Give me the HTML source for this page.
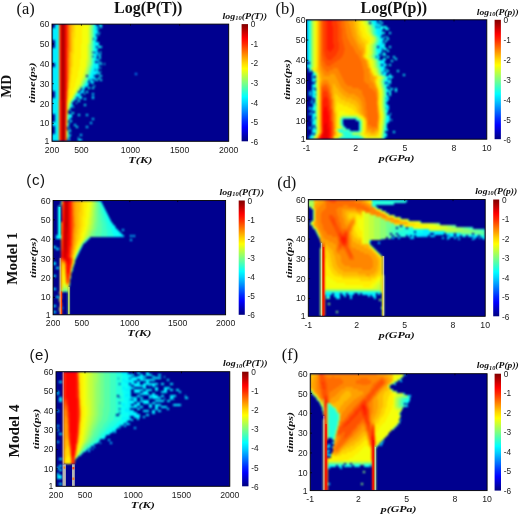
<!DOCTYPE html>
<html lang="en"><head><meta charset="utf-8"><title>Log probability maps</title>
<style>html,body{margin:0;padding:0;background:#fff}svg{display:block}.tk{font-family:'Liberation Sans', Arial, sans-serif;font-size:8.7px;fill:#1a1a1a}.ax{font-family:'Liberation Serif', 'Times New Roman', serif;font-weight:bold;font-style:italic;font-size:9.2px;fill:#111}.cbt{font-family:'Liberation Serif', 'Times New Roman', serif;font-weight:bold;font-style:italic;font-size:8px;fill:#111}.ttl{font-family:'Liberation Serif', 'Times New Roman', serif;font-weight:bold;font-size:16px;fill:#111}.row{font-family:'Liberation Serif', 'Times New Roman', serif;font-weight:bold;font-size:14.5px;fill:#111}.pl{font-size:16.4px;fill:#111}</style></head><body>
<svg width="520" height="515" viewBox="0 0 520 515">
<defs>
<linearGradient id="jet" x1="0" y1="1" x2="0" y2="0"><stop offset="0" stop-color="#000080"/><stop offset="0.04" stop-color="#0000aa"/><stop offset="0.08" stop-color="#0000d4"/><stop offset="0.12" stop-color="#0000ff"/><stop offset="0.17" stop-color="#002aff"/><stop offset="0.21" stop-color="#0055ff"/><stop offset="0.25" stop-color="#0080ff"/><stop offset="0.29" stop-color="#00aaff"/><stop offset="0.33" stop-color="#00d4ff"/><stop offset="0.38" stop-color="#00ffff"/><stop offset="0.42" stop-color="#2bffd4"/><stop offset="0.46" stop-color="#55ffaa"/><stop offset="0.5" stop-color="#80ff80"/><stop offset="0.54" stop-color="#aaff55"/><stop offset="0.58" stop-color="#d5ff2a"/><stop offset="0.62" stop-color="#ffff00"/><stop offset="0.67" stop-color="#ffd500"/><stop offset="0.71" stop-color="#ffaa00"/><stop offset="0.75" stop-color="#ff8000"/><stop offset="0.79" stop-color="#ff5500"/><stop offset="0.83" stop-color="#ff2a00"/><stop offset="0.88" stop-color="#ff0000"/><stop offset="0.92" stop-color="#d50000"/><stop offset="0.96" stop-color="#aa0000"/><stop offset="1" stop-color="#800000"/></linearGradient>
<filter id="bl" x="-5%" y="-5%" width="110%" height="110%" color-interpolation-filters="sRGB"><feGaussianBlur stdDeviation="0.8"/></filter>
<filter id="bl2" x="-20%" y="-5%" width="140%" height="110%" color-interpolation-filters="sRGB"><feGaussianBlur stdDeviation="0.4"/></filter>
<clipPath id="cpa"><rect x="52" y="24.1" width="176.7" height="117.2"/></clipPath>
<clipPath id="cpb"><rect x="306.5" y="19.8" width="180.3" height="119.4"/></clipPath>
<clipPath id="cpc"><rect x="53.1" y="200.5" width="172.5" height="114.3"/></clipPath>
<clipPath id="cpd"><rect x="308.3" y="199.5" width="176.9" height="116.8"/></clipPath>
<clipPath id="cpe"><rect x="56" y="371.7" width="173.8" height="114.6"/></clipPath>
<clipPath id="cpf"><rect x="310.2" y="373.7" width="176.9" height="116.9"/></clipPath>
</defs>
<rect width="520" height="515" fill="#fff"/>
<text class="ttl" x="148.2" y="13.0" text-anchor="middle">Log(P(T))</text>
<text class="ttl" x="393.8" y="12.6" text-anchor="middle">Log(P(p))</text>
<text class="row" style="font-size:13.8px" transform="translate(11.4 86.3) rotate(-90)" text-anchor="middle">MD</text>
<text class="row" style="font-size:15.1px" transform="translate(17.2 258.5) rotate(-90)" text-anchor="middle">Model 1</text>
<text class="row" style="font-size:15.3px" transform="translate(18.9 431) rotate(-90)" text-anchor="middle">Model 4</text>
<g id="panel-a">
<rect x="52" y="24.1" width="176.7" height="117.2" fill="#00008f"/>
<g clip-path="url(#cpa)"><g filter="url(#bl)" shape-rendering="crispEdges">
<path fill="#00a0ff" d="M134.9 72.9h2v2.1h-2z"/>
<path fill="#00efff" d="M55 24.1h40.9v2.1h-40.9zM55 26.1h42.9v2.1h-42.9zM52 28h44.9v2.1h-44.9zM97.9 28h1v2.1h-1zM52 30h45.9v2.1h-45.9zM52 31.9h45.9v2.1h-45.9zM52 33.9h43.9v2.1h-43.9zM97.9 33.9h1v2.1h-1zM52 35.8h44.9v2.1h-44.9zM52 37.8h6v2.1h-6zM94.9 37.8h2v2.1h-2zM55 39.7h40.9v2.1h-40.9zM55 41.7h42.9v2.1h-42.9zM55 43.6h42.9v2.1h-42.9zM55 45.6h40.9v2.1h-40.9zM52 47.5h45.9v2.1h-45.9zM52 49.5h44.9v2.1h-44.9zM52 51.4h6v2.1h-6zM95.9 51.4h2v2.1h-2zM52 53.4h44.9v2.1h-44.9zM97.9 53.4h1v2.1h-1zM52 55.4h6v2.1h-6zM94.9 55.4h2v2.1h-2zM52 57.3h43.9v2.1h-43.9zM52 59.3h46.9v2.1h-46.9zM52 61.2h6v2.1h-6zM97.9 61.2h1v2.1h-1zM55 63.2h43.9v2.1h-43.9zM55 65.1h43.9v2.1h-43.9zM52 67.1h45.9v2.1h-45.9zM52 69h42.9v2.1h-42.9zM95.9 69h2v2.1h-2zM52 71h45.9v2.1h-45.9zM52 72.9h44.9v2.1h-44.9zM52 74.9h6v2.1h-6zM90.9 74.9h3v2.1h-3zM52 76.8h43.9v2.1h-43.9zM52 78.8h6v2.1h-6zM89.9 78.8h2v2.1h-2zM93.9 78.8h1v2.1h-1zM52 80.7h6v2.1h-6zM89.9 80.7h4v2.1h-4zM52 82.7h36.9v2.1h-36.9zM91.9 82.7h1v2.1h-1zM52 84.7h35.9v2.1h-35.9zM52 86.6h6v2.1h-6zM83.9 86.6h1v2.1h-1zM52 88.6h6v2.1h-6zM81.9 88.6h2v2.1h-2zM55 90.5h3v2.1h-3zM80 90.5h4v2.1h-4zM55 92.5h26v2.1h-26zM91.9 92.5h2v2.1h-2zM55 94.4h25v2.1h-25zM55 96.4h3v2.1h-3zM91.9 96.4h2v2.1h-2zM52 98.3h24v2.1h-24zM83.9 98.3h2v2.1h-2zM52 100.3h22v2.1h-22zM52 102.2h6v2.1h-6zM52 104.2h21v2.1h-21zM52 106.1h20v2.1h-20zM52 108.1h6v2.1h-6zM52 110h6v2.1h-6zM70 110h1v2.1h-1zM52 112h6v2.1h-6zM55 114h15v2.1h-15zM85.9 114h2v2.1h-2zM55 115.9h15v2.1h-15zM55 117.9h15v2.1h-15zM91.9 117.9h2v2.1h-2zM55 119.8h3v2.1h-3zM52 121.8h6v2.1h-6zM89.9 121.8h2v2.1h-2zM52 123.7h17v2.1h-17zM74 123.7h2v2.1h-2zM55 125.7h3v2.1h-3zM68 125.7h1v2.1h-1zM85.9 125.7h2v2.1h-2zM55 127.6h3v2.1h-3zM55 129.6h3v2.1h-3zM55 131.5h14v2.1h-14zM52 133.5h17v2.1h-17zM80 133.5h2v2.1h-2zM52 135.4h6v2.1h-6zM52 137.4h6v2.1h-6zM68 137.4h1v2.1h-1zM52 139.3h6v2.1h-6zM78 139.3h4v2.1h-4z"/>
<path fill="#0afff5" d="M58 24.1h1v2.1h-1zM98.9 24.1h3v2.1h-3zM58 26.1h36.9v2.1h-36.9zM99.9 26.1h2v2.1h-2zM58 28h36.9v2.1h-36.9zM58 30h36.9v2.1h-36.9zM58 31.9h36.9v2.1h-36.9zM98.9 31.9h1v2.1h-1zM58 33.9h36.9v2.1h-36.9zM58 35.8h36.9v2.1h-36.9zM58 37.8h1v2.1h-1zM93.9 37.8h1v2.1h-1zM58 39.7h36.9v2.1h-36.9zM58 41.7h36.9v2.1h-36.9zM97.9 41.7h1v2.1h-1zM58 43.6h36.9v2.1h-36.9zM97.9 43.6h1v2.1h-1zM58 45.6h36.9v2.1h-36.9zM97.9 45.6h4v2.1h-4zM58 47.5h36.9v2.1h-36.9zM58 49.5h36.9v2.1h-36.9zM58 51.4h1v2.1h-1zM99.9 51.4h1v2.1h-1zM58 53.4h36.9v2.1h-36.9zM99.9 53.4h1v2.1h-1zM58 55.4h1v2.1h-1zM93.9 55.4h1v2.1h-1zM98.9 55.4h1v2.1h-1zM58 57.3h36.9v2.1h-36.9zM98.9 57.3h2v2.1h-2zM58 59.3h36.9v2.1h-36.9zM58 61.2h36.9v2.1h-36.9zM99.9 61.2h1v2.1h-1zM58 63.2h36.9v2.1h-36.9zM99.9 63.2h2v2.1h-2zM103.9 63.2h1v2.1h-1zM58 65.1h35.9v2.1h-35.9zM58 67.1h35.9v2.1h-35.9zM97.9 67.1h1v2.1h-1zM99.9 67.1h1v2.1h-1zM58 69h34.9v2.1h-34.9zM58 71h33.9v2.1h-33.9zM97.9 71h1v2.1h-1zM99.9 71h1v2.1h-1zM58 72.9h33.9v2.1h-33.9zM97.9 72.9h2v2.1h-2zM58 74.9h1v2.1h-1zM89.9 74.9h1v2.1h-1zM99.9 74.9h2v2.1h-2zM58 76.8h31.9v2.1h-31.9zM97.9 76.8h2v2.1h-2zM58 78.8h30.9v2.1h-30.9zM95.9 78.8h2v2.1h-2zM99.9 78.8h2v2.1h-2zM58 80.7h29.9v2.1h-29.9zM58 82.7h29v2.1h-29zM58 84.7h27v2.1h-27zM93.9 84.7h1v2.1h-1zM58 86.6h1v2.1h-1zM82.9 86.6h1v2.1h-1zM87.9 86.6h2v2.1h-2zM91.9 86.6h2v2.1h-2zM58 88.6h1v2.1h-1zM58 90.5h1v2.1h-1zM85.9 90.5h2v2.1h-2zM58 92.5h20v2.1h-20zM83.9 92.5h1v2.1h-1zM58 94.4h19v2.1h-19zM58 96.4h18v2.1h-18zM79 96.4h3v2.1h-3zM58 98.3h17v2.1h-17zM77 98.3h1v2.1h-1zM78 100.3h2v2.1h-2zM76 102.2h1v2.1h-1zM83.9 104.2h2v2.1h-2zM70 106.1h1v2.1h-1zM73 106.1h1v2.1h-1zM72 112h2v2.1h-2zM70 114h2v2.1h-2zM78 114h2v2.1h-2zM70 115.9h2v2.1h-2zM68 117.9h1v2.1h-1zM70 119.8h2v2.1h-2zM69 121.8h1v2.1h-1zM76 125.7h2v2.1h-2zM69 127.6h1v2.1h-1zM69 129.6h2v2.1h-2zM70 133.5h1v2.1h-1zM69 135.4h1v2.1h-1zM78 137.4h1v2.1h-1zM69 139.3h1v2.1h-1z"/>
<path fill="#24ffdb" d="M93.9 24.1h1v2.1h-1zM92.9 39.7h1v2.1h-1zM92.9 41.7h1v2.1h-1zM92.9 43.6h1v2.1h-1zM92.9 45.6h1v2.1h-1zM92.9 47.5h1v2.1h-1zM92.9 49.5h1v2.1h-1zM92.9 53.4h1v2.1h-1zM92.9 57.3h1v2.1h-1zM92.9 59.3h1v2.1h-1zM92.9 61.2h1v2.1h-1zM91.9 65.1h1v2.1h-1zM90.9 69h1v2.1h-1zM88.9 74.9h1v2.1h-1zM87.9 76.8h1v2.1h-1zM86.9 78.8h1v2.1h-1zM85.9 80.7h1v2.1h-1zM84.9 82.7h1v2.1h-1zM81.9 86.6h1v2.1h-1zM72 100.3h1v2.1h-1zM71 102.2h1v2.1h-1z"/>
<path fill="#3effc1" d="M92.9 28h1v2.1h-1zM92.9 30h1v2.1h-1zM92.9 31.9h1v2.1h-1zM92.9 33.9h1v2.1h-1zM92.9 35.8h1v2.1h-1zM91.9 57.3h1v2.1h-1zM91.9 59.3h1v2.1h-1zM91.9 61.2h1v2.1h-1zM91.9 63.2h1v2.1h-1zM90.9 67.1h1v2.1h-1zM89.9 69h1v2.1h-1zM89.9 71h1v2.1h-1zM88.9 72.9h1v2.1h-1zM87.9 74.9h1v2.1h-1zM82.9 84.7h1v2.1h-1zM75 94.4h1v2.1h-1zM74 96.4h1v2.1h-1zM73 98.3h1v2.1h-1zM58 100.3h1v2.1h-1zM70 104.2h1v2.1h-1zM69 108.1h1v2.1h-1zM68 114h1v2.1h-1z"/>
<path fill="#58ffa7" d="M92.9 24.1h1v2.1h-1zM92.9 26.1h1v2.1h-1zM91.9 37.8h1v2.1h-1zM91.9 39.7h1v2.1h-1zM91.9 41.7h1v2.1h-1zM91.9 43.6h1v2.1h-1zM91.9 45.6h1v2.1h-1zM91.9 47.5h1v2.1h-1zM91.9 49.5h1v2.1h-1zM91.9 53.4h1v2.1h-1zM90.9 65.1h1v2.1h-1zM89.9 67.1h1v2.1h-1zM88.9 71h1v2.1h-1zM86.9 76.8h1v2.1h-1zM85.9 78.8h1v2.1h-1zM84.9 80.7h1v2.1h-1zM83.9 82.7h1v2.1h-1zM79 88.6h1v2.1h-1zM76 92.5h1v2.1h-1zM58 102.2h1v2.1h-1zM58 104.2h1v2.1h-1zM58 106.1h1v2.1h-1zM58 108.1h1v2.1h-1zM58 110h1v2.1h-1zM58 112h1v2.1h-1zM58 114h1v2.1h-1zM58 115.9h1v2.1h-1zM58 117.9h1v2.1h-1zM58 119.8h1v2.1h-1zM58 121.8h1v2.1h-1zM58 123.7h1v2.1h-1zM58 125.7h1v2.1h-1zM58 127.6h1v2.1h-1zM58 129.6h1v2.1h-1zM58 131.5h1v2.1h-1zM58 133.5h1v2.1h-1zM58 135.4h1v2.1h-1zM58 137.4h1v2.1h-1zM58 139.3h1v2.1h-1z"/>
<path fill="#72ff8d" d="M91.9 24.1h1v2.1h-1zM91.9 26.1h1v2.1h-1zM91.9 28h1v2.1h-1zM91.9 30h1v2.1h-1zM91.9 31.9h1v2.1h-1zM91.9 33.9h1v2.1h-1zM91.9 35.8h1v2.1h-1zM90.9 41.7h1v2.1h-1zM90.9 43.6h1v2.1h-1zM90.9 45.6h1v2.1h-1zM90.9 47.5h1v2.1h-1zM90.9 49.5h1v2.1h-1zM90.9 51.4h1v2.1h-1zM90.9 53.4h1v2.1h-1zM90.9 55.4h1v2.1h-1zM90.9 57.3h1v2.1h-1zM90.9 59.3h1v2.1h-1zM90.9 61.2h1v2.1h-1zM90.9 63.2h1v2.1h-1zM89.9 65.1h1v2.1h-1zM88.9 69h1v2.1h-1zM87.9 71h1v2.1h-1zM87.9 72.9h1v2.1h-1zM85.9 76.8h1v2.1h-1zM84.9 78.8h1v2.1h-1zM83.9 80.7h1v2.1h-1zM82.9 82.7h1v2.1h-1zM81.9 84.7h1v2.1h-1zM80 86.6h1v2.1h-1zM77 90.5h1v2.1h-1zM72 98.3h1v2.1h-1zM71 100.3h1v2.1h-1zM70 102.2h1v2.1h-1zM69 106.1h1v2.1h-1zM67 135.4h1v2.1h-1z"/>
<path fill="#8dff72" d="M90.9 24.1h1v2.1h-1zM90.9 26.1h1v2.1h-1zM90.9 28h1v2.1h-1zM90.9 30h1v2.1h-1zM90.9 31.9h1v2.1h-1zM90.9 33.9h1v2.1h-1zM90.9 35.8h1v2.1h-1zM90.9 37.8h1v2.1h-1zM90.9 39.7h1v2.1h-1zM89.9 43.6h1v2.1h-1zM89.9 45.6h1v2.1h-1zM89.9 47.5h1v2.1h-1zM89.9 49.5h1v2.1h-1zM89.9 51.4h1v2.1h-1zM89.9 53.4h1v2.1h-1zM89.9 55.4h1v2.1h-1zM89.9 57.3h1v2.1h-1zM89.9 59.3h1v2.1h-1zM89.9 61.2h1v2.1h-1zM89.9 63.2h1v2.1h-1zM88.9 65.1h1v2.1h-1zM87.9 67.1h2v2.1h-2zM87.9 69h1v2.1h-1zM86.9 71h1v2.1h-1zM86.9 72.9h1v2.1h-1zM84.9 76.8h1v2.1h-1zM83.9 78.8h1v2.1h-1zM82.9 80.7h1v2.1h-1zM81.9 82.7h1v2.1h-1zM81 84.7h1v2.1h-1zM78 88.6h1v2.1h-1zM75 92.5h1v2.1h-1zM74 94.4h1v2.1h-1zM73 96.4h1v2.1h-1zM69 104.2h1v2.1h-1zM67 121.8h1v2.1h-1zM67 123.7h1v2.1h-1zM67 129.6h1v2.1h-1zM67 131.5h1v2.1h-1zM67 133.5h1v2.1h-1z"/>
<path fill="#a7ff58" d="M89.9 26.1h1v2.1h-1zM89.9 28h1v2.1h-1zM89.9 30h1v2.1h-1zM89.9 31.9h1v2.1h-1zM89.9 33.9h1v2.1h-1zM89.9 35.8h1v2.1h-1zM89.9 37.8h1v2.1h-1zM89.9 39.7h1v2.1h-1zM89.9 41.7h1v2.1h-1zM88.9 43.6h1v2.1h-1zM88.9 45.6h1v2.1h-1zM88.9 47.5h1v2.1h-1zM88.9 49.5h1v2.1h-1zM88.9 51.4h1v2.1h-1zM88.9 53.4h1v2.1h-1zM88.9 55.4h1v2.1h-1zM88.9 57.3h1v2.1h-1zM88.9 59.3h1v2.1h-1zM88.9 61.2h1v2.1h-1zM87.9 63.2h2v2.1h-2zM87.9 65.1h1v2.1h-1zM86.9 67.1h1v2.1h-1zM86.9 69h1v2.1h-1zM85.9 71h1v2.1h-1zM85.9 72.9h1v2.1h-1zM84.9 74.9h1v2.1h-1zM83.9 76.8h1v2.1h-1zM82.9 78.8h1v2.1h-1zM81.9 80.7h1v2.1h-1zM80 84.7h1v2.1h-1zM79 86.6h1v2.1h-1zM77 88.6h1v2.1h-1zM76 90.5h1v2.1h-1zM68 108.1h1v2.1h-1zM67 117.9h1v2.1h-1zM67 119.8h1v2.1h-1z"/>
<path fill="#c1ff3e" d="M89.9 24.1h1v2.1h-1zM88.9 26.1h1v2.1h-1zM88.9 28h1v2.1h-1zM88.9 30h1v2.1h-1zM88.9 31.9h1v2.1h-1zM88.9 33.9h1v2.1h-1zM88.9 35.8h1v2.1h-1zM88.9 37.8h1v2.1h-1zM88.9 39.7h1v2.1h-1zM88.9 41.7h1v2.1h-1zM87.9 43.6h1v2.1h-1zM87.9 45.6h1v2.1h-1zM87.9 47.5h1v2.1h-1zM87.9 49.5h1v2.1h-1zM87.9 51.4h1v2.1h-1zM87.9 53.4h1v2.1h-1zM87.9 55.4h1v2.1h-1zM87.9 57.3h1v2.1h-1zM87.9 59.3h1v2.1h-1zM86.9 61.2h2v2.1h-2zM86.9 63.2h1v2.1h-1zM86.9 65.1h1v2.1h-1zM85.9 67.1h1v2.1h-1zM85.9 69h1v2.1h-1zM84.9 71h1v2.1h-1zM83.9 72.9h2v2.1h-2zM83.9 74.9h1v2.1h-1zM82.9 76.8h1v2.1h-1zM81.9 78.8h1v2.1h-1zM81 80.7h1v2.1h-1zM81 82.7h1v2.1h-1zM79 84.7h1v2.1h-1zM78 86.6h1v2.1h-1zM74 92.5h1v2.1h-1zM73 94.4h1v2.1h-1zM72 96.4h1v2.1h-1zM71 98.3h1v2.1h-1zM70 100.3h1v2.1h-1zM69 102.2h1v2.1h-1zM68 106.1h1v2.1h-1zM67 114h1v2.1h-1zM67 115.9h1v2.1h-1z"/>
<path fill="#dbff24" d="M88.9 24.1h1v2.1h-1zM87.9 28h1v2.1h-1zM87.9 30h1v2.1h-1zM87.9 31.9h1v2.1h-1zM87.9 33.9h1v2.1h-1zM87.9 35.8h1v2.1h-1zM87.9 37.8h1v2.1h-1zM87.9 39.7h1v2.1h-1zM87.9 41.7h1v2.1h-1zM86.9 43.6h1v2.1h-1zM86.9 45.6h1v2.1h-1zM86.9 47.5h1v2.1h-1zM86.9 49.5h1v2.1h-1zM86.9 51.4h1v2.1h-1zM86.9 53.4h1v2.1h-1zM86.9 55.4h1v2.1h-1zM86.9 57.3h1v2.1h-1zM85.9 59.3h2v2.1h-2zM85.9 61.2h1v2.1h-1zM85.9 63.2h1v2.1h-1zM85.9 65.1h1v2.1h-1zM84.9 67.1h1v2.1h-1zM83.9 69h2v2.1h-2zM83.9 71h1v2.1h-1zM82.9 72.9h1v2.1h-1zM82.9 74.9h1v2.1h-1zM81.9 76.8h1v2.1h-1zM81 78.8h1v2.1h-1zM80 80.7h1v2.1h-1zM80 82.7h1v2.1h-1zM78 84.7h1v2.1h-1zM77 86.6h1v2.1h-1zM76 88.6h1v2.1h-1zM75 90.5h1v2.1h-1zM68 104.2h1v2.1h-1zM67 112h1v2.1h-1z"/>
<path fill="#f5ff0a" d="M82.9 24.1h6v2.1h-6zM82.9 26.1h6v2.1h-6zM81.9 28h6v2.1h-6zM81.9 30h6v2.1h-6zM81.9 31.9h6v2.1h-6zM81.9 33.9h6v2.1h-6zM81.9 35.8h6v2.1h-6zM81.9 37.8h6v2.1h-6zM81.9 39.7h6v2.1h-6zM81.9 41.7h6v2.1h-6zM81 43.6h6v2.1h-6zM81 45.6h6v2.1h-6zM81 47.5h6v2.1h-6zM81 49.5h6v2.1h-6zM81 51.4h6v2.1h-6zM81 53.4h6v2.1h-6zM81 55.4h6v2.1h-6zM81 57.3h6v2.1h-6zM80 59.3h6v2.1h-6zM80 61.2h6v2.1h-6zM80 63.2h6v2.1h-6zM80 65.1h6v2.1h-6zM79 67.1h6v2.1h-6zM79 69h5v2.1h-5zM78 71h6v2.1h-6zM78 72.9h5v2.1h-5zM78 74.9h5v2.1h-5zM77 76.8h5v2.1h-5zM76 78.8h5v2.1h-5zM76 80.7h4v2.1h-4zM75 82.7h5v2.1h-5zM75 84.7h3v2.1h-3zM74 86.6h3v2.1h-3zM73 88.6h3v2.1h-3zM72 90.5h3v2.1h-3zM72 92.5h2v2.1h-2zM71 94.4h2v2.1h-2zM70 96.4h2v2.1h-2zM70 98.3h1v2.1h-1zM69 100.3h1v2.1h-1zM68 102.2h1v2.1h-1zM67 108.1h1v2.1h-1zM67 110h1v2.1h-1z"/>
<path fill="#ffef00" d="M75 24.1h8v2.1h-8zM75 26.1h8v2.1h-8zM75 28h7v2.1h-7zM75 30h7v2.1h-7zM75 31.9h7v2.1h-7zM75 33.9h7v2.1h-7zM75 35.8h7v2.1h-7zM74 37.8h8v2.1h-8zM74 39.7h8v2.1h-8zM74 41.7h8v2.1h-8zM74 43.6h7v2.1h-7zM74 45.6h7v2.1h-7zM74 47.5h7v2.1h-7zM74 49.5h7v2.1h-7zM74 51.4h7v2.1h-7zM73 53.4h8v2.1h-8zM73 55.4h8v2.1h-8zM73 57.3h8v2.1h-8zM73 59.3h7v2.1h-7zM73 61.2h7v2.1h-7zM73 63.2h7v2.1h-7zM73 65.1h7v2.1h-7zM72 67.1h7v2.1h-7zM72 69h7v2.1h-7zM72 71h6v2.1h-6zM72 72.9h6v2.1h-6zM71 74.9h7v2.1h-7zM71 76.8h6v2.1h-6zM71 78.8h5v2.1h-5zM71 80.7h5v2.1h-5zM70 82.7h5v2.1h-5zM70 84.7h5v2.1h-5zM70 86.6h4v2.1h-4zM69 88.6h4v2.1h-4zM69 90.5h3v2.1h-3zM69 92.5h3v2.1h-3zM69 94.4h2v2.1h-2zM68 96.4h2v2.1h-2zM68 98.3h2v2.1h-2zM68 100.3h1v2.1h-1zM67 104.2h1v2.1h-1zM67 106.1h1v2.1h-1zM66 137.4h1v2.1h-1zM66 139.3h1v2.1h-1z"/>
<path fill="#ffd500" d="M73 24.1h2v2.1h-2zM73 26.1h2v2.1h-2zM73 28h2v2.1h-2zM73 30h2v2.1h-2zM72 31.9h3v2.1h-3zM72 33.9h3v2.1h-3zM72 35.8h3v2.1h-3zM72 37.8h2v2.1h-2zM72 39.7h2v2.1h-2zM72 41.7h2v2.1h-2zM72 43.6h2v2.1h-2zM72 45.6h2v2.1h-2zM72 47.5h2v2.1h-2zM72 49.5h2v2.1h-2zM71 51.4h3v2.1h-3zM71 53.4h2v2.1h-2zM71 55.4h2v2.1h-2zM71 57.3h2v2.1h-2zM71 59.3h2v2.1h-2zM71 61.2h2v2.1h-2zM71 63.2h2v2.1h-2zM71 65.1h2v2.1h-2zM70 67.1h2v2.1h-2zM70 69h2v2.1h-2zM70 71h2v2.1h-2zM70 72.9h2v2.1h-2zM70 74.9h1v2.1h-1zM70 76.8h1v2.1h-1zM69 78.8h2v2.1h-2zM69 80.7h2v2.1h-2zM69 82.7h1v2.1h-1zM69 84.7h1v2.1h-1zM69 86.6h1v2.1h-1zM68 88.6h1v2.1h-1zM68 90.5h1v2.1h-1zM68 92.5h1v2.1h-1zM68 94.4h1v2.1h-1zM67 102.2h1v2.1h-1zM66 129.6h1v2.1h-1zM66 131.5h1v2.1h-1zM66 133.5h1v2.1h-1zM66 135.4h1v2.1h-1z"/>
<path fill="#ffba00" d="M71 24.1h2v2.1h-2zM71 26.1h2v2.1h-2zM71 28h2v2.1h-2zM71 30h2v2.1h-2zM71 31.9h1v2.1h-1zM71 33.9h1v2.1h-1zM71 35.8h1v2.1h-1zM71 37.8h1v2.1h-1zM71 39.7h1v2.1h-1zM71 41.7h1v2.1h-1zM71 43.6h1v2.1h-1zM71 45.6h1v2.1h-1zM71 47.5h1v2.1h-1zM71 49.5h1v2.1h-1zM70 51.4h1v2.1h-1zM70 53.4h1v2.1h-1zM70 55.4h1v2.1h-1zM70 57.3h1v2.1h-1zM70 59.3h1v2.1h-1zM70 61.2h1v2.1h-1zM70 63.2h1v2.1h-1zM70 65.1h1v2.1h-1zM69 72.9h1v2.1h-1zM69 74.9h1v2.1h-1zM69 76.8h1v2.1h-1zM68 86.6h1v2.1h-1zM67 98.3h1v2.1h-1zM67 100.3h1v2.1h-1zM66 121.8h1v2.1h-1zM66 123.7h1v2.1h-1zM66 125.7h1v2.1h-1zM66 127.6h1v2.1h-1z"/>
<path fill="#ffa000" d="M70 24.1h1v2.1h-1zM70 26.1h1v2.1h-1zM70 28h1v2.1h-1zM70 30h1v2.1h-1zM70 31.9h1v2.1h-1zM70 33.9h1v2.1h-1zM70 35.8h1v2.1h-1zM70 37.8h1v2.1h-1zM70 39.7h1v2.1h-1zM70 41.7h1v2.1h-1zM70 43.6h1v2.1h-1zM70 45.6h1v2.1h-1zM70 47.5h1v2.1h-1zM70 49.5h1v2.1h-1zM69 51.4h1v2.1h-1zM69 53.4h1v2.1h-1zM69 55.4h1v2.1h-1zM69 57.3h1v2.1h-1zM69 59.3h1v2.1h-1zM69 61.2h1v2.1h-1zM69 63.2h1v2.1h-1zM69 65.1h1v2.1h-1zM69 67.1h1v2.1h-1zM69 69h1v2.1h-1zM69 71h1v2.1h-1zM68 80.7h1v2.1h-1zM68 82.7h1v2.1h-1zM68 84.7h1v2.1h-1zM67 94.4h1v2.1h-1zM67 96.4h1v2.1h-1zM66 117.9h1v2.1h-1zM66 119.8h1v2.1h-1z"/>
<path fill="#ff8600" d="M59 24.1h11v2.1h-11zM59 26.1h11v2.1h-11zM59 28h11v2.1h-11zM59 30h11v2.1h-11zM59 31.9h11v2.1h-11zM59 33.9h11v2.1h-11zM59 35.8h11v2.1h-11zM59 37.8h11v2.1h-11zM59 39.7h11v2.1h-11zM59 41.7h11v2.1h-11zM59 43.6h11v2.1h-11zM59 45.6h11v2.1h-11zM59 47.5h11v2.1h-11zM59 49.5h11v2.1h-11zM59 51.4h1v2.1h-1zM59 53.4h1v2.1h-1zM59 55.4h1v2.1h-1zM59 57.3h10v2.1h-10zM59 59.3h10v2.1h-10zM59 61.2h10v2.1h-10zM59 63.2h10v2.1h-10zM59 65.1h10v2.1h-10zM59 67.1h10v2.1h-10zM59 69h10v2.1h-10zM59 71h10v2.1h-10zM59 72.9h10v2.1h-10zM59 74.9h10v2.1h-10zM59 76.8h10v2.1h-10zM59 78.8h10v2.1h-10zM59 80.7h1v2.1h-1zM59 82.7h1v2.1h-1zM59 84.7h1v2.1h-1zM59 86.6h1v2.1h-1zM59 88.6h1v2.1h-1zM59 90.5h9v2.1h-9zM59 92.5h9v2.1h-9zM59 94.4h1v2.1h-1zM59 96.4h1v2.1h-1zM59 98.3h1v2.1h-1zM66 114h1v2.1h-1zM66 115.9h1v2.1h-1z"/>
<path fill="#ff6c00" d="M68 24.1h1v2.1h-1zM68 26.1h1v2.1h-1zM68 28h1v2.1h-1zM68 30h1v2.1h-1zM68 31.9h1v2.1h-1zM68 33.9h1v2.1h-1zM68 35.8h1v2.1h-1zM68 37.8h1v2.1h-1zM68 39.7h1v2.1h-1zM68 41.7h1v2.1h-1zM68 43.6h1v2.1h-1zM68 45.6h1v2.1h-1zM68 47.5h1v2.1h-1zM68 49.5h1v2.1h-1zM68 51.4h1v2.1h-1zM68 53.4h1v2.1h-1zM68 55.4h1v2.1h-1zM67 82.7h1v2.1h-1zM67 84.7h1v2.1h-1zM67 86.6h1v2.1h-1zM67 88.6h1v2.1h-1zM59 100.3h1v2.1h-1zM66 110h1v2.1h-1zM66 112h1v2.1h-1z"/>
<path fill="#ff5200" d="M67 47.5h1v2.1h-1zM67 49.5h1v2.1h-1zM67 51.4h1v2.1h-1zM67 53.4h1v2.1h-1zM67 55.4h1v2.1h-1zM67 57.3h1v2.1h-1zM67 59.3h1v2.1h-1zM67 61.2h1v2.1h-1zM67 63.2h1v2.1h-1zM67 65.1h1v2.1h-1zM67 67.1h1v2.1h-1zM67 69h1v2.1h-1zM67 71h1v2.1h-1zM67 72.9h1v2.1h-1zM67 74.9h1v2.1h-1zM67 76.8h1v2.1h-1zM67 78.8h1v2.1h-1zM67 80.7h1v2.1h-1zM66 100.3h1v2.1h-1zM59 102.2h8v2.1h-8zM59 104.2h8v2.1h-8zM59 106.1h8v2.1h-8zM59 108.1h8v2.1h-8zM59 110h1v2.1h-1zM59 112h1v2.1h-1zM59 114h1v2.1h-1zM59 115.9h1v2.1h-1zM59 117.9h1v2.1h-1zM59 119.8h1v2.1h-1zM59 121.8h1v2.1h-1zM59 123.7h1v2.1h-1zM59 125.7h1v2.1h-1zM59 127.6h1v2.1h-1zM59 129.6h1v2.1h-1zM59 131.5h1v2.1h-1zM59 133.5h1v2.1h-1zM59 135.4h1v2.1h-1zM59 137.4h1v2.1h-1zM59 139.3h1v2.1h-1z"/>
<path fill="#ff3800" d="M67 24.1h1v2.1h-1zM67 26.1h1v2.1h-1zM67 28h1v2.1h-1zM67 30h1v2.1h-1zM67 31.9h1v2.1h-1zM67 33.9h1v2.1h-1zM67 35.8h1v2.1h-1zM67 37.8h1v2.1h-1zM67 39.7h1v2.1h-1zM67 41.7h1v2.1h-1zM67 43.6h1v2.1h-1zM67 45.6h1v2.1h-1zM66 90.5h1v2.1h-1zM66 92.5h1v2.1h-1zM66 94.4h1v2.1h-1zM66 96.4h1v2.1h-1zM66 98.3h1v2.1h-1z"/>
<path fill="#ff1d00" d="M66 24.1h1v2.1h-1zM66 26.1h1v2.1h-1zM66 28h1v2.1h-1zM66 30h1v2.1h-1zM66 31.9h1v2.1h-1zM66 33.9h1v2.1h-1zM66 35.8h1v2.1h-1zM66 37.8h1v2.1h-1zM66 39.7h1v2.1h-1zM66 41.7h1v2.1h-1zM66 43.6h1v2.1h-1zM66 45.6h1v2.1h-1zM66 47.5h1v2.1h-1zM66 49.5h1v2.1h-1zM66 51.4h1v2.1h-1zM66 53.4h1v2.1h-1zM66 55.4h1v2.1h-1zM66 57.3h1v2.1h-1zM66 59.3h1v2.1h-1zM66 61.2h1v2.1h-1zM66 63.2h1v2.1h-1zM66 65.1h1v2.1h-1zM66 67.1h1v2.1h-1zM66 69h1v2.1h-1zM66 71h1v2.1h-1zM66 72.9h1v2.1h-1zM66 74.9h1v2.1h-1zM66 76.8h1v2.1h-1zM66 78.8h1v2.1h-1zM66 80.7h1v2.1h-1zM66 82.7h1v2.1h-1zM66 84.7h1v2.1h-1zM66 86.6h1v2.1h-1zM66 88.6h1v2.1h-1zM60 102.2h1v2.1h-1zM60 104.2h1v2.1h-1zM60 106.1h1v2.1h-1zM60 108.1h1v2.1h-1zM60 110h1v2.1h-1zM60 112h1v2.1h-1zM60 114h1v2.1h-1zM60 115.9h1v2.1h-1zM60 117.9h1v2.1h-1zM60 119.8h1v2.1h-1zM60 121.8h1v2.1h-1zM60 123.7h1v2.1h-1zM60 125.7h1v2.1h-1zM60 127.6h1v2.1h-1zM60 129.6h1v2.1h-1zM60 131.5h1v2.1h-1zM60 133.5h1v2.1h-1zM60 135.4h1v2.1h-1zM60 137.4h1v2.1h-1zM60 139.3h1v2.1h-1z"/>
<path fill="#ff0300" d="M60 24.1h1v2.1h-1zM60 26.1h1v2.1h-1zM60 28h1v2.1h-1zM60 30h1v2.1h-1zM60 31.9h1v2.1h-1zM60 33.9h1v2.1h-1zM60 35.8h1v2.1h-1zM60 37.8h1v2.1h-1zM60 39.7h1v2.1h-1zM60 41.7h1v2.1h-1zM60 43.6h1v2.1h-1zM60 45.6h1v2.1h-1zM60 47.5h1v2.1h-1zM60 49.5h1v2.1h-1zM60 51.4h1v2.1h-1zM60 53.4h1v2.1h-1zM60 55.4h1v2.1h-1zM60 57.3h1v2.1h-1zM60 59.3h1v2.1h-1zM60 61.2h1v2.1h-1zM60 63.2h1v2.1h-1zM60 65.1h1v2.1h-1zM60 67.1h1v2.1h-1zM60 69h1v2.1h-1zM60 71h1v2.1h-1zM60 72.9h1v2.1h-1zM60 74.9h1v2.1h-1zM60 76.8h1v2.1h-1zM60 78.8h1v2.1h-1zM60 80.7h1v2.1h-1zM60 82.7h1v2.1h-1zM60 84.7h1v2.1h-1zM60 86.6h1v2.1h-1zM60 88.6h1v2.1h-1zM60 90.5h1v2.1h-1zM60 92.5h1v2.1h-1zM60 94.4h1v2.1h-1zM60 96.4h1v2.1h-1zM60 98.3h1v2.1h-1zM60 100.3h1v2.1h-1z"/>
<path fill="#e80000" d="M65 24.1h1v2.1h-1zM65 26.1h1v2.1h-1zM65 28h1v2.1h-1zM65 30h1v2.1h-1zM65 31.9h1v2.1h-1zM65 33.9h1v2.1h-1zM65 35.8h1v2.1h-1zM65 37.8h1v2.1h-1zM65 39.7h1v2.1h-1zM65 41.7h1v2.1h-1zM65 43.6h1v2.1h-1zM65 45.6h1v2.1h-1zM65 47.5h1v2.1h-1zM65 49.5h1v2.1h-1zM65 51.4h1v2.1h-1zM65 53.4h1v2.1h-1zM65 55.4h1v2.1h-1zM65 57.3h1v2.1h-1zM65 59.3h1v2.1h-1zM65 61.2h1v2.1h-1zM65 63.2h1v2.1h-1zM65 65.1h1v2.1h-1zM65 67.1h1v2.1h-1zM65 69h1v2.1h-1zM65 71h1v2.1h-1zM65 72.9h1v2.1h-1zM65 74.9h1v2.1h-1zM65 76.8h1v2.1h-1zM65 78.8h1v2.1h-1zM65 80.7h1v2.1h-1zM65 82.7h1v2.1h-1zM65 84.7h1v2.1h-1zM65 86.6h1v2.1h-1zM65 88.6h1v2.1h-1zM65 90.5h1v2.1h-1zM65 92.5h1v2.1h-1zM65 94.4h1v2.1h-1zM65 96.4h1v2.1h-1zM65 98.3h1v2.1h-1zM61 100.3h5v2.1h-5zM61 102.2h5v2.1h-5zM61 104.2h5v2.1h-5zM61 106.1h5v2.1h-5zM61 108.1h5v2.1h-5zM61 110h5v2.1h-5zM61 112h5v2.1h-5zM61 114h5v2.1h-5zM61 115.9h5v2.1h-5zM61 117.9h5v2.1h-5zM61 119.8h5v2.1h-5zM61 121.8h5v2.1h-5zM61 123.7h5v2.1h-5zM61 125.7h5v2.1h-5zM61 127.6h5v2.1h-5zM61 129.6h5v2.1h-5zM61 131.5h5v2.1h-5zM61 133.5h5v2.1h-5zM61 135.4h5v2.1h-5zM61 137.4h5v2.1h-5zM61 139.3h5v2.1h-5z"/>
<path fill="#ce0000" d="M61 24.1h4v2.1h-4zM61 26.1h4v2.1h-4zM61 28h4v2.1h-4zM61 30h4v2.1h-4zM61 31.9h4v2.1h-4zM61 33.9h4v2.1h-4zM61 35.8h4v2.1h-4zM61 37.8h4v2.1h-4zM61 39.7h4v2.1h-4zM61 41.7h4v2.1h-4zM61 43.6h4v2.1h-4zM61 45.6h4v2.1h-4zM61 47.5h4v2.1h-4zM61 49.5h4v2.1h-4zM61 51.4h4v2.1h-4zM61 53.4h4v2.1h-4zM61 55.4h4v2.1h-4zM61 57.3h4v2.1h-4zM61 59.3h4v2.1h-4zM61 61.2h4v2.1h-4zM61 63.2h4v2.1h-4zM61 65.1h4v2.1h-4zM61 67.1h4v2.1h-4zM61 69h4v2.1h-4zM61 71h4v2.1h-4zM61 72.9h4v2.1h-4zM61 74.9h4v2.1h-4zM61 76.8h4v2.1h-4zM61 78.8h4v2.1h-4zM61 80.7h4v2.1h-4zM61 82.7h4v2.1h-4zM61 84.7h4v2.1h-4zM61 86.6h4v2.1h-4zM61 88.6h4v2.1h-4zM61 90.5h4v2.1h-4zM61 92.5h4v2.1h-4zM61 94.4h4v2.1h-4zM61 96.4h4v2.1h-4zM61 98.3h4v2.1h-4zM64 100.3h1v2.1h-1zM64 102.2h1v2.1h-1zM64 104.2h1v2.1h-1zM64 106.1h1v2.1h-1zM64 108.1h1v2.1h-1zM64 110h1v2.1h-1zM64 112h1v2.1h-1zM64 114h1v2.1h-1zM64 115.9h1v2.1h-1zM64 117.9h1v2.1h-1zM64 119.8h1v2.1h-1zM64 121.8h1v2.1h-1zM64 123.7h1v2.1h-1zM64 125.7h1v2.1h-1zM64 127.6h1v2.1h-1zM64 129.6h1v2.1h-1zM64 131.5h1v2.1h-1zM64 133.5h1v2.1h-1zM64 135.4h1v2.1h-1zM64 137.4h1v2.1h-1zM64 139.3h1v2.1h-1z"/>
<path fill="#b40000" d="M63 24.1h1v2.1h-1zM63 26.1h1v2.1h-1zM63 28h1v2.1h-1zM63 30h1v2.1h-1zM63 31.9h1v2.1h-1zM63 33.9h1v2.1h-1zM63 35.8h1v2.1h-1zM63 37.8h1v2.1h-1zM63 39.7h1v2.1h-1zM63 41.7h1v2.1h-1zM63 43.6h1v2.1h-1zM63 45.6h1v2.1h-1zM63 47.5h1v2.1h-1zM63 49.5h1v2.1h-1zM63 51.4h1v2.1h-1zM63 53.4h1v2.1h-1zM63 55.4h1v2.1h-1zM63 57.3h1v2.1h-1zM63 59.3h1v2.1h-1zM63 61.2h1v2.1h-1zM63 63.2h1v2.1h-1zM63 65.1h1v2.1h-1zM63 67.1h1v2.1h-1zM63 69h1v2.1h-1zM63 71h1v2.1h-1zM63 72.9h1v2.1h-1zM63 74.9h1v2.1h-1zM63 76.8h1v2.1h-1zM63 78.8h1v2.1h-1zM63 80.7h1v2.1h-1zM63 82.7h1v2.1h-1zM63 84.7h1v2.1h-1zM63 86.6h1v2.1h-1zM63 88.6h1v2.1h-1zM63 90.5h1v2.1h-1zM63 92.5h1v2.1h-1zM63 94.4h1v2.1h-1zM63 96.4h1v2.1h-1zM63 98.3h1v2.1h-1zM62 100.3h2v2.1h-2zM62 102.2h1v2.1h-1zM62 104.2h1v2.1h-1zM62 106.1h1v2.1h-1zM62 108.1h1v2.1h-1zM62 110h1v2.1h-1zM62 112h1v2.1h-1zM62 114h1v2.1h-1zM62 115.9h1v2.1h-1zM62 117.9h1v2.1h-1zM62 119.8h1v2.1h-1zM62 121.8h1v2.1h-1zM62 123.7h1v2.1h-1zM62 125.7h1v2.1h-1zM62 127.6h1v2.1h-1zM62 129.6h1v2.1h-1zM62 131.5h1v2.1h-1zM62 133.5h1v2.1h-1zM62 135.4h1v2.1h-1zM62 137.4h1v2.1h-1zM62 139.3h1v2.1h-1z"/>
<path fill="#9a0000" d="M62 24.1h1v2.1h-1zM62 26.1h1v2.1h-1zM62 28h1v2.1h-1zM62 30h1v2.1h-1zM62 31.9h1v2.1h-1zM62 33.9h1v2.1h-1zM62 35.8h1v2.1h-1zM62 37.8h1v2.1h-1zM62 39.7h1v2.1h-1zM62 41.7h1v2.1h-1zM62 43.6h1v2.1h-1zM62 45.6h1v2.1h-1zM62 47.5h1v2.1h-1zM62 49.5h1v2.1h-1zM62 51.4h1v2.1h-1zM62 53.4h1v2.1h-1zM62 55.4h1v2.1h-1zM62 57.3h1v2.1h-1zM62 59.3h1v2.1h-1zM62 61.2h1v2.1h-1zM62 63.2h1v2.1h-1zM62 65.1h1v2.1h-1zM62 67.1h1v2.1h-1zM62 69h1v2.1h-1zM62 71h1v2.1h-1zM62 72.9h1v2.1h-1zM62 74.9h1v2.1h-1zM62 76.8h1v2.1h-1zM62 78.8h1v2.1h-1zM62 80.7h1v2.1h-1zM62 82.7h1v2.1h-1zM62 84.7h1v2.1h-1zM62 86.6h1v2.1h-1zM62 88.6h1v2.1h-1zM62 90.5h1v2.1h-1zM62 92.5h1v2.1h-1zM62 94.4h1v2.1h-1zM62 96.4h1v2.1h-1zM62 98.3h1v2.1h-1zM63 102.2h1v2.1h-1zM63 104.2h1v2.1h-1zM63 106.1h1v2.1h-1zM63 108.1h1v2.1h-1zM63 110h1v2.1h-1zM63 112h1v2.1h-1zM63 114h1v2.1h-1zM63 115.9h1v2.1h-1zM63 117.9h1v2.1h-1zM63 119.8h1v2.1h-1zM63 121.8h1v2.1h-1zM63 123.7h1v2.1h-1zM63 125.7h1v2.1h-1zM63 127.6h1v2.1h-1zM63 129.6h1v2.1h-1zM63 131.5h1v2.1h-1zM63 133.5h1v2.1h-1zM63 135.4h1v2.1h-1zM63 137.4h1v2.1h-1zM63 139.3h1v2.1h-1z"/>
</g></g>
<rect x="52" y="24.1" width="176.7" height="117.2" fill="none" stroke="#000" stroke-width="0.9"/>
<text class="tk" x="49.4" y="27.1" text-anchor="end">60</text>
<text class="tk" x="49.4" y="46.96" text-anchor="end">50</text>
<path d="M52 43.96h1.8" stroke="#000" stroke-width="0.8"/>
<text class="tk" x="49.4" y="66.83" text-anchor="end">40</text>
<path d="M52 63.83h1.8" stroke="#000" stroke-width="0.8"/>
<text class="tk" x="49.4" y="86.69" text-anchor="end">30</text>
<path d="M52 83.69h1.8" stroke="#000" stroke-width="0.8"/>
<text class="tk" x="49.4" y="106.56" text-anchor="end">20</text>
<path d="M52 103.56h1.8" stroke="#000" stroke-width="0.8"/>
<text class="tk" x="49.4" y="126.42" text-anchor="end">10</text>
<path d="M52 123.42h1.8" stroke="#000" stroke-width="0.8"/>
<text class="tk" x="49.4" y="144.3" text-anchor="end">1</text>
<text class="tk" x="52" y="152.9" text-anchor="middle">200</text>
<text class="tk" x="81.45" y="152.9" text-anchor="middle">500</text>
<path d="M81.45 24.1v1.6" stroke="#000" stroke-width="0.8"/>
<text class="tk" x="130.53" y="152.9" text-anchor="middle">1000</text>
<path d="M130.53 24.1v1.6" stroke="#000" stroke-width="0.8"/>
<text class="tk" x="179.62" y="152.9" text-anchor="middle">1500</text>
<path d="M179.62 24.1v1.6" stroke="#000" stroke-width="0.8"/>
<text class="tk" x="228.7" y="152.9" text-anchor="middle">2000</text>
<text class="ax" x="140.35" y="162.9" text-anchor="middle" textLength="24.2" lengthAdjust="spacingAndGlyphs">T(K)</text>
<text class="ax" transform="translate(35.2 82.7) rotate(-90)" text-anchor="middle" textLength="40.5" lengthAdjust="spacingAndGlyphs">time(ps)</text>
<rect x="241.6" y="24.1" width="6.4" height="117.2" fill="url(#jet)"/>
<text class="tk" style="font-size:8.3px" x="250.7" y="27.4">0</text>
<text class="tk" style="font-size:8.3px" x="250.7" y="46.93">-1</text>
<text class="tk" style="font-size:8.3px" x="250.7" y="66.47">-2</text>
<text class="tk" style="font-size:8.3px" x="250.7" y="86">-3</text>
<text class="tk" style="font-size:8.3px" x="250.7" y="105.53">-4</text>
<text class="tk" style="font-size:8.3px" x="250.7" y="125.07">-5</text>
<text class="tk" style="font-size:8.3px" x="250.7" y="144.6">-6</text>
<text class="cbt" x="244.8" y="18.8" text-anchor="middle" textLength="44.4" lengthAdjust="spacingAndGlyphs">log<tspan font-size="5.2px" dy="1.2">10</tspan><tspan dy="-1.2">(P(T))</tspan></text>
<text class="pl" style="font-family:'Liberation Serif', 'Times New Roman', serif" x="16.6" y="14">(a)</text>
</g>
<g id="panel-b">
<rect x="306.5" y="19.8" width="180.3" height="119.4" fill="#00008f"/>
<g clip-path="url(#cpb)"><g filter="url(#bl)" shape-rendering="crispEdges">
<path fill="#00d4ff" d="M375.6 19.8h1v2.1h-1zM377.6 23.8h1v2.1h-1zM379.6 27.8h1v2.1h-1zM379.6 29.8h1v2.1h-1zM379.6 31.7h1v2.1h-1zM380.6 33.7h1v2.1h-1zM382.6 35.7h1v2.1h-1zM381.6 43.7h1v2.1h-1zM381.6 45.7h1v2.1h-1zM380.6 53.6h1v2.1h-1zM383.6 59.6h1v2.1h-1zM383.6 61.6h1v2.1h-1zM383.6 65.6h1v2.1h-1zM384.6 69.5h1v2.1h-1zM385.6 71.5h1v2.1h-1zM389.6 75.5h1v2.1h-1zM387.6 79.5h1v2.1h-1zM387.6 83.5h1v2.1h-1zM308.5 91.4h2v2.1h-2zM308.5 93.4h2v2.1h-2zM310.5 101.4h1v2.1h-1zM387.6 105.4h1v2.1h-1zM308.5 107.4h2v2.1h-2zM310.5 111.3h1v2.1h-1zM308.5 113.3h2v2.1h-2zM388.6 115.3h1v2.1h-1zM388.6 117.3h1v2.1h-1zM310.5 119.3h1v2.1h-1zM308.5 127.3h2v2.1h-2z"/>
<path fill="#00efff" d="M306.5 19.8h69.1v2.1h-69.1zM306.5 21.8h2v2.1h-2zM372.6 21.8h4v2.1h-4zM306.5 23.8h71.1v2.1h-71.1zM306.5 25.8h2v2.1h-2zM376.6 25.8h2v2.1h-2zM306.5 27.8h73.1v2.1h-73.1zM306.5 29.8h73.1v2.1h-73.1zM306.5 31.7h73.1v2.1h-73.1zM306.5 33.7h74.1v2.1h-74.1zM306.5 35.7h74.1v2.1h-74.1zM306.5 37.7h77.1v2.1h-77.1zM306.5 39.7h76.1v2.1h-76.1zM306.5 41.7h76.1v2.1h-76.1zM306.5 43.7h75.1v2.1h-75.1zM306.5 45.7h2v2.1h-2zM378.6 45.7h3v2.1h-3zM306.5 47.7h75.1v2.1h-75.1zM306.5 49.6h75.1v2.1h-75.1zM306.5 51.6h74.1v2.1h-74.1zM306.5 53.6h72.1v2.1h-72.1zM306.5 55.6h2v2.1h-2zM376.6 55.6h3v2.1h-3zM306.5 57.6h2v2.1h-2zM306.5 59.6h77.1v2.1h-77.1zM380.6 61.6h3v2.1h-3zM306.5 63.6h2v2.1h-2zM382.6 63.6h2v2.1h-2zM306.5 65.6h77.1v2.1h-77.1zM382.6 67.6h2v2.1h-2zM308.5 69.5h2v2.1h-2zM381.6 69.5h2v2.1h-2zM382.6 71.5h3v2.1h-3zM311.5 73.5h74.1v2.1h-74.1zM311.5 75.5h1v2.1h-1zM386.6 75.5h3v2.1h-3zM311.5 77.5h76.1v2.1h-76.1zM311.5 79.5h2v2.1h-2zM384.6 79.5h3v2.1h-3zM386.6 81.5h1v2.1h-1zM311.5 83.5h76.1v2.1h-76.1zM311.5 85.5h75.1v2.1h-75.1zM311.5 87.5h1v2.1h-1zM311.5 89.4h2v2.1h-2zM386.6 89.4h2v2.1h-2zM311.5 91.4h2v2.1h-2zM311.5 93.4h2v2.1h-2zM311.5 95.4h76.1v2.1h-76.1zM386.6 97.4h2v2.1h-2zM311.5 99.4h1v2.1h-1zM385.6 99.4h2v2.1h-2zM312.5 103.4h1v2.1h-1zM385.6 103.4h1v2.1h-1zM312.5 105.4h75.1v2.1h-75.1zM311.5 107.4h2v2.1h-2zM386.6 107.4h2v2.1h-2zM311.5 109.3h76.1v2.1h-76.1zM386.6 111.3h1v2.1h-1zM311.5 113.3h2v2.1h-2zM311.5 115.3h77.1v2.1h-77.1zM311.5 117.3h2v2.1h-2zM386.6 117.3h2v2.1h-2zM312.5 119.3h1v2.1h-1zM386.6 119.3h2v2.1h-2zM311.5 121.3h2v2.1h-2zM386.6 121.3h2v2.1h-2zM311.5 123.3h2v2.1h-2zM311.5 125.3h1v2.1h-1zM385.6 125.3h1v2.1h-1zM312.5 127.3h1v2.1h-1zM385.6 127.3h1v2.1h-1zM311.5 129.2h2v2.1h-2zM385.6 129.2h2v2.1h-2zM311.5 131.2h2v2.1h-2zM311.5 133.2h1v2.1h-1zM384.6 133.2h2v2.1h-2zM309.5 135.2h77.1v2.1h-77.1zM308.5 137.2h2v2.1h-2z"/>
<path fill="#0afff5" d="M308.5 19.8h64.1v2.1h-64.1zM378.6 19.8h2v2.1h-2zM308.5 21.8h1v2.1h-1zM377.6 21.8h1v2.1h-1zM380.6 21.8h2v2.1h-2zM308.5 23.8h66.1v2.1h-66.1zM378.6 23.8h2v2.1h-2zM308.5 25.8h67.1v2.1h-67.1zM379.6 25.8h7v2.1h-7zM308.5 27.8h1v2.1h-1zM380.6 27.8h2v2.1h-2zM384.6 27.8h4v2.1h-4zM308.5 29.8h68.1v2.1h-68.1zM380.6 29.8h1v2.1h-1zM308.5 31.7h68.1v2.1h-68.1zM380.6 31.7h4v2.1h-4zM388.6 31.7h2v2.1h-2zM308.5 33.7h69.1v2.1h-69.1zM308.5 35.7h71.1v2.1h-71.1zM384.6 35.7h1v2.1h-1zM386.6 35.7h1v2.1h-1zM308.5 37.7h72.1v2.1h-72.1zM386.6 37.7h2v2.1h-2zM308.5 39.7h72.1v2.1h-72.1zM384.6 39.7h2v2.1h-2zM308.5 41.7h71.1v2.1h-71.1zM383.6 41.7h1v2.1h-1zM308.5 43.7h70.1v2.1h-70.1zM382.6 43.7h2v2.1h-2zM308.5 45.7h1v2.1h-1zM382.6 45.7h2v2.1h-2zM388.6 45.7h2v2.1h-2zM308.5 47.7h69.1v2.1h-69.1zM382.6 47.7h4v2.1h-4zM308.5 49.6h69.1v2.1h-69.1zM386.6 49.6h2v2.1h-2zM308.5 51.6h70.1v2.1h-70.1zM382.6 51.6h2v2.1h-2zM308.5 53.6h69.1v2.1h-69.1zM382.6 53.6h3v2.1h-3zM308.5 55.6h1v2.1h-1zM386.6 55.6h2v2.1h-2zM392.6 55.6h2v2.1h-2zM308.5 57.6h70.1v2.1h-70.1zM382.6 57.6h3v2.1h-3zM394.6 57.6h2v2.1h-2zM308.5 59.6h72.1v2.1h-72.1zM390.6 59.6h2v2.1h-2zM379.6 61.6h1v2.1h-1zM308.5 63.6h72.1v2.1h-72.1zM384.6 63.6h2v2.1h-2zM388.6 63.6h2v2.1h-2zM308.5 65.6h72.1v2.1h-72.1zM308.5 67.6h74.1v2.1h-74.1zM385.6 67.6h1v2.1h-1zM386.6 69.5h2v2.1h-2zM396.6 69.5h2v2.1h-2zM312.5 71.5h1v2.1h-1zM313.5 73.5h70.1v2.1h-70.1zM388.6 73.5h2v2.1h-2zM402.7 73.5h2v2.1h-2zM390.6 75.5h2v2.1h-2zM313.5 77.5h73.1v2.1h-73.1zM389.6 77.5h1v2.1h-1zM313.5 79.5h1v2.1h-1zM388.6 79.5h2v2.1h-2zM388.6 81.5h2v2.1h-2zM313.5 83.5h72.1v2.1h-72.1zM313.5 85.5h1v2.1h-1zM388.6 85.5h1v2.1h-1zM385.6 87.5h1v2.1h-1zM390.6 87.5h2v2.1h-2zM394.6 87.5h2v2.1h-2zM313.5 89.4h1v2.1h-1zM385.6 89.4h1v2.1h-1zM389.6 89.4h1v2.1h-1zM394.6 89.4h2v2.1h-2zM313.5 91.4h73.1v2.1h-73.1zM388.6 91.4h2v2.1h-2zM313.5 93.4h1v2.1h-1zM385.6 93.4h1v2.1h-1zM388.6 93.4h2v2.1h-2zM313.5 95.4h73.1v2.1h-73.1zM313.5 103.4h1v2.1h-1zM313.5 105.4h1v2.1h-1zM313.5 107.4h1v2.1h-1zM313.5 109.3h73.1v2.1h-73.1zM385.6 111.3h1v2.1h-1zM313.5 113.3h1v2.1h-1zM389.6 113.3h1v2.1h-1zM313.5 115.3h1v2.1h-1zM313.5 117.3h1v2.1h-1zM313.5 119.3h29v2.1h-29zM355.6 119.3h31.1v2.1h-31.1zM388.6 119.3h1v2.1h-1zM390.6 119.3h1v2.1h-1zM313.5 121.3h29v2.1h-29zM358.6 121.3h28v2.1h-28zM313.5 123.3h29v2.1h-29zM358.6 123.3h28v2.1h-28zM342.6 125.3h1v2.1h-1zM358.6 125.3h1v2.1h-1zM313.5 127.3h1v2.1h-1zM344.6 127.3h1v2.1h-1zM358.6 127.3h1v2.1h-1zM313.5 129.2h36.1v2.1h-36.1zM358.6 129.2h27v2.1h-27zM313.5 131.2h1v2.1h-1zM392.6 131.2h2v2.1h-2zM311.5 135.2h1v2.1h-1zM310.5 137.2h74.1v2.1h-74.1z"/>
<path fill="#24ffdb" d="M370.6 19.8h1v2.1h-1zM371.6 21.8h1v2.1h-1zM372.6 23.8h1v2.1h-1zM373.6 25.8h1v2.1h-1zM374.6 27.8h1v2.1h-1zM374.6 29.8h1v2.1h-1zM374.6 31.7h1v2.1h-1zM375.6 33.7h1v2.1h-1zM377.6 35.7h1v2.1h-1zM378.6 37.7h1v2.1h-1zM378.6 39.7h1v2.1h-1zM377.6 41.7h1v2.1h-1zM376.6 43.7h1v2.1h-1zM375.6 47.7h1v2.1h-1zM375.6 49.6h1v2.1h-1zM376.6 51.6h1v2.1h-1zM375.6 53.6h1v2.1h-1zM374.6 55.6h1v2.1h-1zM376.6 57.6h1v2.1h-1zM378.6 59.6h1v2.1h-1zM378.6 61.6h1v2.1h-1zM378.6 65.6h1v2.1h-1zM380.6 67.6h1v2.1h-1zM380.6 69.5h1v2.1h-1zM381.6 73.5h1v2.1h-1zM385.6 75.5h1v2.1h-1zM384.6 77.5h1v2.1h-1zM383.6 79.5h1v2.1h-1zM383.6 81.5h1v2.1h-1zM384.6 85.5h1v2.1h-1zM384.6 87.5h1v2.1h-1zM384.6 97.4h1v2.1h-1zM384.6 99.4h1v2.1h-1zM384.6 101.4h1v2.1h-1zM384.6 103.4h1v2.1h-1zM384.6 105.4h1v2.1h-1zM385.6 113.3h1v2.1h-1zM385.6 115.3h1v2.1h-1zM385.6 117.3h1v2.1h-1zM384.6 125.3h1v2.1h-1zM384.6 127.3h1v2.1h-1zM338.6 129.2h4v2.1h-4zM314.5 131.2h33.1v2.1h-33.1zM342.6 133.2h42.1v2.1h-42.1zM312.5 135.2h72.1v2.1h-72.1zM340.6 137.2h21v2.1h-21z"/>
<path fill="#3effc1" d="M309.5 19.8h61.1v2.1h-61.1zM309.5 21.8h1v2.1h-1zM370.6 21.8h1v2.1h-1zM309.5 23.8h63.1v2.1h-63.1zM309.5 25.8h64.1v2.1h-64.1zM309.5 27.8h65.1v2.1h-65.1zM309.5 29.8h65.1v2.1h-65.1zM309.5 31.7h65.1v2.1h-65.1zM309.5 33.7h66.1v2.1h-66.1zM309.5 35.7h68.1v2.1h-68.1zM309.5 37.7h69.1v2.1h-69.1zM309.5 39.7h69.1v2.1h-69.1zM309.5 41.7h68.1v2.1h-68.1zM309.5 43.7h67.1v2.1h-67.1zM309.5 45.7h67.1v2.1h-67.1zM309.5 47.7h66.1v2.1h-66.1zM309.5 49.6h66.1v2.1h-66.1zM309.5 51.6h67.1v2.1h-67.1zM309.5 53.6h66.1v2.1h-66.1zM309.5 55.6h1v2.1h-1zM309.5 57.6h67.1v2.1h-67.1zM309.5 59.6h69.1v2.1h-69.1zM309.5 61.6h69.1v2.1h-69.1zM309.5 63.6h70.1v2.1h-70.1zM309.5 65.6h1v2.1h-1zM379.6 67.6h1v2.1h-1zM379.6 69.5h1v2.1h-1zM313.5 71.5h68.1v2.1h-68.1zM384.6 75.5h1v2.1h-1zM382.6 79.5h1v2.1h-1zM383.6 83.5h1v2.1h-1zM383.6 85.5h1v2.1h-1zM384.6 89.4h1v2.1h-1zM314.5 91.4h71.1v2.1h-71.1zM384.6 93.4h1v2.1h-1zM314.5 95.4h71.1v2.1h-71.1zM314.5 97.4h1v2.1h-1zM314.5 99.4h1v2.1h-1zM314.5 101.4h1v2.1h-1zM314.5 105.4h1v2.1h-1zM314.5 107.4h71.1v2.1h-71.1zM314.5 109.3h71.1v2.1h-71.1zM314.5 111.3h71.1v2.1h-71.1zM314.5 113.3h1v2.1h-1zM314.5 115.3h1v2.1h-1zM342.6 117.3h13v2.1h-13zM314.5 119.3h27v2.1h-27zM356.6 119.3h29v2.1h-29zM314.5 121.3h27v2.1h-27zM359.6 121.3h26v2.1h-26zM314.5 123.3h27v2.1h-27zM359.6 123.3h26v2.1h-26zM314.5 125.3h28v2.1h-28zM359.6 125.3h1v2.1h-1zM343.6 127.3h1v2.1h-1zM359.6 127.3h1v2.1h-1zM314.5 129.2h1v2.1h-1zM345.6 129.2h3v2.1h-3zM359.6 129.2h25v2.1h-25zM347.6 131.2h37.1v2.1h-37.1zM350.6 133.2h1v2.1h-1zM343.6 135.2h1v2.1h-1zM357.6 135.2h1v2.1h-1zM311.5 137.2h1v2.1h-1zM382.6 137.2h1v2.1h-1z"/>
<path fill="#58ffa7" d="M368.6 19.8h1v2.1h-1zM370.6 23.8h1v2.1h-1zM371.6 25.8h1v2.1h-1zM372.6 27.8h1v2.1h-1zM372.6 29.8h1v2.1h-1zM372.6 31.7h1v2.1h-1zM373.6 33.7h1v2.1h-1zM375.6 35.7h1v2.1h-1zM376.6 37.7h1v2.1h-1zM376.6 39.7h1v2.1h-1zM375.6 41.7h1v2.1h-1zM374.6 43.7h1v2.1h-1zM374.6 45.7h1v2.1h-1zM374.6 51.6h1v2.1h-1zM373.6 53.6h1v2.1h-1zM373.6 55.6h1v2.1h-1zM374.6 57.6h1v2.1h-1zM376.6 59.6h1v2.1h-1zM376.6 61.6h1v2.1h-1zM377.6 63.6h1v2.1h-1zM377.6 65.6h1v2.1h-1zM309.5 67.6h70.1v2.1h-70.1zM311.5 69.5h68.1v2.1h-68.1zM379.6 71.5h1v2.1h-1zM314.5 73.5h67.1v2.1h-67.1zM314.5 77.5h70.1v2.1h-70.1zM314.5 81.5h69.1v2.1h-69.1zM314.5 83.5h69.1v2.1h-69.1zM314.5 85.5h1v2.1h-1zM383.6 87.5h1v2.1h-1zM383.6 89.4h1v2.1h-1zM383.6 95.4h1v2.1h-1zM383.6 97.4h1v2.1h-1zM383.6 99.4h1v2.1h-1zM383.6 101.4h1v2.1h-1zM383.6 103.4h1v2.1h-1zM383.6 105.4h1v2.1h-1zM384.6 113.3h1v2.1h-1zM384.6 115.3h1v2.1h-1zM341.6 117.3h1v2.1h-1zM355.6 117.3h30.1v2.1h-30.1zM358.6 119.3h1v2.1h-1zM383.6 125.3h1v2.1h-1zM342.6 127.3h1v2.1h-1zM383.6 127.3h1v2.1h-1zM337.6 129.2h1v2.1h-1zM342.6 129.2h3v2.1h-3zM338.6 131.2h1v2.1h-1zM348.6 131.2h1v2.1h-1zM358.6 131.2h1v2.1h-1zM382.6 133.2h1v2.1h-1zM342.6 135.2h1v2.1h-1zM358.6 135.2h25v2.1h-25zM339.6 137.2h1v2.1h-1zM361.6 137.2h1v2.1h-1z"/>
<path fill="#72ff8d" d="M310.5 19.8h58.1v2.1h-58.1zM310.5 21.8h1v2.1h-1zM310.5 23.8h60.1v2.1h-60.1zM310.5 25.8h61.1v2.1h-61.1zM310.5 27.8h62.1v2.1h-62.1zM310.5 29.8h62.1v2.1h-62.1zM310.5 31.7h62.1v2.1h-62.1zM310.5 33.7h63.1v2.1h-63.1zM310.5 35.7h1v2.1h-1zM310.5 37.7h66.1v2.1h-66.1zM310.5 39.7h66.1v2.1h-66.1zM310.5 41.7h65.1v2.1h-65.1zM310.5 43.7h64.1v2.1h-64.1zM310.5 45.7h64.1v2.1h-64.1zM310.5 47.7h64.1v2.1h-64.1zM310.5 49.6h64.1v2.1h-64.1zM310.5 51.6h64.1v2.1h-64.1zM310.5 53.6h63.1v2.1h-63.1zM310.5 55.6h63.1v2.1h-63.1zM310.5 57.6h64.1v2.1h-64.1zM310.5 59.6h1v2.1h-1zM310.5 61.6h66.1v2.1h-66.1zM310.5 63.6h67.1v2.1h-67.1zM310.5 65.6h67.1v2.1h-67.1zM377.6 69.5h1v2.1h-1zM378.6 71.5h1v2.1h-1zM379.6 73.5h1v2.1h-1zM383.6 75.5h1v2.1h-1zM382.6 77.5h1v2.1h-1zM381.6 79.5h1v2.1h-1zM381.6 81.5h1v2.1h-1zM382.6 85.5h1v2.1h-1zM383.6 91.4h1v2.1h-1zM383.6 93.4h1v2.1h-1zM383.6 107.4h1v2.1h-1zM383.6 109.3h1v2.1h-1zM383.6 111.3h1v2.1h-1zM383.6 119.3h1v2.1h-1zM383.6 121.3h1v2.1h-1zM383.6 123.3h1v2.1h-1zM315.5 127.3h1v2.1h-1zM315.5 129.2h1v2.1h-1zM382.6 129.2h1v2.1h-1zM315.5 131.2h1v2.1h-1zM382.6 131.2h1v2.1h-1zM314.5 133.2h1v2.1h-1zM313.5 135.2h29v2.1h-29zM359.6 135.2h1v2.1h-1zM338.6 137.2h1v2.1h-1zM381.6 137.2h1v2.1h-1z"/>
<path fill="#8dff72" d="M366.6 19.8h1v2.1h-1zM367.6 21.8h1v2.1h-1zM368.6 23.8h1v2.1h-1zM370.6 27.8h1v2.1h-1zM370.6 29.8h1v2.1h-1zM374.6 35.7h1v2.1h-1zM374.6 37.7h1v2.1h-1zM374.6 39.7h1v2.1h-1zM372.6 43.7h1v2.1h-1zM372.6 45.7h1v2.1h-1zM372.6 47.7h1v2.1h-1zM372.6 49.6h1v2.1h-1zM372.6 51.6h1v2.1h-1zM371.6 53.6h1v2.1h-1zM371.6 55.6h1v2.1h-1zM375.6 59.6h1v2.1h-1zM374.6 61.6h1v2.1h-1zM375.6 63.6h1v2.1h-1zM375.6 65.6h1v2.1h-1zM377.6 67.6h1v2.1h-1zM314.5 71.5h1v2.1h-1zM378.6 73.5h1v2.1h-1zM382.6 75.5h1v2.1h-1zM381.6 77.5h1v2.1h-1zM380.6 79.5h1v2.1h-1zM381.6 83.5h1v2.1h-1zM381.6 85.5h1v2.1h-1zM315.5 87.5h68.1v2.1h-68.1zM315.5 89.4h68.1v2.1h-68.1zM315.5 91.4h68.1v2.1h-68.1zM315.5 93.4h1v2.1h-1zM315.5 95.4h68.1v2.1h-68.1zM315.5 97.4h68.1v2.1h-68.1zM315.5 99.4h68.1v2.1h-68.1zM315.5 101.4h68.1v2.1h-68.1zM315.5 103.4h68.1v2.1h-68.1zM315.5 105.4h68.1v2.1h-68.1zM315.5 107.4h68.1v2.1h-68.1zM315.5 109.3h1v2.1h-1zM315.5 111.3h1v2.1h-1zM315.5 113.3h69.1v2.1h-69.1zM315.5 115.3h69.1v2.1h-69.1zM315.5 117.3h26v2.1h-26zM356.6 117.3h28v2.1h-28zM315.5 119.3h25v2.1h-25zM359.6 119.3h1v2.1h-1zM315.5 121.3h25v2.1h-25zM360.6 121.3h1v2.1h-1zM315.5 123.3h25v2.1h-25zM360.6 123.3h1v2.1h-1zM315.5 125.3h26v2.1h-26zM360.6 125.3h23v2.1h-23zM341.6 127.3h1v2.1h-1zM360.6 127.3h23v2.1h-23zM336.6 129.2h1v2.1h-1zM343.6 129.2h1v2.1h-1zM360.6 129.2h1v2.1h-1zM359.6 131.2h1v2.1h-1zM341.6 133.2h1v2.1h-1zM351.6 133.2h31.1v2.1h-31.1zM340.6 135.2h1v2.1h-1zM381.6 135.2h1v2.1h-1zM312.5 137.2h1v2.1h-1zM362.6 137.2h1v2.1h-1z"/>
<path fill="#a7ff58" d="M311.5 19.8h1v2.1h-1zM311.5 21.8h56.1v2.1h-56.1zM311.5 23.8h57.1v2.1h-57.1zM311.5 25.8h59.1v2.1h-59.1zM311.5 27.8h59.1v2.1h-59.1zM311.5 29.8h59.1v2.1h-59.1zM311.5 31.7h60.1v2.1h-60.1zM311.5 33.7h61.1v2.1h-61.1zM311.5 35.7h63.1v2.1h-63.1zM311.5 37.7h1v2.1h-1zM311.5 39.7h1v2.1h-1zM311.5 41.7h63.1v2.1h-63.1zM311.5 43.7h61.1v2.1h-61.1zM311.5 45.7h61.1v2.1h-61.1zM311.5 47.7h61.1v2.1h-61.1zM311.5 49.6h61.1v2.1h-61.1zM311.5 51.6h61.1v2.1h-61.1zM311.5 53.6h1v2.1h-1zM311.5 55.6h60.1v2.1h-60.1zM311.5 57.6h62.1v2.1h-62.1zM311.5 59.6h64.1v2.1h-64.1zM311.5 61.6h1v2.1h-1zM311.5 63.6h64.1v2.1h-64.1zM311.5 65.6h64.1v2.1h-64.1zM310.5 67.6h67.1v2.1h-67.1zM312.5 69.5h65.1v2.1h-65.1zM377.6 71.5h1v2.1h-1zM315.5 73.5h1v2.1h-1zM315.5 75.5h67.1v2.1h-67.1zM315.5 77.5h1v2.1h-1zM315.5 79.5h1v2.1h-1zM315.5 81.5h66.1v2.1h-66.1zM315.5 83.5h66.1v2.1h-66.1zM315.5 85.5h1v2.1h-1zM381.6 87.5h1v2.1h-1zM382.6 93.4h1v2.1h-1zM381.6 101.4h1v2.1h-1zM382.6 109.3h1v2.1h-1zM382.6 111.3h1v2.1h-1zM339.6 117.3h1v2.1h-1zM357.6 117.3h1v2.1h-1zM360.6 119.3h23v2.1h-23zM382.6 121.3h1v2.1h-1zM382.6 123.3h1v2.1h-1zM339.6 125.3h1v2.1h-1zM340.6 127.3h1v2.1h-1zM360.6 131.2h22v2.1h-22zM315.5 133.2h1v2.1h-1zM360.6 135.2h1v2.1h-1zM337.6 137.2h1v2.1h-1zM363.6 137.2h18v2.1h-18z"/>
<path fill="#c1ff3e" d="M312.5 19.8h54.1v2.1h-54.1zM312.5 21.8h54.1v2.1h-54.1zM312.5 23.8h1v2.1h-1zM312.5 25.8h57.1v2.1h-57.1zM312.5 27.8h57.1v2.1h-57.1zM312.5 29.8h57.1v2.1h-57.1zM312.5 31.7h58.1v2.1h-58.1zM312.5 33.7h59.1v2.1h-59.1zM312.5 35.7h61.1v2.1h-61.1zM312.5 37.7h62.1v2.1h-62.1zM312.5 39.7h62.1v2.1h-62.1zM312.5 41.7h61.1v2.1h-61.1zM312.5 43.7h59.1v2.1h-59.1zM312.5 45.7h59.1v2.1h-59.1zM312.5 47.7h59.1v2.1h-59.1zM312.5 49.6h59.1v2.1h-59.1zM312.5 51.6h1v2.1h-1zM312.5 53.6h59.1v2.1h-59.1zM312.5 55.6h58.1v2.1h-58.1zM312.5 57.6h60.1v2.1h-60.1zM312.5 59.6h62.1v2.1h-62.1zM312.5 61.6h62.1v2.1h-62.1zM312.5 63.6h1v2.1h-1zM312.5 65.6h62.1v2.1h-62.1zM375.6 67.6h1v2.1h-1zM375.6 69.5h1v2.1h-1zM315.5 71.5h62.1v2.1h-62.1zM377.6 73.5h1v2.1h-1zM380.6 77.5h1v2.1h-1zM379.6 79.5h1v2.1h-1zM379.6 81.5h1v2.1h-1zM380.6 85.5h1v2.1h-1zM381.6 89.4h1v2.1h-1zM316.5 91.4h66.1v2.1h-66.1zM316.5 93.4h66.1v2.1h-66.1zM316.5 95.4h66.1v2.1h-66.1zM316.5 97.4h66.1v2.1h-66.1zM316.5 99.4h66.1v2.1h-66.1zM316.5 101.4h1v2.1h-1zM316.5 103.4h66.1v2.1h-66.1zM316.5 105.4h66.1v2.1h-66.1zM316.5 107.4h66.1v2.1h-66.1zM316.5 109.3h1v2.1h-1zM316.5 111.3h1v2.1h-1zM316.5 113.3h67.1v2.1h-67.1zM316.5 115.3h67.1v2.1h-67.1zM316.5 117.3h1v2.1h-1zM358.6 117.3h25v2.1h-25zM316.5 119.3h23v2.1h-23zM316.5 121.3h23v2.1h-23zM361.6 121.3h1v2.1h-1zM316.5 123.3h23v2.1h-23zM361.6 123.3h1v2.1h-1zM316.5 125.3h1v2.1h-1zM361.6 125.3h21v2.1h-21zM316.5 127.3h1v2.1h-1zM361.6 127.3h21v2.1h-21zM316.5 129.2h1v2.1h-1zM361.6 129.2h21v2.1h-21zM316.5 131.2h22v2.1h-22zM352.6 133.2h7v2.1h-7zM314.5 135.2h26v2.1h-26zM361.6 135.2h20v2.1h-20zM313.5 137.2h1v2.1h-1z"/>
<path fill="#dbff24" d="M313.5 19.8h52.1v2.1h-52.1zM313.5 21.8h52.1v2.1h-52.1zM313.5 23.8h54.1v2.1h-54.1zM313.5 25.8h55.1v2.1h-55.1zM313.5 27.8h55.1v2.1h-55.1zM313.5 29.8h55.1v2.1h-55.1zM313.5 31.7h56.1v2.1h-56.1zM313.5 33.7h57.1v2.1h-57.1zM313.5 35.7h59.1v2.1h-59.1zM313.5 37.7h60.1v2.1h-60.1zM313.5 39.7h60.1v2.1h-60.1zM313.5 41.7h59.1v2.1h-59.1zM313.5 43.7h57.1v2.1h-57.1zM313.5 45.7h57.1v2.1h-57.1zM313.5 47.7h57.1v2.1h-57.1zM313.5 49.6h57.1v2.1h-57.1zM313.5 51.6h58.1v2.1h-58.1zM313.5 53.6h57.1v2.1h-57.1zM313.5 55.6h56.1v2.1h-56.1zM313.5 57.6h58.1v2.1h-58.1zM313.5 59.6h60.1v2.1h-60.1zM313.5 61.6h60.1v2.1h-60.1zM313.5 63.6h61.1v2.1h-61.1zM313.5 65.6h60.1v2.1h-60.1zM311.5 67.6h64.1v2.1h-64.1zM313.5 69.5h62.1v2.1h-62.1zM374.6 71.5h2v2.1h-2zM316.5 73.5h61.1v2.1h-61.1zM316.5 75.5h65.1v2.1h-65.1zM316.5 77.5h64.1v2.1h-64.1zM316.5 79.5h63.1v2.1h-63.1zM316.5 81.5h63.1v2.1h-63.1zM316.5 83.5h64.1v2.1h-64.1zM316.5 85.5h64.1v2.1h-64.1zM316.5 87.5h65.1v2.1h-65.1zM316.5 89.4h65.1v2.1h-65.1zM380.6 91.4h1v2.1h-1zM380.6 93.4h1v2.1h-1zM380.6 95.4h1v2.1h-1zM380.6 97.4h1v2.1h-1zM380.6 99.4h1v2.1h-1zM380.6 101.4h1v2.1h-1zM380.6 103.4h1v2.1h-1zM380.6 105.4h1v2.1h-1zM380.6 107.4h1v2.1h-1zM380.6 109.3h2v2.1h-2zM381.6 111.3h1v2.1h-1zM381.6 113.3h1v2.1h-1zM340.6 115.3h1v2.1h-1zM356.6 115.3h26v2.1h-26zM338.6 117.3h1v2.1h-1zM359.6 117.3h23v2.1h-23zM361.6 119.3h21v2.1h-21zM380.6 121.3h2v2.1h-2zM380.6 123.3h2v2.1h-2zM338.6 125.3h1v2.1h-1zM380.6 125.3h1v2.1h-1zM339.6 127.3h1v2.1h-1zM380.6 127.3h1v2.1h-1zM335.5 129.2h1v2.1h-1zM380.6 129.2h1v2.1h-1zM361.6 131.2h20v2.1h-20zM316.5 133.2h25v2.1h-25zM359.6 133.2h22v2.1h-22zM338.6 135.2h1v2.1h-1zM362.6 135.2h18v2.1h-18zM314.5 137.2h23v2.1h-23zM364.6 137.2h16v2.1h-16z"/>
<path fill="#f5ff0a" d="M314.5 19.8h48.1v2.1h-48.1zM314.5 21.8h49.1v2.1h-49.1zM314.5 23.8h50.1v2.1h-50.1zM314.5 25.8h52.1v2.1h-52.1zM314.5 27.8h52.1v2.1h-52.1zM314.5 29.8h52.1v2.1h-52.1zM314.5 31.7h53.1v2.1h-53.1zM314.5 33.7h54.1v2.1h-54.1zM314.5 35.7h56.1v2.1h-56.1zM314.5 37.7h56.1v2.1h-56.1zM314.5 39.7h56.1v2.1h-56.1zM314.5 41.7h56.1v2.1h-56.1zM314.5 43.7h54.1v2.1h-54.1zM314.5 45.7h54.1v2.1h-54.1zM314.5 47.7h54.1v2.1h-54.1zM314.5 49.6h54.1v2.1h-54.1zM314.5 51.6h54.1v2.1h-54.1zM314.5 53.6h53.1v2.1h-53.1zM314.5 55.6h53.1v2.1h-53.1zM314.5 57.6h55.1v2.1h-55.1zM314.5 59.6h57.1v2.1h-57.1zM314.5 61.6h57.1v2.1h-57.1zM314.5 63.6h57.1v2.1h-57.1zM314.5 65.6h57.1v2.1h-57.1zM371.6 67.6h2v2.1h-2zM371.6 69.5h2v2.1h-2zM316.5 71.5h58.1v2.1h-58.1zM373.6 73.5h2v2.1h-2zM377.6 75.5h2v2.1h-2zM377.6 77.5h1v2.1h-1zM376.6 79.5h1v2.1h-1zM376.6 81.5h2v2.1h-2zM377.6 83.5h1v2.1h-1zM377.6 85.5h2v2.1h-2zM317.5 87.5h62.1v2.1h-62.1zM317.5 89.4h63.1v2.1h-63.1zM317.5 91.4h63.1v2.1h-63.1zM317.5 93.4h63.1v2.1h-63.1zM317.5 95.4h63.1v2.1h-63.1zM317.5 97.4h63.1v2.1h-63.1zM317.5 99.4h63.1v2.1h-63.1zM317.5 101.4h63.1v2.1h-63.1zM317.5 103.4h63.1v2.1h-63.1zM317.5 105.4h63.1v2.1h-63.1zM317.5 107.4h63.1v2.1h-63.1zM317.5 109.3h63.1v2.1h-63.1zM317.5 111.3h64.1v2.1h-64.1zM317.5 113.3h64.1v2.1h-64.1zM317.5 115.3h23v2.1h-23zM357.6 115.3h24v2.1h-24zM317.5 117.3h21v2.1h-21zM360.6 117.3h21v2.1h-21zM317.5 119.3h21v2.1h-21zM362.6 119.3h19v2.1h-19zM317.5 121.3h21v2.1h-21zM362.6 121.3h18v2.1h-18zM317.5 123.3h21v2.1h-21zM362.6 123.3h18v2.1h-18zM317.5 125.3h21v2.1h-21zM362.6 125.3h18v2.1h-18zM317.5 127.3h22v2.1h-22zM362.6 127.3h18v2.1h-18zM317.5 129.2h1v2.1h-1zM362.6 129.2h18v2.1h-18zM317.5 131.2h1v2.1h-1zM362.6 131.2h18v2.1h-18zM338.6 133.2h2v2.1h-2zM360.6 133.2h19v2.1h-19zM315.5 135.2h23v2.1h-23zM363.6 135.2h16v2.1h-16z"/>
<path fill="#ffef00" d="M315.5 19.8h46.1v2.1h-46.1zM315.5 21.8h46.1v2.1h-46.1zM315.5 23.8h47.1v2.1h-47.1zM315.5 25.8h48.1v2.1h-48.1zM315.5 27.8h49.1v2.1h-49.1zM315.5 29.8h49.1v2.1h-49.1zM315.5 31.7h50.1v2.1h-50.1zM315.5 33.7h51.1v2.1h-51.1zM315.5 35.7h53.1v2.1h-53.1zM315.5 37.7h54.1v2.1h-54.1zM315.5 39.7h54.1v2.1h-54.1zM315.5 41.7h53.1v2.1h-53.1zM315.5 43.7h51.1v2.1h-51.1zM315.5 45.7h51.1v2.1h-51.1zM315.5 47.7h51.1v2.1h-51.1zM315.5 49.6h51.1v2.1h-51.1zM315.5 51.6h51.1v2.1h-51.1zM315.5 53.6h51.1v2.1h-51.1zM315.5 55.6h50.1v2.1h-50.1zM315.5 57.6h52.1v2.1h-52.1zM315.5 59.6h54.1v2.1h-54.1zM315.5 61.6h54.1v2.1h-54.1zM315.5 63.6h55.1v2.1h-55.1zM315.5 65.6h55.1v2.1h-55.1zM312.5 67.6h59.1v2.1h-59.1zM314.5 69.5h1v2.1h-1zM372.6 71.5h1v2.1h-1zM317.5 73.5h1v2.1h-1zM317.5 75.5h60.1v2.1h-60.1zM317.5 77.5h60.1v2.1h-60.1zM317.5 79.5h59.1v2.1h-59.1zM317.5 81.5h59.1v2.1h-59.1zM317.5 83.5h60.1v2.1h-60.1zM317.5 85.5h1v2.1h-1zM377.6 87.5h1v2.1h-1zM378.6 91.4h1v2.1h-1zM378.6 93.4h1v2.1h-1zM378.6 95.4h1v2.1h-1zM378.6 97.4h1v2.1h-1zM378.6 99.4h1v2.1h-1zM336.6 101.4h43.1v2.1h-43.1zM336.6 103.4h43.1v2.1h-43.1zM335.5 105.4h44.1v2.1h-44.1zM335.5 107.4h44.1v2.1h-44.1zM335.5 109.3h18v2.1h-18zM336.6 111.3h2v2.1h-2zM344.6 111.3h10v2.1h-10zM336.6 113.3h2v2.1h-2zM348.6 113.3h32.1v2.1h-32.1zM336.6 115.3h2v2.1h-2zM358.6 115.3h22v2.1h-22zM336.6 117.3h1v2.1h-1zM361.6 117.3h19v2.1h-19zM336.6 119.3h1v2.1h-1zM363.6 119.3h17v2.1h-17zM336.6 121.3h1v2.1h-1zM363.6 121.3h1v2.1h-1zM336.6 123.3h1v2.1h-1zM363.6 123.3h1v2.1h-1zM336.6 125.3h1v2.1h-1zM363.6 125.3h16v2.1h-16zM336.6 127.3h2v2.1h-2zM363.6 127.3h16v2.1h-16zM363.6 129.2h16v2.1h-16zM336.6 131.2h1v2.1h-1zM363.6 131.2h1v2.1h-1zM317.5 133.2h21v2.1h-21zM361.6 133.2h2v2.1h-2zM364.6 135.2h14v2.1h-14z"/>
<path fill="#ffd500" d="M316.5 19.8h42.1v2.1h-42.1zM316.5 21.8h43.1v2.1h-43.1zM316.5 23.8h43.1v2.1h-43.1zM316.5 25.8h43.1v2.1h-43.1zM316.5 27.8h43.1v2.1h-43.1zM316.5 29.8h44.1v2.1h-44.1zM316.5 31.7h45.1v2.1h-45.1zM316.5 33.7h45.1v2.1h-45.1zM316.5 35.7h46.1v2.1h-46.1zM316.5 37.7h48.1v2.1h-48.1zM316.5 39.7h50.1v2.1h-50.1zM316.5 41.7h51.1v2.1h-51.1zM316.5 43.7h49.1v2.1h-49.1zM316.5 45.7h49.1v2.1h-49.1zM316.5 47.7h49.1v2.1h-49.1zM316.5 49.6h49.1v2.1h-49.1zM316.5 51.6h49.1v2.1h-49.1zM316.5 53.6h48.1v2.1h-48.1zM316.5 55.6h48.1v2.1h-48.1zM316.5 57.6h50.1v2.1h-50.1zM316.5 59.6h52.1v2.1h-52.1zM316.5 61.6h52.1v2.1h-52.1zM316.5 63.6h53.1v2.1h-53.1zM316.5 65.6h53.1v2.1h-53.1zM315.5 67.6h2v2.1h-2zM315.5 69.5h56.1v2.1h-56.1zM317.5 71.5h55.1v2.1h-55.1zM372.6 73.5h1v2.1h-1zM318.5 77.5h58.1v2.1h-58.1zM318.5 79.5h57.1v2.1h-57.1zM318.5 81.5h1v2.1h-1zM318.5 83.5h58.1v2.1h-58.1zM318.5 85.5h59.1v2.1h-59.1zM318.5 87.5h1v2.1h-1zM318.5 89.4h60.1v2.1h-60.1zM318.5 91.4h60.1v2.1h-60.1zM318.5 93.4h18v2.1h-18zM318.5 95.4h20v2.1h-20zM318.5 97.4h22v2.1h-22zM318.5 99.4h60.1v2.1h-60.1zM318.5 101.4h18v2.1h-18zM338.6 101.4h40.1v2.1h-40.1zM318.5 103.4h18v2.1h-18zM342.6 103.4h36.1v2.1h-36.1zM318.5 105.4h17v2.1h-17zM347.6 105.4h8v2.1h-8zM318.5 107.4h17v2.1h-17zM351.6 107.4h5v2.1h-5zM318.5 109.3h17v2.1h-17zM353.6 109.3h26v2.1h-26zM318.5 111.3h18v2.1h-18zM354.6 111.3h25v2.1h-25zM318.5 113.3h18v2.1h-18zM357.6 113.3h22v2.1h-22zM318.5 115.3h18v2.1h-18zM360.6 115.3h2v2.1h-2zM318.5 117.3h18v2.1h-18zM362.6 117.3h2v2.1h-2zM318.5 119.3h18v2.1h-18zM378.6 119.3h1v2.1h-1zM318.5 121.3h18v2.1h-18zM364.6 121.3h15v2.1h-15zM318.5 123.3h18v2.1h-18zM364.6 123.3h15v2.1h-15zM318.5 125.3h18v2.1h-18zM364.6 125.3h1v2.1h-1zM318.5 127.3h18v2.1h-18zM364.6 127.3h1v2.1h-1zM318.5 129.2h17v2.1h-17zM364.6 129.2h1v2.1h-1zM318.5 131.2h18v2.1h-18zM364.6 131.2h14v2.1h-14zM335.5 133.2h1v2.1h-1zM363.6 133.2h15v2.1h-15zM316.5 135.2h21v2.1h-21zM366.6 135.2h10v2.1h-10z"/>
<path fill="#ffba00" d="M317.5 19.8h38.1v2.1h-38.1zM317.5 21.8h39.1v2.1h-39.1zM317.5 23.8h39.1v2.1h-39.1zM317.5 25.8h39.1v2.1h-39.1zM317.5 27.8h40.1v2.1h-40.1zM317.5 29.8h40.1v2.1h-40.1zM317.5 31.7h40.1v2.1h-40.1zM317.5 33.7h41.1v2.1h-41.1zM317.5 35.7h42.1v2.1h-42.1zM317.5 37.7h43.1v2.1h-43.1zM317.5 39.7h44.1v2.1h-44.1zM317.5 41.7h46.1v2.1h-46.1zM317.5 43.7h47.1v2.1h-47.1zM317.5 45.7h47.1v2.1h-47.1zM317.5 47.7h47.1v2.1h-47.1zM317.5 49.6h47.1v2.1h-47.1zM317.5 51.6h47.1v2.1h-47.1zM317.5 53.6h46.1v2.1h-46.1zM317.5 55.6h46.1v2.1h-46.1zM317.5 57.6h48.1v2.1h-48.1zM317.5 59.6h50.1v2.1h-50.1zM317.5 61.6h50.1v2.1h-50.1zM317.5 63.6h51.1v2.1h-51.1zM317.5 65.6h51.1v2.1h-51.1zM317.5 67.6h53.1v2.1h-53.1zM317.5 69.5h53.1v2.1h-53.1zM318.5 71.5h53.1v2.1h-53.1zM318.5 73.5h54.1v2.1h-54.1zM318.5 75.5h58.1v2.1h-58.1zM319.5 77.5h56.1v2.1h-56.1zM319.5 79.5h55.1v2.1h-55.1zM374.6 81.5h1v2.1h-1zM332.5 83.5h2v2.1h-2zM332.5 85.5h44.1v2.1h-44.1zM332.5 87.5h45.1v2.1h-45.1zM332.5 89.4h45.1v2.1h-45.1zM332.5 91.4h8v2.1h-8zM332.5 93.4h2v2.1h-2zM336.6 93.4h42.1v2.1h-42.1zM332.5 95.4h2v2.1h-2zM338.6 95.4h40.1v2.1h-40.1zM332.5 97.4h2v2.1h-2zM340.6 97.4h38.1v2.1h-38.1zM333.5 99.4h1v2.1h-1zM344.6 99.4h11v2.1h-11zM333.5 101.4h1v2.1h-1zM349.6 101.4h8v2.1h-8zM333.5 103.4h1v2.1h-1zM353.6 103.4h5v2.1h-5zM333.5 105.4h1v2.1h-1zM355.6 105.4h23v2.1h-23zM333.5 107.4h1v2.1h-1zM356.6 107.4h22v2.1h-22zM333.5 109.3h1v2.1h-1zM356.6 109.3h22v2.1h-22zM333.5 111.3h1v2.1h-1zM357.6 111.3h3v2.1h-3zM334.5 113.3h1v2.1h-1zM359.6 113.3h1v2.1h-1zM334.5 115.3h1v2.1h-1zM362.6 115.3h17v2.1h-17zM334.5 117.3h1v2.1h-1zM378.6 117.3h1v2.1h-1zM334.5 119.3h1v2.1h-1zM364.6 119.3h1v2.1h-1zM334.5 121.3h1v2.1h-1zM365.6 121.3h1v2.1h-1zM334.5 123.3h1v2.1h-1zM365.6 123.3h13v2.1h-13zM334.5 125.3h1v2.1h-1zM365.6 125.3h13v2.1h-13zM334.5 127.3h1v2.1h-1zM365.6 127.3h13v2.1h-13zM365.6 129.2h13v2.1h-13zM319.5 131.2h16v2.1h-16zM365.6 131.2h12v2.1h-12zM318.5 133.2h1v2.1h-1zM369.6 133.2h6v2.1h-6zM317.5 135.2h1v2.1h-1z"/>
<path fill="#ffa000" d="M318.5 19.8h34.1v2.1h-34.1zM318.5 21.8h35.1v2.1h-35.1zM318.5 23.8h35.1v2.1h-35.1zM318.5 25.8h35.1v2.1h-35.1zM318.5 27.8h36.1v2.1h-36.1zM318.5 29.8h36.1v2.1h-36.1zM318.5 31.7h37.1v2.1h-37.1zM318.5 33.7h37.1v2.1h-37.1zM318.5 35.7h38.1v2.1h-38.1zM318.5 37.7h38.1v2.1h-38.1zM318.5 39.7h39.1v2.1h-39.1zM318.5 41.7h40.1v2.1h-40.1zM318.5 43.7h42.1v2.1h-42.1zM318.5 45.7h43.1v2.1h-43.1zM318.5 47.7h45.1v2.1h-45.1zM318.5 49.6h45.1v2.1h-45.1zM318.5 51.6h45.1v2.1h-45.1zM318.5 53.6h44.1v2.1h-44.1zM318.5 55.6h44.1v2.1h-44.1zM318.5 57.6h46.1v2.1h-46.1zM318.5 59.6h48.1v2.1h-48.1zM318.5 61.6h48.1v2.1h-48.1zM318.5 63.6h49.1v2.1h-49.1zM318.5 65.6h49.1v2.1h-49.1zM318.5 67.6h51.1v2.1h-51.1zM319.5 69.5h50.1v2.1h-50.1zM319.5 71.5h51.1v2.1h-51.1zM320.5 73.5h51.1v2.1h-51.1zM320.5 75.5h53.1v2.1h-53.1zM321.5 77.5h52.1v2.1h-52.1zM320.5 79.5h53.1v2.1h-53.1zM319.5 81.5h55.1v2.1h-55.1zM319.5 83.5h13v2.1h-13zM334.5 83.5h41.1v2.1h-41.1zM319.5 85.5h13v2.1h-13zM335.5 85.5h40.1v2.1h-40.1zM319.5 87.5h13v2.1h-13zM337.6 87.5h39.1v2.1h-39.1zM319.5 89.4h13v2.1h-13zM338.6 89.4h6v2.1h-6zM319.5 91.4h13v2.1h-13zM340.6 91.4h37.1v2.1h-37.1zM319.5 93.4h13v2.1h-13zM342.6 93.4h35.1v2.1h-35.1zM319.5 95.4h13v2.1h-13zM345.6 95.4h32.1v2.1h-32.1zM319.5 97.4h13v2.1h-13zM351.6 97.4h26v2.1h-26zM319.5 99.4h14v2.1h-14zM355.6 99.4h22v2.1h-22zM319.5 101.4h14v2.1h-14zM357.6 101.4h20v2.1h-20zM319.5 103.4h14v2.1h-14zM358.6 103.4h19v2.1h-19zM319.5 105.4h14v2.1h-14zM359.6 105.4h18v2.1h-18zM319.5 107.4h14v2.1h-14zM359.6 107.4h3v2.1h-3zM319.5 109.3h14v2.1h-14zM359.6 109.3h3v2.1h-3zM319.5 111.3h1v2.1h-1zM360.6 111.3h18v2.1h-18zM319.5 113.3h15v2.1h-15zM360.6 113.3h18v2.1h-18zM319.5 115.3h15v2.1h-15zM377.6 115.3h1v2.1h-1zM319.5 117.3h15v2.1h-15zM364.6 117.3h14v2.1h-14zM319.5 119.3h15v2.1h-15zM365.6 119.3h13v2.1h-13zM319.5 121.3h15v2.1h-15zM377.6 121.3h1v2.1h-1zM319.5 123.3h15v2.1h-15zM319.5 125.3h15v2.1h-15zM319.5 127.3h1v2.1h-1zM366.6 127.3h1v2.1h-1zM319.5 129.2h15v2.1h-15zM366.6 129.2h11v2.1h-11zM369.6 131.2h5v2.1h-5zM334.5 133.2h1v2.1h-1zM316.5 137.2h17v2.1h-17z"/>
<path fill="#ff8600" d="M319.5 19.8h28v2.1h-28zM319.5 21.8h29v2.1h-29zM319.5 23.8h30.1v2.1h-30.1zM319.5 25.8h30.1v2.1h-30.1zM319.5 27.8h31.1v2.1h-31.1zM319.5 29.8h31.1v2.1h-31.1zM319.5 31.7h32.1v2.1h-32.1zM319.5 33.7h32.1v2.1h-32.1zM319.5 35.7h33.1v2.1h-33.1zM319.5 37.7h34.1v2.1h-34.1zM319.5 39.7h35.1v2.1h-35.1zM319.5 41.7h36.1v2.1h-36.1zM319.5 43.7h37.1v2.1h-37.1zM319.5 45.7h38.1v2.1h-38.1zM319.5 47.7h39.1v2.1h-39.1zM319.5 49.6h41.1v2.1h-41.1zM319.5 51.6h42.1v2.1h-42.1zM319.5 53.6h42.1v2.1h-42.1zM319.5 55.6h42.1v2.1h-42.1zM319.5 57.6h44.1v2.1h-44.1zM319.5 59.6h46.1v2.1h-46.1zM319.5 61.6h46.1v2.1h-46.1zM319.5 63.6h47.1v2.1h-47.1zM320.5 65.6h46.1v2.1h-46.1zM320.5 67.6h48.1v2.1h-48.1zM321.5 69.5h47.1v2.1h-47.1zM322.5 71.5h46.1v2.1h-46.1zM323.5 73.5h6v2.1h-6zM334.5 73.5h35.1v2.1h-35.1zM335.5 75.5h34.1v2.1h-34.1zM336.6 77.5h33.1v2.1h-33.1zM322.5 79.5h5v2.1h-5zM337.6 79.5h33.1v2.1h-33.1zM321.5 81.5h7v2.1h-7zM338.6 81.5h34.1v2.1h-34.1zM320.5 83.5h9v2.1h-9zM339.6 83.5h34.1v2.1h-34.1zM328.5 85.5h2v2.1h-2zM340.6 85.5h34.1v2.1h-34.1zM328.5 87.5h2v2.1h-2zM342.6 87.5h33.1v2.1h-33.1zM329.5 89.4h1v2.1h-1zM344.6 89.4h32.1v2.1h-32.1zM329.5 91.4h1v2.1h-1zM347.6 91.4h29v2.1h-29zM330.5 93.4h1v2.1h-1zM354.6 93.4h22v2.1h-22zM330.5 95.4h1v2.1h-1zM357.6 95.4h19v2.1h-19zM330.5 97.4h1v2.1h-1zM359.6 97.4h5v2.1h-5zM331.5 99.4h1v2.1h-1zM360.6 99.4h4v2.1h-4zM331.5 101.4h1v2.1h-1zM361.6 101.4h15v2.1h-15zM331.5 103.4h1v2.1h-1zM361.6 103.4h4v2.1h-4zM331.5 105.4h1v2.1h-1zM362.6 105.4h3v2.1h-3zM331.5 107.4h1v2.1h-1zM362.6 107.4h15v2.1h-15zM362.6 109.3h15v2.1h-15zM332.5 111.3h1v2.1h-1zM363.6 111.3h14v2.1h-14zM332.5 113.3h1v2.1h-1zM363.6 113.3h3v2.1h-3zM332.5 115.3h1v2.1h-1zM363.6 115.3h3v2.1h-3zM332.5 117.3h1v2.1h-1zM365.6 117.3h2v2.1h-2zM332.5 119.3h1v2.1h-1zM366.6 119.3h1v2.1h-1zM332.5 121.3h1v2.1h-1zM366.6 121.3h11v2.1h-11zM366.6 123.3h11v2.1h-11zM366.6 125.3h11v2.1h-11zM320.5 127.3h14v2.1h-14zM367.6 127.3h10v2.1h-10zM320.5 129.2h1v2.1h-1zM371.6 129.2h3v2.1h-3zM320.5 131.2h14v2.1h-14zM319.5 133.2h15v2.1h-15zM318.5 135.2h1v2.1h-1zM317.5 137.2h1v2.1h-1z"/>
<path fill="#ff6c00" d="M320.5 19.8h23v2.1h-23zM320.5 21.8h24v2.1h-24zM320.5 23.8h24v2.1h-24zM320.5 25.8h24v2.1h-24zM320.5 27.8h25v2.1h-25zM320.5 29.8h25v2.1h-25zM320.5 31.7h25v2.1h-25zM320.5 33.7h26v2.1h-26zM320.5 35.7h26v2.1h-26zM320.5 37.7h27v2.1h-27zM320.5 39.7h28v2.1h-28zM320.5 41.7h29v2.1h-29zM320.5 43.7h30.1v2.1h-30.1zM320.5 45.7h32.1v2.1h-32.1zM320.5 47.7h33.1v2.1h-33.1zM320.5 49.6h34.1v2.1h-34.1zM320.5 51.6h35.1v2.1h-35.1zM320.5 53.6h37.1v2.1h-37.1zM320.5 55.6h38.1v2.1h-38.1zM320.5 57.6h39.1v2.1h-39.1zM320.5 59.6h40.1v2.1h-40.1zM321.5 61.6h40.1v2.1h-40.1zM321.5 63.6h40.1v2.1h-40.1zM322.5 65.6h40.1v2.1h-40.1zM323.5 67.6h9v2.1h-9zM337.6 67.6h25v2.1h-25zM325.5 69.5h3v2.1h-3zM338.6 69.5h25v2.1h-25zM339.6 71.5h24v2.1h-24zM340.6 73.5h23v2.1h-23zM341.6 75.5h22v2.1h-22zM342.6 77.5h21v2.1h-21zM343.6 79.5h20v2.1h-20zM344.6 81.5h21v2.1h-21zM322.5 83.5h5v2.1h-5zM346.6 83.5h22v2.1h-22zM320.5 85.5h8v2.1h-8zM351.6 85.5h17v2.1h-17zM320.5 87.5h8v2.1h-8zM358.6 87.5h12v2.1h-12zM320.5 89.4h9v2.1h-9zM361.6 89.4h11v2.1h-11zM320.5 91.4h9v2.1h-9zM361.6 91.4h13v2.1h-13zM320.5 93.4h10v2.1h-10zM362.6 93.4h13v2.1h-13zM320.5 95.4h10v2.1h-10zM363.6 95.4h12v2.1h-12zM320.5 97.4h10v2.1h-10zM364.6 97.4h12v2.1h-12zM320.5 99.4h11v2.1h-11zM364.6 99.4h12v2.1h-12zM320.5 101.4h11v2.1h-11zM365.6 101.4h10v2.1h-10zM320.5 103.4h11v2.1h-11zM365.6 103.4h11v2.1h-11zM320.5 105.4h11v2.1h-11zM365.6 105.4h11v2.1h-11zM320.5 107.4h11v2.1h-11zM365.6 107.4h11v2.1h-11zM320.5 109.3h12v2.1h-12zM366.6 109.3h10v2.1h-10zM320.5 111.3h12v2.1h-12zM366.6 111.3h10v2.1h-10zM320.5 113.3h12v2.1h-12zM366.6 113.3h11v2.1h-11zM320.5 115.3h12v2.1h-12zM366.6 115.3h11v2.1h-11zM320.5 117.3h12v2.1h-12zM367.6 117.3h10v2.1h-10zM320.5 119.3h12v2.1h-12zM367.6 119.3h10v2.1h-10zM320.5 121.3h1v2.1h-1zM367.6 121.3h9v2.1h-9zM320.5 123.3h13v2.1h-13zM367.6 123.3h9v2.1h-9zM320.5 125.3h13v2.1h-13zM370.6 125.3h6v2.1h-6zM332.5 127.3h1v2.1h-1zM332.5 129.2h1v2.1h-1zM332.5 131.2h1v2.1h-1zM332.5 133.2h1v2.1h-1zM332.5 135.2h1v2.1h-1zM331.5 137.2h1v2.1h-1z"/>
<path fill="#ff5200" d="M321.5 19.8h19v2.1h-19zM321.5 21.8h19v2.1h-19zM321.5 23.8h19v2.1h-19zM321.5 25.8h19v2.1h-19zM321.5 27.8h20v2.1h-20zM321.5 29.8h20v2.1h-20zM321.5 31.7h20v2.1h-20zM321.5 33.7h20v2.1h-20zM321.5 35.7h20v2.1h-20zM321.5 37.7h20v2.1h-20zM321.5 39.7h21v2.1h-21zM321.5 41.7h21v2.1h-21zM321.5 43.7h22v2.1h-22zM321.5 45.7h22v2.1h-22zM321.5 47.7h23v2.1h-23zM321.5 49.6h22v2.1h-22zM321.5 51.6h22v2.1h-22zM321.5 53.6h21v2.1h-21zM322.5 55.6h19v2.1h-19zM322.5 57.6h17v2.1h-17zM323.5 59.6h13v2.1h-13zM324.5 61.6h9v2.1h-9zM325.5 63.6h5v2.1h-5zM323.5 85.5h2v2.1h-2zM321.5 87.5h6v2.1h-6zM321.5 89.4h6v2.1h-6zM321.5 91.4h7v2.1h-7zM327.5 93.4h1v2.1h-1zM327.5 95.4h2v2.1h-2zM328.5 97.4h1v2.1h-1zM328.5 99.4h2v2.1h-2zM329.5 101.4h1v2.1h-1zM329.5 103.4h1v2.1h-1zM329.5 105.4h1v2.1h-1zM329.5 107.4h1v2.1h-1zM330.5 109.3h1v2.1h-1zM330.5 111.3h1v2.1h-1zM330.5 113.3h1v2.1h-1zM330.5 115.3h1v2.1h-1zM330.5 117.3h1v2.1h-1zM330.5 119.3h1v2.1h-1zM331.5 121.3h1v2.1h-1zM331.5 123.3h1v2.1h-1zM331.5 125.3h1v2.1h-1zM331.5 127.3h1v2.1h-1zM331.5 129.2h1v2.1h-1zM331.5 131.2h1v2.1h-1zM331.5 133.2h1v2.1h-1zM331.5 135.2h1v2.1h-1zM330.5 137.2h1v2.1h-1z"/>
<path fill="#ff3800" d="M323.5 19.8h13v2.1h-13zM323.5 21.8h13v2.1h-13zM323.5 23.8h14v2.1h-14zM323.5 25.8h14v2.1h-14zM323.5 27.8h14v2.1h-14zM323.5 29.8h14v2.1h-14zM323.5 31.7h14v2.1h-14zM323.5 33.7h14v2.1h-14zM323.5 35.7h14v2.1h-14zM323.5 37.7h14v2.1h-14zM323.5 39.7h14v2.1h-14zM323.5 41.7h15v2.1h-15zM323.5 43.7h15v2.1h-15zM323.5 45.7h15v2.1h-15zM323.5 47.7h15v2.1h-15zM323.5 49.6h14v2.1h-14zM324.5 51.6h12v2.1h-12zM324.5 53.6h11v2.1h-11zM325.5 55.6h8v2.1h-8zM326.5 57.6h5v2.1h-5zM322.5 91.4h4v2.1h-4zM321.5 93.4h6v2.1h-6zM321.5 95.4h6v2.1h-6zM321.5 97.4h7v2.1h-7zM321.5 99.4h7v2.1h-7zM327.5 101.4h2v2.1h-2zM327.5 103.4h2v2.1h-2zM328.5 105.4h1v2.1h-1zM328.5 107.4h1v2.1h-1zM328.5 109.3h2v2.1h-2zM329.5 111.3h1v2.1h-1zM329.5 113.3h1v2.1h-1zM329.5 115.3h1v2.1h-1zM329.5 117.3h1v2.1h-1zM329.5 119.3h1v2.1h-1zM330.5 121.3h1v2.1h-1zM330.5 123.3h1v2.1h-1zM330.5 125.3h1v2.1h-1zM330.5 127.3h1v2.1h-1zM330.5 129.2h1v2.1h-1zM330.5 131.2h1v2.1h-1zM320.5 133.2h11v2.1h-11zM330.5 135.2h1v2.1h-1zM318.5 137.2h12v2.1h-12z"/>
<path fill="#ff1d00" d="M326.5 19.8h5v2.1h-5zM326.5 21.8h5v2.1h-5zM326.5 23.8h5v2.1h-5zM326.5 25.8h6v2.1h-6zM326.5 27.8h6v2.1h-6zM326.5 29.8h6v2.1h-6zM326.5 31.7h6v2.1h-6zM326.5 33.7h6v2.1h-6zM326.5 35.7h6v2.1h-6zM326.5 37.7h6v2.1h-6zM326.5 39.7h6v2.1h-6zM326.5 41.7h6v2.1h-6zM326.5 43.7h7v2.1h-7zM326.5 45.7h7v2.1h-7zM326.5 47.7h6v2.1h-6zM328.5 49.6h2v2.1h-2zM323.5 97.4h3v2.1h-3zM322.5 99.4h5v2.1h-5zM321.5 101.4h6v2.1h-6zM321.5 103.4h6v2.1h-6zM321.5 105.4h7v2.1h-7zM321.5 107.4h7v2.1h-7zM321.5 109.3h7v2.1h-7zM321.5 111.3h8v2.1h-8zM321.5 113.3h8v2.1h-8zM321.5 115.3h8v2.1h-8zM321.5 117.3h8v2.1h-8zM321.5 119.3h8v2.1h-8zM321.5 121.3h9v2.1h-9zM321.5 123.3h9v2.1h-9zM321.5 125.3h9v2.1h-9zM321.5 127.3h9v2.1h-9zM321.5 129.2h9v2.1h-9zM321.5 131.2h9v2.1h-9zM329.5 133.2h1v2.1h-1zM319.5 135.2h11v2.1h-11zM319.5 137.2h10v2.1h-10z"/>
<path fill="#ff0300" d="M323.5 107.4h3v2.1h-3zM323.5 109.3h3v2.1h-3zM322.5 111.3h5v2.1h-5zM322.5 113.3h5v2.1h-5zM322.5 115.3h6v2.1h-6zM322.5 117.3h6v2.1h-6zM322.5 119.3h6v2.1h-6zM322.5 121.3h6v2.1h-6zM322.5 123.3h6v2.1h-6zM322.5 125.3h6v2.1h-6zM322.5 127.3h7v2.1h-7zM322.5 129.2h7v2.1h-7zM322.5 131.2h7v2.1h-7zM321.5 133.2h8v2.1h-8zM320.5 135.2h9v2.1h-9zM320.5 137.2h8v2.1h-8z"/>
<path fill="#e80000" d="M324.5 123.3h2v2.1h-2zM323.5 125.3h3v2.1h-3zM323.5 127.3h3v2.1h-3zM323.5 129.2h4v2.1h-4zM323.5 131.2h4v2.1h-4zM322.5 133.2h5v2.1h-5zM322.5 135.2h5v2.1h-5zM322.5 137.2h5v2.1h-5z"/>
</g></g>
<rect x="306.5" y="19.8" width="180.3" height="119.4" fill="none" stroke="#000" stroke-width="0.9"/>
<text class="tk" x="305.5" y="22.8" text-anchor="end">60</text>
<text class="tk" x="305.5" y="43.04" text-anchor="end">50</text>
<path d="M306.5 40.04h1.8" stroke="#000" stroke-width="0.8"/>
<text class="tk" x="305.5" y="63.27" text-anchor="end">40</text>
<path d="M306.5 60.27h1.8" stroke="#000" stroke-width="0.8"/>
<text class="tk" x="305.5" y="83.51" text-anchor="end">30</text>
<path d="M306.5 80.51h1.8" stroke="#000" stroke-width="0.8"/>
<text class="tk" x="305.5" y="103.75" text-anchor="end">20</text>
<path d="M306.5 100.75h1.8" stroke="#000" stroke-width="0.8"/>
<text class="tk" x="305.5" y="123.99" text-anchor="end">10</text>
<path d="M306.5 120.99h1.8" stroke="#000" stroke-width="0.8"/>
<text class="tk" x="305.5" y="142.2" text-anchor="end">1</text>
<text class="tk" x="306.5" y="150.8" text-anchor="middle">-1</text>
<text class="tk" x="355.67" y="150.8" text-anchor="middle">2</text>
<path d="M355.67 19.8v1.6" stroke="#000" stroke-width="0.8"/>
<text class="tk" x="404.85" y="150.8" text-anchor="middle">5</text>
<path d="M404.85 19.8v1.6" stroke="#000" stroke-width="0.8"/>
<text class="tk" x="454.02" y="150.8" text-anchor="middle">8</text>
<path d="M454.02 19.8v1.6" stroke="#000" stroke-width="0.8"/>
<text class="tk" x="486.8" y="150.8" text-anchor="middle">10</text>
<text class="ax" x="396.65" y="160.8" text-anchor="middle" textLength="35.8" lengthAdjust="spacingAndGlyphs">p(GPa)</text>
<text class="ax" transform="translate(289.7 79.5) rotate(-90)" text-anchor="middle" textLength="40.5" lengthAdjust="spacingAndGlyphs">time(ps)</text>
<rect x="494.6" y="19.8" width="6.3" height="119.4" fill="url(#jet)"/>
<text class="tk" style="font-size:8.3px" x="503.6" y="23.1">0</text>
<text class="tk" style="font-size:8.3px" x="503.6" y="43">-1</text>
<text class="tk" style="font-size:8.3px" x="503.6" y="62.9">-2</text>
<text class="tk" style="font-size:8.3px" x="503.6" y="82.8">-3</text>
<text class="tk" style="font-size:8.3px" x="503.6" y="102.7">-4</text>
<text class="tk" style="font-size:8.3px" x="503.6" y="122.6">-5</text>
<text class="tk" style="font-size:8.3px" x="503.6" y="142.5">-6</text>
<text class="cbt" x="497.75" y="14.5" text-anchor="middle" textLength="42" lengthAdjust="spacingAndGlyphs">log<tspan font-size="5.2px" dy="1.2">10</tspan><tspan dy="-1.2">(P(p))</tspan></text>
<text class="pl" style="font-family:'Liberation Serif', 'Times New Roman', serif" x="275.6" y="14.4">(b)</text>
</g>
<g id="panel-c">
<rect x="53.1" y="200.5" width="172.5" height="114.3" fill="#00008f"/>
<g clip-path="url(#cpc)"><g filter="url(#bl)" shape-rendering="crispEdges">
<path fill="#00d4ff" d="M122.3 229.1h2v2h-2zM130.3 234.8h2v2h-2zM133.3 234.8h2v2h-2zM130.3 238.6h2v2h-2z"/>
<path fill="#00efff" d="M114.3 225.3h1v2h-1zM115.3 227.2h1v2h-1zM116.3 229.1h2v2h-2zM118.3 231h2v2h-2zM119.3 232.9h3v2h-3zM56.1 234.8h68.2v2h-68.2zM56.1 236.7h5v2h-5zM53.1 246.2h3v2h-3zM56.1 248.1h3v2h-3zM79.2 250h1v2h-1zM53.1 261.5h3v2h-3zM53.1 263.4h3v2h-3zM56.1 267.2h3v2h-3zM53.1 274.8h3v2h-3zM53.1 288.1h3v2h-3zM56.1 295.8h3v2h-3zM53.1 305.3h3v2h-3zM62.1 307.2h1v2h-1zM53.1 311h3v2h-3z"/>
<path fill="#0afff5" d="M100.2 200.5h1v2h-1zM101.2 202.4h1v2h-1zM102.2 204.3h1v2h-1zM58.1 206.2h2v2h-2zM103.2 206.2h1v2h-1zM58.1 208.1h2v2h-2zM104.2 208.1h1v2h-1zM58.1 210h2v2h-2zM104.2 210h2v2h-2zM58.1 211.9h2v2h-2zM105.3 211.9h2v2h-2zM58.1 213.8h2v2h-2zM106.3 213.8h2v2h-2zM58.1 215.7h2v2h-2zM107.3 215.7h2v2h-2zM58.1 217.6h2v2h-2zM107.3 217.6h3v2h-3zM58.1 219.6h2v2h-2zM108.3 219.6h3v2h-3zM58.1 221.5h2v2h-2zM109.3 221.5h3v2h-3zM58.1 223.4h2v2h-2zM109.3 223.4h4v2h-4zM58.1 225.3h2v2h-2zM110.3 225.3h4v2h-4zM58.1 227.2h2v2h-2zM111.3 227.2h4v2h-4zM58.1 229.1h2v2h-2zM112.3 229.1h4v2h-4zM58.1 231h2v2h-2zM112.3 231h6v2h-6zM58.1 232.9h2v2h-2zM113.3 232.9h6v2h-6zM114.3 234.8h6v2h-6zM85.2 240.5h1v2h-1zM80.2 248.1h1v2h-1zM78.2 251.9h1v2h-1zM77.2 253.8h1v2h-1zM76.2 255.7h1v2h-1z"/>
<path fill="#24ffdb" d="M99.2 200.5h1v2h-1zM100.2 202.4h1v2h-1zM101.2 204.3h1v2h-1zM101.2 206.2h2v2h-2zM102.2 208.1h2v2h-2zM102.2 210h2v2h-2zM103.2 211.9h2v2h-2zM103.2 213.8h3v2h-3zM104.2 215.7h3v2h-3zM104.2 217.6h3v2h-3zM105.3 219.6h3v2h-3zM105.3 221.5h4v2h-4zM106.3 223.4h3v2h-3zM106.3 225.3h4v2h-4zM106.3 227.2h5v2h-5zM107.3 229.1h5v2h-5zM107.3 231h5v2h-5zM107.3 232.9h6v2h-6zM107.3 234.8h7v2h-7zM89.2 236.7h1v2h-1zM87.2 238.6h1v2h-1zM81.2 246.2h1v2h-1zM72.2 269.1h1v2h-1z"/>
<path fill="#3effc1" d="M98.2 200.5h1v2h-1zM99.2 202.4h1v2h-1zM99.2 204.3h2v2h-2zM100.2 206.2h1v2h-1zM100.2 208.1h2v2h-2zM100.2 210h2v2h-2zM100.2 211.9h3v2h-3zM101.2 213.8h2v2h-2zM101.2 215.7h3v2h-3zM101.2 217.6h3v2h-3zM101.2 219.6h4v2h-4zM102.2 221.5h3v2h-3zM102.2 223.4h4v2h-4zM102.2 225.3h4v2h-4zM102.2 227.2h4v2h-4zM102.2 229.1h5v2h-5zM102.2 231h5v2h-5zM101.2 232.9h6v2h-6zM101.2 234.8h6v2h-6zM83.2 242.4h1v2h-1zM82.2 244.3h1v2h-1zM69.1 284.3h1v2h-1z"/>
<path fill="#58ffa7" d="M61.1 200.5h37.1v2h-37.1zM61.1 202.4h38.1v2h-38.1zM60.1 204.3h1v2h-1zM98.2 204.3h1v2h-1zM98.2 206.2h2v2h-2zM98.2 208.1h2v2h-2zM98.2 210h2v2h-2zM98.2 211.9h2v2h-2zM98.2 213.8h3v2h-3zM98.2 215.7h3v2h-3zM98.2 217.6h3v2h-3zM98.2 219.6h3v2h-3zM98.2 221.5h4v2h-4zM98.2 223.4h4v2h-4zM98.2 225.3h4v2h-4zM97.2 227.2h5v2h-5zM97.2 229.1h5v2h-5zM96.2 231h6v2h-6zM95.2 232.9h6v2h-6zM95.2 234.8h6v2h-6zM88.2 236.7h1v2h-1zM86.2 238.6h1v2h-1zM84.2 240.5h1v2h-1zM75.2 257.6h1v2h-1zM73.2 265.3h1v2h-1zM64.1 290h2v2h-2z"/>
<path fill="#72ff8d" d="M96.2 200.5h1v2h-1zM96.2 202.4h2v2h-2zM96.2 204.3h2v2h-2zM96.2 206.2h2v2h-2zM96.2 208.1h2v2h-2zM96.2 210h2v2h-2zM96.2 211.9h2v2h-2zM96.2 213.8h2v2h-2zM96.2 215.7h2v2h-2zM96.2 217.6h2v2h-2zM96.2 219.6h2v2h-2zM95.2 221.5h3v2h-3zM95.2 223.4h3v2h-3zM95.2 225.3h3v2h-3zM95.2 227.2h2v2h-2zM94.2 229.1h3v2h-3zM93.2 231h3v2h-3zM92.2 232.9h3v2h-3zM91.2 234.8h4v2h-4zM74.2 261.5h1v2h-1zM70.1 276.7h1v2h-1zM63.1 290h1v2h-1zM66.1 290h2v2h-2z"/>
<path fill="#8dff72" d="M95.2 200.5h1v2h-1zM95.2 202.4h1v2h-1zM95.2 204.3h1v2h-1zM95.2 206.2h1v2h-1zM95.2 208.1h1v2h-1zM94.2 210h2v2h-2zM94.2 211.9h2v2h-2zM94.2 213.8h2v2h-2zM94.2 215.7h2v2h-2zM94.2 217.6h2v2h-2zM94.2 219.6h2v2h-2zM94.2 221.5h1v2h-1zM93.2 223.4h2v2h-2zM93.2 225.3h2v2h-2zM93.2 227.2h2v2h-2zM92.2 229.1h2v2h-2zM91.2 231h2v2h-2zM90.2 232.9h2v2h-2zM90.2 234.8h1v2h-1zM87.2 236.7h1v2h-1zM85.2 238.6h1v2h-1zM83.2 240.5h1v2h-1zM82.2 242.4h1v2h-1zM81.2 244.3h1v2h-1zM80.2 246.2h1v2h-1zM79.2 248.1h1v2h-1zM78.2 250h1v2h-1zM77.2 251.9h1v2h-1zM76.2 253.8h1v2h-1zM71.2 271h1v2h-1zM69.1 282.4h1v2h-1zM64.1 288.1h3v2h-3zM62.1 290h1v2h-1z"/>
<path fill="#a7ff58" d="M94.2 200.5h1v2h-1zM94.2 202.4h1v2h-1zM93.2 204.3h2v2h-2zM93.2 206.2h2v2h-2zM93.2 208.1h2v2h-2zM93.2 210h1v2h-1zM93.2 211.9h1v2h-1zM93.2 213.8h1v2h-1zM92.2 215.7h2v2h-2zM92.2 217.6h2v2h-2zM92.2 219.6h2v2h-2zM92.2 221.5h2v2h-2zM92.2 223.4h1v2h-1zM91.2 225.3h2v2h-2zM91.2 227.2h2v2h-2zM90.2 229.1h2v2h-2zM89.2 231h2v2h-2zM89.2 232.9h1v2h-1zM88.2 234.8h2v2h-2zM86.2 236.7h1v2h-1zM84.2 238.6h1v2h-1zM75.2 255.7h1v2h-1zM74.2 259.6h1v2h-1zM72.2 267.2h1v2h-1zM62.1 288.1h2v2h-2zM67.1 288.1h1v2h-1zM59.1 291.9h1v2h-1zM68.1 291.9h1v2h-1zM68.1 293.8h1v2h-1zM60.1 295.8h1v2h-1zM68.1 295.8h1v2h-1zM59.1 297.7h1v2h-1zM68.1 297.7h1v2h-1zM59.1 299.6h1v2h-1zM68.1 299.6h1v2h-1zM68.1 301.5h1v2h-1zM60.1 303.4h1v2h-1zM68.1 303.4h1v2h-1zM68.1 305.3h1v2h-1zM59.1 307.2h1v2h-1zM68.1 307.2h1v2h-1zM59.1 309.1h1v2h-1zM68.1 309.1h1v2h-1zM60.1 311h1v2h-1zM68.1 311h1v2h-1zM68.1 312.9h1v2h-1z"/>
<path fill="#c1ff3e" d="M92.2 200.5h2v2h-2zM92.2 202.4h2v2h-2zM92.2 204.3h1v2h-1zM92.2 206.2h1v2h-1zM91.2 208.1h2v2h-2zM91.2 210h2v2h-2zM91.2 211.9h2v2h-2zM91.2 213.8h2v2h-2zM91.2 215.7h1v2h-1zM90.2 217.6h2v2h-2zM90.2 219.6h2v2h-2zM90.2 221.5h2v2h-2zM90.2 223.4h2v2h-2zM89.2 225.3h2v2h-2zM89.2 227.2h2v2h-2zM88.2 229.1h2v2h-2zM87.2 231h2v2h-2zM87.2 232.9h2v2h-2zM86.2 234.8h2v2h-2zM85.2 236.7h1v2h-1zM82.2 240.5h1v2h-1zM81.2 242.4h1v2h-1zM80.2 244.3h1v2h-1zM79.2 246.2h1v2h-1zM78.2 248.1h1v2h-1zM74.2 257.6h1v2h-1zM73.2 263.4h1v2h-1zM64.1 284.3h1v2h-1zM63.1 286.2h4v2h-4z"/>
<path fill="#dbff24" d="M91.2 200.5h1v2h-1zM91.2 202.4h1v2h-1zM90.2 204.3h2v2h-2zM90.2 206.2h2v2h-2zM90.2 208.1h1v2h-1zM90.2 210h1v2h-1zM89.2 211.9h2v2h-2zM89.2 213.8h2v2h-2zM89.2 215.7h2v2h-2zM88.2 217.6h2v2h-2zM88.2 219.6h2v2h-2zM88.2 221.5h2v2h-2zM88.2 223.4h2v2h-2zM87.2 225.3h2v2h-2zM87.2 227.2h2v2h-2zM86.2 229.1h2v2h-2zM86.2 231h1v2h-1zM85.2 232.9h2v2h-2zM84.2 234.8h2v2h-2zM84.2 236.7h1v2h-1zM83.2 238.6h1v2h-1zM81.2 240.5h1v2h-1zM77.2 250h1v2h-1zM76.2 251.9h1v2h-1zM70.1 274.8h1v2h-1zM64.1 282.4h1v2h-1zM63.1 284.3h1v2h-1zM65.1 284.3h1v2h-1zM62.1 286.2h1v2h-1zM67.1 286.2h1v2h-1z"/>
<path fill="#f5ff0a" d="M87.2 200.5h4v2h-4zM87.2 202.4h4v2h-4zM87.2 204.3h3v2h-3zM87.2 206.2h3v2h-3zM86.2 208.1h4v2h-4zM86.2 210h4v2h-4zM86.2 211.9h3v2h-3zM86.2 213.8h3v2h-3zM86.2 215.7h3v2h-3zM85.2 217.6h3v2h-3zM85.2 219.6h3v2h-3zM61.1 221.5h27.1v2h-27.1zM61.1 223.4h27.1v2h-27.1zM61.1 225.3h26.1v2h-26.1zM84.2 227.2h3v2h-3zM84.2 229.1h2v2h-2zM83.2 231h3v2h-3zM82.2 232.9h3v2h-3zM82.2 234.8h2v2h-2zM82.2 236.7h2v2h-2zM81.2 238.6h2v2h-2zM80.2 240.5h1v2h-1zM79.2 242.4h2v2h-2zM78.2 244.3h2v2h-2zM78.2 246.2h1v2h-1zM77.2 248.1h1v2h-1zM76.2 250h1v2h-1zM75.2 251.9h1v2h-1zM75.2 253.8h1v2h-1zM74.2 255.7h1v2h-1zM73.2 261.5h1v2h-1zM64.1 272.9h1v2h-1zM63.1 274.8h2v2h-2zM63.1 276.7h2v2h-2zM63.1 278.6h2v2h-2zM63.1 280.5h7v2h-7zM62.1 282.4h2v2h-2zM62.1 284.3h1v2h-1zM68.1 286.2h1v2h-1zM68.1 288.1h1v2h-1zM68.1 290h1v2h-1z"/>
<path fill="#ffef00" d="M83.2 200.5h4v2h-4zM83.2 202.4h4v2h-4zM83.2 204.3h4v2h-4zM83.2 206.2h4v2h-4zM83.2 208.1h3v2h-3zM83.2 210h3v2h-3zM83.2 211.9h3v2h-3zM83.2 213.8h3v2h-3zM82.2 215.7h4v2h-4zM82.2 217.6h3v2h-3zM82.2 219.6h3v2h-3zM82.2 221.5h3v2h-3zM82.2 223.4h3v2h-3zM82.2 225.3h3v2h-3zM61.1 227.2h23.1v2h-23.1zM61.1 229.1h23.1v2h-23.1zM81.2 231h2v2h-2zM80.2 232.9h2v2h-2zM80.2 234.8h2v2h-2zM80.2 236.7h2v2h-2zM79.2 238.6h2v2h-2zM78.2 240.5h2v2h-2zM78.2 242.4h1v2h-1zM77.2 244.3h1v2h-1zM76.2 246.2h2v2h-2zM76.2 248.1h1v2h-1zM75.2 250h1v2h-1zM74.2 253.8h1v2h-1zM73.2 259.6h1v2h-1zM63.1 265.3h10v2h-10zM63.1 267.2h1v2h-1zM63.1 269.1h9v2h-9zM62.1 271h3v2h-3zM62.1 272.9h2v2h-2zM62.1 274.8h1v2h-1zM62.1 276.7h1v2h-1zM62.1 278.6h1v2h-1zM62.1 280.5h1v2h-1zM65.1 282.4h1v2h-1zM66.1 284.3h1v2h-1z"/>
<path fill="#ffd500" d="M80.2 200.5h3v2h-3zM80.2 202.4h3v2h-3zM80.2 204.3h3v2h-3zM80.2 206.2h3v2h-3zM80.2 208.1h3v2h-3zM80.2 210h3v2h-3zM79.2 211.9h4v2h-4zM79.2 213.8h4v2h-4zM79.2 215.7h3v2h-3zM79.2 217.6h3v2h-3zM79.2 219.6h3v2h-3zM79.2 221.5h3v2h-3zM79.2 223.4h3v2h-3zM79.2 225.3h3v2h-3zM79.2 227.2h2v2h-2zM78.2 229.1h3v2h-3zM61.1 231h20.1v2h-20.1zM61.1 232.9h19.1v2h-19.1zM77.2 234.8h3v2h-3zM77.2 236.7h3v2h-3zM77.2 238.6h2v2h-2zM76.2 240.5h2v2h-2zM76.2 242.4h2v2h-2zM76.2 244.3h1v2h-1zM75.2 246.2h1v2h-1zM75.2 248.1h1v2h-1zM74.2 250h1v2h-1zM74.2 251.9h1v2h-1zM73.2 253.8h1v2h-1zM73.2 255.7h1v2h-1zM60.1 257.6h14v2h-14zM60.1 259.6h1v2h-1zM60.1 261.5h1v2h-1zM60.1 263.4h4v2h-4zM60.1 265.3h3v2h-3zM64.1 265.3h1v2h-1zM60.1 267.2h3v2h-3zM64.1 267.2h1v2h-1zM60.1 269.1h3v2h-3zM60.1 271h1v2h-1zM60.1 272.9h1v2h-1zM60.1 274.8h1v2h-1zM60.1 276.7h1v2h-1zM60.1 278.6h1v2h-1zM60.1 280.5h1v2h-1zM65.1 280.5h1v2h-1zM60.1 282.4h1v2h-1zM60.1 284.3h1v2h-1zM60.1 286.2h1v2h-1zM60.1 288.1h1v2h-1zM60.1 290h1v2h-1z"/>
<path fill="#ffba00" d="M76.2 200.5h4v2h-4zM76.2 202.4h4v2h-4zM76.2 204.3h4v2h-4zM76.2 206.2h4v2h-4zM76.2 208.1h4v2h-4zM76.2 210h4v2h-4zM76.2 211.9h3v2h-3zM76.2 213.8h3v2h-3zM76.2 215.7h3v2h-3zM76.2 217.6h3v2h-3zM76.2 219.6h3v2h-3zM76.2 221.5h3v2h-3zM76.2 223.4h3v2h-3zM76.2 225.3h3v2h-3zM76.2 227.2h3v2h-3zM76.2 229.1h2v2h-2zM76.2 231h2v2h-2zM75.2 232.9h3v2h-3zM61.1 234.8h16v2h-16zM61.1 236.7h16v2h-16zM75.2 238.6h2v2h-2zM75.2 240.5h1v2h-1zM75.2 242.4h1v2h-1zM74.2 244.3h2v2h-2zM74.2 246.2h1v2h-1zM74.2 248.1h1v2h-1zM73.2 250h1v2h-1zM73.2 251.9h1v2h-1zM72.2 255.7h1v2h-1zM62.1 261.5h2v2h-2zM64.1 263.4h9v2h-9zM70.1 272.9h1v2h-1zM65.1 276.7h1v2h-1zM65.1 278.6h5v2h-5zM67.1 284.3h2v2h-2zM61.1 290h1v2h-1z"/>
<path fill="#ffa000" d="M62.1 200.5h14v2h-14zM62.1 202.4h14v2h-14zM74.2 204.3h2v2h-2zM74.2 206.2h2v2h-2zM74.2 208.1h2v2h-2zM74.2 210h2v2h-2zM74.2 211.9h2v2h-2zM74.2 213.8h2v2h-2zM74.2 215.7h2v2h-2zM74.2 217.6h2v2h-2zM74.2 219.6h2v2h-2zM74.2 221.5h2v2h-2zM75.2 223.4h1v2h-1zM75.2 225.3h1v2h-1zM74.2 227.2h2v2h-2zM74.2 229.1h2v2h-2zM74.2 231h2v2h-2zM74.2 232.9h1v2h-1zM74.2 234.8h1v2h-1zM74.2 236.7h1v2h-1zM61.1 238.6h14v2h-14zM61.1 240.5h14v2h-14zM73.2 242.4h2v2h-2zM73.2 244.3h1v2h-1zM73.2 246.2h1v2h-1zM73.2 248.1h1v2h-1zM72.2 250h1v2h-1zM72.2 251.9h1v2h-1zM72.2 253.8h1v2h-1zM64.1 261.5h9v2h-9zM71.2 267.2h1v2h-1zM65.1 274.8h1v2h-1zM66.1 282.4h1v2h-1zM61.1 288.1h1v2h-1z"/>
<path fill="#ff8600" d="M73.2 200.5h1v2h-1zM73.2 202.4h1v2h-1zM62.1 204.3h12v2h-12zM62.1 206.2h12v2h-12zM73.2 208.1h1v2h-1zM73.2 210h1v2h-1zM73.2 211.9h1v2h-1zM73.2 213.8h1v2h-1zM74.2 223.4h1v2h-1zM74.2 225.3h1v2h-1zM73.2 229.1h1v2h-1zM73.2 231h1v2h-1zM73.2 232.9h1v2h-1zM73.2 234.8h1v2h-1zM73.2 236.7h1v2h-1zM73.2 238.6h1v2h-1zM61.1 242.4h1v2h-1zM61.1 244.3h1v2h-1zM72.2 246.2h1v2h-1zM72.2 248.1h1v2h-1zM71.2 253.8h1v2h-1zM71.2 255.7h1v2h-1zM72.2 257.6h1v2h-1zM72.2 259.6h1v2h-1zM71.2 265.3h1v2h-1zM61.1 267.2h1v2h-1zM61.1 269.1h1v2h-1zM65.1 269.1h1v2h-1zM61.1 271h1v2h-1zM65.1 271h6v2h-6zM61.1 272.9h1v2h-1zM65.1 272.9h1v2h-1zM61.1 274.8h1v2h-1zM61.1 276.7h1v2h-1zM69.1 276.7h1v2h-1zM61.1 278.6h1v2h-1zM61.1 280.5h1v2h-1zM66.1 280.5h1v2h-1zM61.1 282.4h1v2h-1zM61.1 284.3h1v2h-1zM61.1 286.2h1v2h-1z"/>
<path fill="#ff6c00" d="M72.2 200.5h1v2h-1zM72.2 202.4h1v2h-1zM72.2 204.3h1v2h-1zM72.2 206.2h1v2h-1zM62.1 208.1h1v2h-1zM62.1 210h1v2h-1zM62.1 211.9h1v2h-1zM73.2 215.7h1v2h-1zM73.2 217.6h1v2h-1zM73.2 219.6h1v2h-1zM73.2 221.5h1v2h-1zM73.2 223.4h1v2h-1zM73.2 225.3h1v2h-1zM73.2 227.2h1v2h-1zM72.2 232.9h1v2h-1zM72.2 234.8h1v2h-1zM72.2 236.7h1v2h-1zM72.2 238.6h1v2h-1zM72.2 240.5h1v2h-1zM72.2 242.4h1v2h-1zM72.2 244.3h1v2h-1zM61.1 246.2h1v2h-1zM61.1 248.1h11v2h-11zM71.2 250h1v2h-1zM71.2 251.9h1v2h-1zM62.1 259.6h2v2h-2zM61.1 261.5h1v2h-1zM61.1 263.4h1v2h-1zM65.1 263.4h7v2h-7zM61.1 265.3h1v2h-1zM65.1 265.3h1v2h-1zM65.1 267.2h1v2h-1zM70.1 269.1h1v2h-1zM66.1 276.7h1v2h-1zM66.1 278.6h1v2h-1zM67.1 282.4h2v2h-2z"/>
<path fill="#ff5200" d="M71.2 200.5h1v2h-1zM72.2 208.1h1v2h-1zM72.2 210h1v2h-1zM72.2 211.9h1v2h-1zM62.1 213.8h11v2h-11zM62.1 215.7h11v2h-11zM72.2 217.6h1v2h-1zM72.2 219.6h1v2h-1zM72.2 221.5h1v2h-1zM72.2 223.4h1v2h-1zM72.2 225.3h1v2h-1zM72.2 227.2h1v2h-1zM72.2 229.1h1v2h-1zM72.2 231h1v2h-1zM71.2 238.6h1v2h-1zM71.2 240.5h1v2h-1zM71.2 242.4h1v2h-1zM71.2 244.3h1v2h-1zM71.2 246.2h1v2h-1zM61.1 250h10v2h-10zM70.1 251.9h1v2h-1zM70.1 253.8h1v2h-1zM70.1 255.7h1v2h-1zM71.2 257.6h1v2h-1zM61.1 259.6h1v2h-1zM64.1 259.6h8v2h-8zM65.1 261.5h7v2h-7zM70.1 267.2h1v2h-1zM66.1 272.9h1v2h-1zM66.1 274.8h4v2h-4z"/>
<path fill="#ff3800" d="M71.2 202.4h1v2h-1zM71.2 204.3h1v2h-1zM71.2 206.2h1v2h-1zM71.2 208.1h1v2h-1zM71.2 210h1v2h-1zM71.2 211.9h1v2h-1zM71.2 213.8h1v2h-1zM71.2 215.7h1v2h-1zM62.1 217.6h10v2h-10zM62.1 219.6h10v2h-10zM71.2 221.5h1v2h-1zM71.2 223.4h1v2h-1zM71.2 225.3h1v2h-1zM71.2 227.2h1v2h-1zM71.2 229.1h1v2h-1zM71.2 231h1v2h-1zM71.2 232.9h1v2h-1zM71.2 234.8h1v2h-1zM71.2 236.7h1v2h-1zM70.1 246.2h1v2h-1zM70.1 248.1h1v2h-1zM61.1 251.9h1v2h-1zM61.1 253.8h9v2h-9zM69.1 255.7h1v2h-1zM61.1 257.6h2v2h-2zM66.1 263.4h5v2h-5zM66.1 265.3h5v2h-5zM66.1 267.2h1v2h-1zM66.1 269.1h1v2h-1zM66.1 271h1v2h-1zM69.1 272.9h1v2h-1zM67.1 278.6h2v2h-2zM67.1 280.5h2v2h-2zM60.1 291.9h2v2h-2zM60.1 293.8h2v2h-2zM61.1 295.8h1v2h-1zM60.1 297.7h2v2h-2zM60.1 299.6h1v2h-1zM60.1 301.5h2v2h-2zM61.1 303.4h1v2h-1zM60.1 305.3h2v2h-2zM60.1 307.2h1v2h-1zM60.1 309.1h2v2h-2zM61.1 311h1v2h-1zM60.1 312.9h2v2h-2z"/>
<path fill="#ff1d00" d="M63.1 200.5h8v2h-8zM63.1 202.4h8v2h-8zM63.1 204.3h8v2h-8zM63.1 206.2h8v2h-8zM63.1 208.1h8v2h-8zM70.1 210h1v2h-1zM70.1 211.9h1v2h-1zM70.1 213.8h1v2h-1zM70.1 215.7h1v2h-1zM70.1 217.6h1v2h-1zM70.1 219.6h1v2h-1zM62.1 221.5h9v2h-9zM62.1 223.4h9v2h-9zM62.1 225.3h9v2h-9zM62.1 227.2h9v2h-9zM62.1 229.1h9v2h-9zM62.1 231h9v2h-9zM62.1 232.9h9v2h-9zM62.1 234.8h9v2h-9zM62.1 236.7h9v2h-9zM62.1 238.6h9v2h-9zM62.1 240.5h9v2h-9zM62.1 242.4h9v2h-9zM62.1 244.3h9v2h-9zM62.1 246.2h8v2h-8zM62.1 248.1h8v2h-8zM69.1 250h1v2h-1zM69.1 251.9h1v2h-1zM61.1 255.7h1v2h-1zM63.1 257.6h8v2h-8zM65.1 259.6h6v2h-6zM66.1 261.5h5v2h-5zM69.1 265.3h1v2h-1zM69.1 267.2h1v2h-1zM69.1 269.1h1v2h-1zM69.1 271h1v2h-1zM67.1 272.9h2v2h-2zM67.1 274.8h2v2h-2zM67.1 276.7h2v2h-2z"/>
<path fill="#ff0300" d="M69.1 200.5h1v2h-1zM69.1 202.4h1v2h-1zM69.1 204.3h1v2h-1zM69.1 206.2h1v2h-1zM69.1 208.1h1v2h-1zM63.1 210h7v2h-7zM63.1 211.9h7v2h-7zM63.1 213.8h7v2h-7zM63.1 215.7h7v2h-7zM63.1 217.6h7v2h-7zM63.1 219.6h7v2h-7zM63.1 221.5h7v2h-7zM63.1 223.4h7v2h-7zM63.1 225.3h7v2h-7zM63.1 227.2h7v2h-7zM63.1 229.1h7v2h-7zM63.1 231h7v2h-7zM63.1 232.9h7v2h-7zM63.1 234.8h7v2h-7zM63.1 236.7h7v2h-7zM69.1 238.6h1v2h-1zM68.1 240.5h2v2h-2zM68.1 242.4h2v2h-2zM68.1 244.3h2v2h-2zM68.1 246.2h1v2h-1zM68.1 248.1h1v2h-1zM62.1 250h7v2h-7zM62.1 251.9h7v2h-7zM62.1 253.8h7v2h-7zM62.1 255.7h7v2h-7zM64.1 257.6h6v2h-6zM66.1 259.6h4v2h-4zM67.1 261.5h3v2h-3zM67.1 263.4h3v2h-3zM67.1 265.3h2v2h-2zM67.1 267.2h2v2h-2zM67.1 269.1h2v2h-2zM67.1 271h2v2h-2z"/>
<path fill="#e80000" d="M64.1 200.5h5v2h-5zM64.1 202.4h5v2h-5zM64.1 204.3h5v2h-5zM64.1 206.2h5v2h-5zM64.1 208.1h5v2h-5zM64.1 210h5v2h-5zM64.1 211.9h5v2h-5zM64.1 213.8h5v2h-5zM64.1 215.7h5v2h-5zM64.1 217.6h5v2h-5zM64.1 219.6h5v2h-5zM64.1 221.5h5v2h-5zM64.1 223.4h5v2h-5zM64.1 225.3h5v2h-5zM64.1 227.2h5v2h-5zM64.1 229.1h5v2h-5zM68.1 231h1v2h-1zM67.1 232.9h2v2h-2zM67.1 234.8h2v2h-2zM67.1 236.7h2v2h-2zM63.1 238.6h6v2h-6zM63.1 240.5h5v2h-5zM63.1 242.4h5v2h-5zM63.1 244.3h5v2h-5zM63.1 246.2h5v2h-5zM63.1 248.1h5v2h-5zM63.1 250h5v2h-5zM63.1 251.9h5v2h-5zM63.1 253.8h4v2h-4zM63.1 255.7h4v2h-4zM65.1 257.6h4v2h-4zM67.1 259.6h1v2h-1z"/>
<path fill="#ce0000" d="M65.1 200.5h3v2h-3zM65.1 202.4h3v2h-3zM65.1 204.3h3v2h-3zM65.1 206.2h3v2h-3zM65.1 208.1h3v2h-3zM65.1 210h3v2h-3zM65.1 211.9h3v2h-3zM65.1 213.8h3v2h-3zM65.1 215.7h3v2h-3zM65.1 217.6h3v2h-3zM65.1 219.6h3v2h-3zM67.1 221.5h1v2h-1zM67.1 223.4h1v2h-1zM67.1 225.3h1v2h-1zM66.1 227.2h2v2h-2zM66.1 229.1h2v2h-2zM64.1 231h4v2h-4zM64.1 232.9h3v2h-3zM64.1 234.8h3v2h-3zM64.1 236.7h3v2h-3zM64.1 238.6h3v2h-3zM64.1 240.5h3v2h-3zM64.1 242.4h3v2h-3zM64.1 244.3h3v2h-3zM64.1 246.2h3v2h-3zM64.1 248.1h3v2h-3zM64.1 250h3v2h-3zM64.1 251.9h2v2h-2zM64.1 253.8h2v2h-2zM64.1 255.7h2v2h-2z"/>
<path fill="#b40000" d="M66.1 200.5h1v2h-1zM66.1 202.4h1v2h-1zM66.1 204.3h1v2h-1zM66.1 206.2h1v2h-1zM66.1 208.1h1v2h-1zM66.1 210h1v2h-1zM66.1 211.9h1v2h-1zM66.1 213.8h1v2h-1zM66.1 215.7h1v2h-1zM66.1 217.6h1v2h-1zM66.1 219.6h1v2h-1zM65.1 221.5h2v2h-2zM65.1 223.4h2v2h-2zM65.1 225.3h2v2h-2zM65.1 227.2h1v2h-1zM65.1 229.1h1v2h-1zM65.1 231h1v2h-1zM65.1 232.9h1v2h-1zM65.1 234.8h1v2h-1zM65.1 236.7h1v2h-1zM65.1 238.6h1v2h-1zM65.1 240.5h1v2h-1zM65.1 242.4h1v2h-1zM65.1 244.3h1v2h-1zM65.1 246.2h1v2h-1z"/>
</g></g>
<g filter="url(#bl2)" clip-path="url(#cpc)"><rect x="60.35" y="291.6" width="1.7" height="23.2" fill="#ff4a00"/><rect x="68.2" y="287" width="1.4" height="27.8" fill="#c8f56a"/><rect x="58.6" y="207" width="1.8" height="30.5" fill="#19f5ee"/></g>
<g filter="url(#bl2)" clip-path="url(#cpc)"><rect x="59.7" y="258" width="1" height="57" fill="#fff" opacity="0.55"/></g>
<rect x="53.1" y="200.5" width="172.5" height="114.3" fill="none" stroke="#000" stroke-width="0.9"/>
<text class="tk" x="50.5" y="203.5" text-anchor="end">60</text>
<text class="tk" x="50.5" y="222.87" text-anchor="end">50</text>
<path d="M53.1 219.87h1.8" stroke="#000" stroke-width="0.8"/>
<text class="tk" x="50.5" y="242.25" text-anchor="end">40</text>
<path d="M53.1 239.25h1.8" stroke="#000" stroke-width="0.8"/>
<text class="tk" x="50.5" y="261.62" text-anchor="end">30</text>
<path d="M53.1 258.62h1.8" stroke="#000" stroke-width="0.8"/>
<text class="tk" x="50.5" y="280.99" text-anchor="end">20</text>
<path d="M53.1 277.99h1.8" stroke="#000" stroke-width="0.8"/>
<text class="tk" x="50.5" y="300.36" text-anchor="end">10</text>
<path d="M53.1 297.36h1.8" stroke="#000" stroke-width="0.8"/>
<text class="tk" x="50.5" y="317.8" text-anchor="end">1</text>
<text class="tk" x="53.1" y="326.4" text-anchor="middle">200</text>
<text class="tk" x="81.85" y="326.4" text-anchor="middle">500</text>
<path d="M81.85 200.5v1.6" stroke="#000" stroke-width="0.8"/>
<text class="tk" x="129.77" y="326.4" text-anchor="middle">1000</text>
<path d="M129.77 200.5v1.6" stroke="#000" stroke-width="0.8"/>
<text class="tk" x="177.68" y="326.4" text-anchor="middle">1500</text>
<path d="M177.68 200.5v1.6" stroke="#000" stroke-width="0.8"/>
<text class="tk" x="225.6" y="326.4" text-anchor="middle">2000</text>
<text class="ax" x="139.35" y="336.4" text-anchor="middle" textLength="24.2" lengthAdjust="spacingAndGlyphs">T(K)</text>
<text class="ax" transform="translate(36.3 257.65) rotate(-90)" text-anchor="middle" textLength="40.5" lengthAdjust="spacingAndGlyphs">time(ps)</text>
<rect x="238.7" y="200.5" width="6.1" height="114.3" fill="url(#jet)"/>
<text class="tk" style="font-size:8.3px" x="247.5" y="203.8">0</text>
<text class="tk" style="font-size:8.3px" x="247.5" y="222.85">-1</text>
<text class="tk" style="font-size:8.3px" x="247.5" y="241.9">-2</text>
<text class="tk" style="font-size:8.3px" x="247.5" y="260.95">-3</text>
<text class="tk" style="font-size:8.3px" x="247.5" y="280">-4</text>
<text class="tk" style="font-size:8.3px" x="247.5" y="299.05">-5</text>
<text class="tk" style="font-size:8.3px" x="247.5" y="318.1">-6</text>
<text class="cbt" x="241.75" y="195.2" text-anchor="middle" textLength="44.4" lengthAdjust="spacingAndGlyphs">log<tspan font-size="5.2px" dy="1.2">10</tspan><tspan dy="-1.2">(P(T))</tspan></text>
<text class="pl" style="font-family:'Liberation Sans', Arial, sans-serif;font-size:15px;letter-spacing:0.6px" x="26.3" y="185.2">(c)</text>
</g>
<g id="panel-d">
<rect x="308.3" y="199.5" width="176.9" height="116.8" fill="#00008f"/>
<g clip-path="url(#cpd)"><g filter="url(#bl)" shape-rendering="crispEdges">
<path fill="#00d4ff" d="M421.2 234.5h7v2h-7zM430.2 234.5h5v2h-5zM447.2 234.5h1v2h-1zM392.3 236.5h2v2h-2zM398.2 236.5h2v2h-2zM410.2 236.5h4v2h-4zM442.2 236.5h2v2h-2zM447.2 236.5h3v2h-3zM454.2 236.5h2v2h-2zM474.2 236.5h2v2h-2zM382.3 238.4h1v2h-1zM447.2 238.4h1v2h-1zM458.2 238.4h2v2h-2zM472.2 238.4h2v2h-2zM484.2 238.4h1v2h-1zM370.3 240.4h1v2h-1zM378.3 242.3h2v2h-2z"/>
<path fill="#00efff" d="M423.2 228.7h6v2h-6zM423.2 230.6h22v2h-22zM414.2 232.6h16v2h-16zM434.2 232.6h10v2h-10zM446.2 232.6h8v2h-8zM456.2 232.6h5v2h-5zM413.2 234.5h1v2h-1zM416.2 234.5h5v2h-5zM449.2 234.5h5v2h-5zM456.2 234.5h4v2h-4zM462.2 234.5h4v2h-4zM468.2 234.5h10v2h-10zM480.2 234.5h1v2h-1zM479.2 236.5h1v2h-1zM482.2 236.5h3v2h-3zM325.3 292.9h7v2h-7zM334.3 292.9h6v2h-6zM342.3 292.9h4v2h-4zM348.3 292.9h6v2h-6zM358.3 292.9h2v2h-2zM362.3 292.9h14v2h-14zM378.3 292.9h2v2h-2zM326.3 294.9h4v2h-4zM334.3 294.9h6v2h-6zM344.3 294.9h2v2h-2zM350.3 294.9h2v2h-2zM368.3 294.9h2v2h-2zM372.3 294.9h4v2h-4zM326.3 296.8h4v2h-4zM336.3 296.8h4v2h-4zM350.3 296.8h2v2h-2zM374.3 296.8h2v2h-2z"/>
<path fill="#0afff5" d="M406.2 199.5h1v2h-1zM412.2 226.8h1v2h-1zM412.2 228.7h11v2h-11zM409.2 230.6h5v2h-5zM416.2 230.6h7v2h-7zM406.2 232.6h8v2h-8zM408.2 234.5h2v2h-2zM412.2 234.5h1v2h-1z"/>
<path fill="#24ffdb" d="M372.3 199.5h34v2h-34zM372.3 201.4h34v2h-34zM372.3 203.4h22v2h-22zM372.3 205.3h4v2h-4zM376.3 207.3h2v2h-2zM381.3 209.2h1v2h-1zM403.2 224.8h1v2h-1zM403.2 226.8h3v2h-3zM408.2 226.8h4v2h-4zM472.2 226.8h1v2h-1zM403.2 228.7h9v2h-9zM484.2 228.7h1v2h-1zM398.2 230.6h11v2h-11zM411.2 230.6h1v2h-1zM398.2 232.6h8v2h-8zM400.2 234.5h6v2h-6zM481.2 234.5h4v2h-4zM325.3 291h56v2h-56z"/>
<path fill="#3effc1" d="M398.2 224.8h2v2h-2zM402.2 224.8h1v2h-1zM398.2 226.8h5v2h-5zM468.2 226.8h4v2h-4zM393.3 228.7h10v2h-10zM479.2 228.7h5v2h-5zM393.3 230.6h5v2h-5zM393.3 232.6h3v2h-3zM394.3 234.5h4v2h-4z"/>
<path fill="#58ffa7" d="M311.3 207.3h1v2h-1zM313.3 209.2h1v2h-1zM313.3 211.2h73v2h-73zM313.3 213.1h76v2h-76zM313.3 215.1h82v2h-82zM313.3 217h88v2h-88zM313.3 219h95.9v2h-95.9zM311.3 220.9h109.9v2h-109.9zM310.3 222.9h129.9v2h-129.9zM312.3 224.8h86v2h-86zM454.2 224.8h2v2h-2zM313.3 226.8h83v2h-83zM464.2 226.8h4v2h-4zM315.3 228.7h78v2h-78zM474.2 228.7h5v2h-5zM316.3 230.6h77v2h-77zM481.2 230.6h4v2h-4zM317.3 232.6h73v2h-73zM392.3 232.6h1v2h-1zM461.2 232.6h11v2h-11zM474.2 232.6h11v2h-11zM318.3 234.5h74v2h-74zM319.3 236.5h1v2h-1zM389.3 236.5h2v2h-2zM369.3 240.4h1v2h-1zM369.3 242.3h1v2h-1zM370.3 244.3h1v2h-1zM372.3 246.2h1v2h-1zM374.3 248.2h1v2h-1zM376.3 250.1h1v2h-1zM378.3 252.1h1v2h-1zM380.3 254h1v2h-1z"/>
<path fill="#72ff8d" d="M386.3 220.9h4v2h-4zM386.3 222.9h6v2h-6zM386.3 224.8h6v2h-6zM451.2 224.8h3v2h-3zM386.3 226.8h4v2h-4zM460.2 226.8h4v2h-4zM386.3 228.7h3v2h-3zM469.2 228.7h5v2h-5zM386.3 230.6h3v2h-3zM472.2 230.6h9v2h-9zM386.3 232.6h3v2h-3zM386.3 234.5h3v2h-3zM388.3 236.5h1v2h-1z"/>
<path fill="#8dff72" d="M380.3 217h1v2h-1zM380.3 219h5v2h-5zM380.3 220.9h6v2h-6zM380.3 222.9h6v2h-6zM437.2 222.9h2v2h-2zM380.3 224.8h6v2h-6zM448.2 224.8h3v2h-3zM380.3 226.8h6v2h-6zM456.2 226.8h4v2h-4zM380.3 228.7h6v2h-6zM463.2 228.7h6v2h-6zM380.3 230.6h6v2h-6zM445.2 230.6h27v2h-27zM380.3 232.6h6v2h-6zM380.3 234.5h6v2h-6zM380.3 236.5h6v2h-6zM380.3 238.4h1v2h-1zM327.3 296.8h2v2h-2zM379.3 298.8h2v2h-2zM328.3 302.7h2v2h-2zM381.3 306.6h2v2h-2zM336.3 310.5h2v2h-2z"/>
<path fill="#a7ff58" d="M308.3 199.5h6v2h-6zM308.3 201.4h6v2h-6zM308.3 203.4h6v2h-6zM308.3 205.3h6v2h-6zM374.3 215.1h2v2h-2zM374.3 217h6v2h-6zM374.3 219h6v2h-6zM374.3 220.9h6v2h-6zM374.3 222.9h6v2h-6zM434.2 222.9h3v2h-3zM374.3 224.8h6v2h-6zM444.2 224.8h4v2h-4zM374.3 226.8h6v2h-6zM452.2 226.8h4v2h-4zM374.3 228.7h6v2h-6zM429.2 228.7h34v2h-34zM374.3 230.6h6v2h-6zM374.3 232.6h6v2h-6zM374.3 234.5h6v2h-6zM374.3 236.5h6v2h-6zM374.3 238.4h6v2h-6zM321.3 242.3h1v2h-1zM321.3 244.3h1v2h-1zM321.3 246.2h1v2h-1zM320.3 248.2h2v2h-2zM320.3 250.1h2v2h-2zM320.3 252.1h2v2h-2zM320.3 254h2v2h-2zM320.3 256h2v2h-2zM320.3 257.9h2v2h-2zM320.3 259.8h2v2h-2zM320.3 261.8h2v2h-2zM320.3 263.7h2v2h-2zM320.3 265.7h2v2h-2zM320.3 267.6h2v2h-2zM320.3 269.6h2v2h-2zM320.3 271.5h2v2h-2zM320.3 273.5h2v2h-2zM320.3 275.4h2v2h-2zM320.3 277.4h2v2h-2zM320.3 279.3h2v2h-2zM320.3 281.3h2v2h-2zM320.3 283.2h2v2h-2zM320.3 285.2h2v2h-2zM320.3 287.1h61v2h-61zM320.3 289h61v2h-61zM320.3 291h2v2h-2zM320.3 292.9h2v2h-2zM320.3 294.9h2v2h-2zM320.3 296.8h2v2h-2zM320.3 298.8h2v2h-2zM320.3 300.7h2v2h-2zM320.3 302.7h2v2h-2zM320.3 304.6h2v2h-2zM320.3 306.6h2v2h-2zM320.3 308.5h2v2h-2zM320.3 310.5h2v2h-2zM320.3 312.4h2v2h-2zM320.3 314.4h2v2h-2z"/>
<path fill="#c1ff3e" d="M369.3 213.1h1v2h-1zM369.3 215.1h5v2h-5zM369.3 217h5v2h-5zM369.3 219h5v2h-5zM369.3 220.9h5v2h-5zM419.2 220.9h1v2h-1zM369.3 222.9h5v2h-5zM430.2 222.9h4v2h-4zM369.3 224.8h5v2h-5zM441.2 224.8h3v2h-3zM369.3 226.8h5v2h-5zM447.2 226.8h5v2h-5zM369.3 228.7h5v2h-5zM430.2 228.7h26v2h-26zM369.3 230.6h5v2h-5zM369.3 232.6h5v2h-5zM369.3 234.5h5v2h-5zM369.3 236.5h5v2h-5zM369.3 238.4h5v2h-5zM382.3 256h1v2h-1zM382.3 257.9h1v2h-1zM382.3 259.8h1v2h-1zM382.3 261.8h1v2h-1zM382.3 263.7h1v2h-1zM382.3 265.7h1v2h-1zM382.3 267.6h1v2h-1zM382.3 269.6h1v2h-1zM382.3 271.5h1v2h-1zM382.3 273.5h1v2h-1zM382.3 275.4h2v2h-2zM382.3 277.4h2v2h-2zM382.3 279.3h2v2h-2zM382.3 281.3h2v2h-2zM380.3 283.2h4v2h-4zM378.3 285.2h6v2h-6zM377.3 287.1h3v2h-3zM382.3 287.1h2v2h-2zM382.3 289h2v2h-2zM382.3 291h2v2h-2zM382.3 292.9h2v2h-2zM382.3 294.9h2v2h-2zM382.3 296.8h2v2h-2zM382.3 298.8h2v2h-2zM382.3 300.7h2v2h-2zM382.3 302.7h2v2h-2zM382.3 304.6h2v2h-2zM383.3 306.6h1v2h-1zM382.3 308.5h2v2h-2zM382.3 310.5h2v2h-2zM382.3 312.4h2v2h-2zM382.3 314.4h2v2h-2z"/>
<path fill="#dbff24" d="M312.3 207.3h1v2h-1zM314.3 209.2h67v2h-67zM314.3 211.2h71v2h-71zM314.3 213.1h55v2h-55zM386.3 213.1h2v2h-2zM314.3 215.1h55v2h-55zM389.3 215.1h5v2h-5zM314.3 217h55v2h-55zM395.3 217h5v2h-5zM314.3 219h55v2h-55zM401.2 219h7v2h-7zM312.3 220.9h57v2h-57zM409.2 220.9h10v2h-10zM311.3 222.9h58v2h-58zM421.2 222.9h9v2h-9zM313.3 224.8h56v2h-56zM436.2 224.8h5v2h-5zM314.3 226.8h55v2h-55zM413.2 226.8h34v2h-34zM316.3 228.7h53v2h-53zM317.3 230.6h52v2h-52zM318.3 232.6h51v2h-51zM319.3 234.5h50v2h-50zM364.3 236.5h5v2h-5zM364.3 238.4h5v2h-5zM364.3 240.4h5v2h-5zM364.3 242.3h5v2h-5zM369.3 244.3h1v2h-1zM371.3 246.2h1v2h-1zM373.3 248.2h1v2h-1zM375.3 250.1h1v2h-1zM377.3 252.1h1v2h-1zM379.3 254h1v2h-1zM380.3 279.3h1v2h-1zM378.3 281.3h3v2h-3zM376.3 283.2h4v2h-4zM374.3 285.2h4v2h-4zM373.3 287.1h4v2h-4z"/>
<path fill="#f5ff0a" d="M370.3 199.5h2v2h-2zM313.3 207.3h63v2h-63zM377.3 209.2h1v2h-1zM362.3 211.2h2v2h-2zM381.3 211.2h1v2h-1zM362.3 213.1h2v2h-2zM385.3 213.1h1v2h-1zM362.3 215.1h2v2h-2zM388.3 215.1h1v2h-1zM362.3 217h2v2h-2zM394.3 217h1v2h-1zM358.3 219h6v2h-6zM400.2 219h1v2h-1zM313.3 220.9h51v2h-51zM408.2 220.9h1v2h-1zM312.3 222.9h52v2h-52zM420.2 222.9h1v2h-1zM358.3 224.8h6v2h-6zM428.2 224.8h8v2h-8zM315.3 226.8h49v2h-49zM418.2 226.8h22v2h-22zM360.3 228.7h4v2h-4zM362.3 230.6h2v2h-2zM362.3 232.6h2v2h-2zM362.3 234.5h2v2h-2zM362.3 236.5h2v2h-2zM362.3 238.4h2v2h-2zM362.3 240.4h2v2h-2zM362.3 242.3h2v2h-2zM370.3 246.2h1v2h-1zM372.3 248.2h1v2h-1zM374.3 250.1h1v2h-1zM376.3 252.1h1v2h-1zM378.3 254h1v2h-1zM380.3 256h1v2h-1zM326.3 275.4h2v2h-2zM325.3 277.4h56v2h-56zM325.3 279.3h55v2h-55zM325.3 281.3h53v2h-53zM325.3 283.2h51v2h-51zM325.3 285.2h49v2h-49zM325.3 287.1h48v2h-48z"/>
<path fill="#ffef00" d="M368.3 199.5h2v2h-2zM370.3 201.4h2v2h-2zM356.3 215.1h5v2h-5zM356.3 217h6v2h-6zM356.3 219h2v2h-2zM356.3 220.9h2v2h-2zM356.3 222.9h2v2h-2zM415.2 222.9h5v2h-5zM355.3 224.8h3v2h-3zM404.2 224.8h24v2h-24zM355.3 226.8h4v2h-4zM355.3 228.7h5v2h-5zM356.3 230.6h6v2h-6zM357.3 232.6h5v2h-5zM358.3 234.5h4v2h-4zM361.3 236.5h1v2h-1zM325.3 257.9h2v2h-2zM325.3 259.8h2v2h-2zM325.3 261.8h3v2h-3zM325.3 263.7h3v2h-3zM325.3 265.7h4v2h-4zM325.3 267.6h5v2h-5zM325.3 269.6h6v2h-6zM325.3 271.5h7v2h-7zM325.3 273.5h56v2h-56zM325.3 275.4h1v2h-1zM328.3 275.4h53v2h-53zM330.3 277.4h49v2h-49zM333.3 279.3h44v2h-44zM336.3 281.3h39v2h-39zM345.3 283.2h27v2h-27zM363.3 285.2h7v2h-7z"/>
<path fill="#ffd500" d="M365.3 199.5h3v2h-3zM368.3 201.4h2v2h-2zM371.3 203.4h1v2h-1zM349.3 213.1h10v2h-10zM348.3 215.1h8v2h-8zM361.3 215.1h1v2h-1zM349.3 217h7v2h-7zM355.3 219h1v2h-1zM355.3 220.9h1v2h-1zM390.3 220.9h18v2h-18zM355.3 222.9h1v2h-1zM394.3 222.9h21v2h-21zM354.3 224.8h1v2h-1zM353.3 226.8h2v2h-2zM353.3 228.7h2v2h-2zM353.3 230.6h3v2h-3zM353.3 232.6h4v2h-4zM354.3 234.5h4v2h-4zM355.3 236.5h6v2h-6zM357.3 238.4h5v2h-5zM361.3 240.4h1v2h-1zM325.3 248.2h1v2h-1zM325.3 250.1h3v2h-3zM325.3 252.1h4v2h-4zM325.3 254h5v2h-5zM325.3 256h55v2h-55zM327.3 257.9h54v2h-54zM327.3 259.8h54v2h-54zM328.3 261.8h53v2h-53zM328.3 263.7h53v2h-53zM329.3 265.7h52v2h-52zM330.3 267.6h51v2h-51zM331.3 269.6h50v2h-50zM332.3 271.5h49v2h-49zM334.3 273.5h46v2h-46zM337.3 275.4h41v2h-41zM342.3 277.4h34v2h-34zM360.3 279.3h12v2h-12z"/>
<path fill="#ffba00" d="M314.3 199.5h51v2h-51zM314.3 201.4h54v2h-54zM314.3 203.4h57v2h-57zM314.3 207.3h61v2h-61zM376.3 209.2h1v2h-1zM346.3 211.2h11v2h-11zM380.3 211.2h1v2h-1zM345.3 213.1h4v2h-4zM359.3 213.1h3v2h-3zM384.3 213.1h1v2h-1zM346.3 215.1h2v2h-2zM387.3 215.1h1v2h-1zM346.3 217h3v2h-3zM352.3 217h3v2h-3zM381.3 217h13v2h-13zM347.3 219h4v2h-4zM385.3 219h15v2h-15zM314.3 220.9h35v2h-35zM391.3 220.9h16v2h-16zM313.3 222.9h42v2h-42zM401.2 222.9h7v2h-7zM314.3 224.8h40v2h-40zM316.3 226.8h37v2h-37zM317.3 228.7h36v2h-36zM318.3 230.6h35v2h-35zM319.3 232.6h34v2h-34zM352.3 234.5h2v2h-2zM352.3 236.5h3v2h-3zM320.3 238.4h37v2h-37zM320.3 240.4h41v2h-41zM356.3 242.3h6v2h-6zM325.3 244.3h44v2h-44zM325.3 246.2h45v2h-45zM326.3 248.2h46v2h-46zM328.3 250.1h46v2h-46zM329.3 252.1h47v2h-47zM330.3 254h48v2h-48zM330.3 256h49v2h-49zM381.3 256h1v2h-1zM331.3 257.9h49v2h-49zM381.3 257.9h1v2h-1zM331.3 259.8h49v2h-49zM381.3 259.8h1v2h-1zM332.3 261.8h48v2h-48zM381.3 261.8h1v2h-1zM332.3 263.7h48v2h-48zM381.3 263.7h1v2h-1zM333.3 265.7h47v2h-47zM381.3 265.7h1v2h-1zM334.3 267.6h46v2h-46zM381.3 267.6h1v2h-1zM336.3 269.6h43v2h-43zM381.3 269.6h1v2h-1zM338.3 271.5h40v2h-40zM381.3 271.5h1v2h-1zM342.3 273.5h34v2h-34zM381.3 273.5h1v2h-1zM359.3 275.4h15v2h-15zM381.3 275.4h1v2h-1zM369.3 277.4h1v2h-1zM381.3 277.4h1v2h-1zM381.3 279.3h1v2h-1zM381.3 281.3h1v2h-1zM381.3 283.2h1v2h-1zM381.3 285.2h1v2h-1zM381.3 287.1h1v2h-1zM381.3 289h1v2h-1zM381.3 291h1v2h-1z"/>
<path fill="#ffa000" d="M321.3 199.5h41v2h-41zM318.3 201.4h48v2h-48zM316.3 203.4h53v2h-53zM314.3 205.3h58v2h-58zM315.3 207.3h59v2h-59zM315.3 209.2h41v2h-41zM315.3 211.2h31v2h-31zM357.3 211.2h5v2h-5zM379.3 211.2h1v2h-1zM315.3 213.1h30v2h-30zM370.3 213.1h14v2h-14zM315.3 215.1h31v2h-31zM376.3 215.1h11v2h-11zM315.3 217h31v2h-31zM383.3 217h10v2h-10zM315.3 219h32v2h-32zM351.3 219h4v2h-4zM388.3 219h10v2h-10zM315.3 220.9h33v2h-33zM349.3 220.9h6v2h-6zM393.3 220.9h8v2h-8zM315.3 222.9h39v2h-39zM315.3 224.8h38v2h-38zM317.3 226.8h2v2h-2zM318.3 228.7h34v2h-34zM319.3 230.6h32v2h-32zM320.3 232.6h31v2h-31zM320.3 234.5h32v2h-32zM320.3 236.5h32v2h-32zM322.3 238.4h30v2h-30zM322.3 240.4h31v2h-31zM324.3 242.3h32v2h-32zM327.3 244.3h33v2h-33zM329.3 246.2h35v2h-35zM331.3 248.2h37v2h-37zM333.3 250.1h38v2h-38zM333.3 252.1h40v2h-40zM334.3 254h41v2h-41zM335.3 256h41v2h-41zM335.3 257.9h42v2h-42zM336.3 259.8h42v2h-42zM336.3 261.8h42v2h-42zM337.3 263.7h41v2h-41zM338.3 265.7h39v2h-39zM340.3 267.6h37v2h-37zM343.3 269.6h33v2h-33zM358.3 271.5h16v2h-16zM366.3 273.5h4v2h-4z"/>
<path fill="#ff8600" d="M324.3 199.5h33v2h-33zM324.3 201.4h39v2h-39zM322.3 203.4h44v2h-44zM320.3 205.3h49v2h-49zM318.3 207.3h55v2h-55zM317.3 209.2h25v2h-25zM356.3 209.2h20v2h-20zM316.3 211.2h26v2h-26zM365.3 211.2h14v2h-14zM316.3 213.1h26v2h-26zM372.3 213.1h10v2h-10zM316.3 215.1h26v2h-26zM382.3 215.1h4v2h-4zM316.3 217h27v2h-27zM317.3 219h27v2h-27zM317.3 220.9h27v2h-27zM351.3 220.9h3v2h-3zM318.3 222.9h27v2h-27zM349.3 222.9h4v2h-4zM318.3 224.8h28v2h-28zM347.3 224.8h5v2h-5zM319.3 226.8h33v2h-33zM320.3 228.7h31v2h-31zM321.3 230.6h29v2h-29zM322.3 232.6h28v2h-28zM323.3 234.5h27v2h-27zM324.3 236.5h26v2h-26zM326.3 238.4h25v2h-25zM329.3 240.4h22v2h-22zM322.3 242.3h1v2h-1zM333.3 242.3h18v2h-18zM324.3 244.3h1v2h-1zM336.3 244.3h15v2h-15zM324.3 246.2h1v2h-1zM336.3 246.2h16v2h-16zM324.3 248.2h1v2h-1zM336.3 248.2h20v2h-20zM324.3 250.1h1v2h-1zM336.3 250.1h24v2h-24zM324.3 252.1h1v2h-1zM337.3 252.1h27v2h-27zM324.3 254h1v2h-1zM340.3 254h29v2h-29zM341.3 256h30v2h-30zM341.3 257.9h31v2h-31zM341.3 259.8h32v2h-32zM324.3 261.8h1v2h-1zM342.3 261.8h31v2h-31zM324.3 263.7h1v2h-1zM344.3 263.7h29v2h-29zM324.3 265.7h1v2h-1zM350.3 265.7h23v2h-23zM324.3 267.6h1v2h-1zM362.3 267.6h9v2h-9zM324.3 269.6h1v2h-1zM324.3 271.5h1v2h-1zM324.3 273.5h1v2h-1zM324.3 275.4h1v2h-1zM324.3 277.4h1v2h-1zM324.3 279.3h1v2h-1zM324.3 281.3h1v2h-1zM324.3 283.2h1v2h-1zM324.3 285.2h1v2h-1zM324.3 287.1h1v2h-1zM324.3 289h1v2h-1zM324.3 291h1v2h-1zM324.3 292.9h1v2h-1zM324.3 294.9h1v2h-1zM324.3 296.8h1v2h-1zM324.3 298.8h1v2h-1zM324.3 300.7h1v2h-1zM324.3 302.7h1v2h-1zM324.3 304.6h1v2h-1zM324.3 306.6h1v2h-1zM324.3 308.5h1v2h-1zM324.3 310.5h1v2h-1zM324.3 312.4h1v2h-1zM324.3 314.4h1v2h-1z"/>
<path fill="#ff6c00" d="M326.3 199.5h24v2h-24zM326.3 201.4h29v2h-29zM326.3 203.4h35v2h-35zM326.3 205.3h17v2h-17zM348.3 205.3h17v2h-17zM326.3 207.3h12v2h-12zM356.3 207.3h12v2h-12zM324.3 209.2h12v2h-12zM363.3 209.2h7v2h-7zM322.3 211.2h15v2h-15zM321.3 213.1h16v2h-16zM321.3 215.1h17v2h-17zM321.3 217h18v2h-18zM321.3 219h18v2h-18zM321.3 220.9h19v2h-19zM322.3 222.9h19v2h-19zM323.3 224.8h18v2h-18zM350.3 224.8h1v2h-1zM323.3 226.8h19v2h-19zM348.3 226.8h2v2h-2zM324.3 228.7h26v2h-26zM326.3 230.6h23v2h-23zM327.3 232.6h22v2h-22zM332.3 234.5h17v2h-17zM337.3 236.5h12v2h-12zM337.3 238.4h12v2h-12zM338.3 240.4h11v2h-11zM323.3 242.3h1v2h-1zM338.3 242.3h11v2h-11zM338.3 244.3h11v2h-11zM338.3 246.2h11v2h-11zM337.3 248.2h5v2h-5zM343.3 248.2h7v2h-7zM338.3 250.1h1v2h-1zM345.3 250.1h6v2h-6zM346.3 252.1h6v2h-6zM347.3 254h6v2h-6zM324.3 256h1v2h-1zM348.3 256h6v2h-6zM324.3 257.9h1v2h-1zM349.3 257.9h5v2h-5zM324.3 259.8h1v2h-1z"/>
<path fill="#ff5200" d="M329.3 199.5h7v2h-7zM331.3 201.4h5v2h-5zM329.3 215.1h4v2h-4zM329.3 217h6v2h-6zM330.3 219h6v2h-6zM331.3 220.9h5v2h-5zM332.3 222.9h5v2h-5zM333.3 224.8h5v2h-5zM334.3 226.8h5v2h-5zM335.3 228.7h5v2h-5zM336.3 230.6h6v2h-6zM344.3 230.6h4v2h-4zM337.3 232.6h11v2h-11zM338.3 234.5h10v2h-10zM339.3 236.5h9v2h-9zM339.3 238.4h9v2h-9zM339.3 240.4h9v2h-9zM340.3 242.3h8v2h-8zM322.3 244.3h1v2h-1zM339.3 244.3h9v2h-9zM339.3 246.2h2v2h-2zM344.3 246.2h4v2h-4zM346.3 248.2h3v2h-3zM347.3 250.1h3v2h-3zM348.3 252.1h3v2h-3zM349.3 254h3v2h-3zM350.3 256h2v2h-2z"/>
<path fill="#ff3800" d="M332.3 219h1v2h-1zM333.3 220.9h1v2h-1zM334.3 222.9h1v2h-1zM339.3 232.6h2v2h-2zM344.3 232.6h3v2h-3zM339.3 234.5h8v2h-8zM340.3 236.5h7v2h-7zM340.3 238.4h7v2h-7zM340.3 240.4h7v2h-7zM341.3 242.3h6v2h-6zM323.3 244.3h1v2h-1zM343.3 244.3h3v2h-3zM322.3 246.2h1v2h-1zM322.3 248.2h1v2h-1zM322.3 250.1h1v2h-1z"/>
<path fill="#ff1d00" d="M341.3 236.5h5v2h-5zM341.3 238.4h5v2h-5zM342.3 240.4h4v2h-4zM343.3 242.3h2v2h-2zM323.3 246.2h1v2h-1zM323.3 248.2h1v2h-1zM322.3 252.1h1v2h-1zM322.3 254h1v2h-1zM322.3 256h1v2h-1zM322.3 257.9h1v2h-1zM322.3 259.8h1v2h-1zM322.3 261.8h1v2h-1zM322.3 263.7h1v2h-1zM322.3 265.7h1v2h-1zM322.3 267.6h1v2h-1zM322.3 269.6h1v2h-1zM322.3 271.5h1v2h-1zM322.3 273.5h1v2h-1zM322.3 275.4h1v2h-1zM322.3 277.4h1v2h-1zM322.3 279.3h1v2h-1zM322.3 281.3h1v2h-1zM322.3 283.2h1v2h-1zM322.3 285.2h1v2h-1zM322.3 287.1h1v2h-1zM322.3 289h1v2h-1zM322.3 291h1v2h-1zM322.3 292.9h1v2h-1zM322.3 294.9h1v2h-1zM322.3 296.8h1v2h-1zM322.3 298.8h1v2h-1zM322.3 300.7h1v2h-1zM322.3 302.7h1v2h-1zM322.3 304.6h1v2h-1zM322.3 306.6h1v2h-1zM322.3 308.5h1v2h-1zM322.3 310.5h1v2h-1zM322.3 312.4h1v2h-1zM322.3 314.4h1v2h-1z"/>
<path fill="#ff0300" d="M323.3 250.1h1v2h-1zM323.3 252.1h1v2h-1zM323.3 254h1v2h-1zM323.3 256h1v2h-1zM323.3 257.9h1v2h-1zM323.3 259.8h1v2h-1zM323.3 261.8h1v2h-1zM323.3 263.7h1v2h-1zM323.3 265.7h1v2h-1zM323.3 267.6h1v2h-1zM323.3 269.6h1v2h-1zM323.3 271.5h1v2h-1zM323.3 273.5h1v2h-1zM323.3 275.4h1v2h-1zM323.3 277.4h1v2h-1zM323.3 279.3h1v2h-1zM323.3 281.3h1v2h-1zM323.3 283.2h1v2h-1zM323.3 285.2h1v2h-1zM323.3 287.1h1v2h-1zM323.3 289h1v2h-1zM323.3 291h1v2h-1zM323.3 292.9h1v2h-1zM323.3 294.9h1v2h-1zM323.3 296.8h1v2h-1zM323.3 298.8h1v2h-1zM323.3 300.7h1v2h-1zM323.3 302.7h1v2h-1zM323.3 304.6h1v2h-1zM323.3 306.6h1v2h-1zM323.3 308.5h1v2h-1zM323.3 310.5h1v2h-1zM323.3 312.4h1v2h-1zM323.3 314.4h1v2h-1z"/>
</g></g>
<g filter="url(#bl2)" clip-path="url(#cpd)"><rect x="322.75" y="247" width="1.5" height="69.3" fill="#f51400"/><rect x="382.5" y="256" width="1" height="60.3" fill="#ffd21e"/></g>
<g filter="url(#bl2)" clip-path="url(#cpd)"><rect x="321" y="243" width="1" height="73.3" fill="#fff" opacity="0.55"/><rect x="383.2" y="256" width="1" height="60.3" fill="#fff" opacity="0.55"/></g>
<rect x="308.3" y="199.5" width="176.9" height="116.8" fill="none" stroke="#000" stroke-width="0.9"/>
<text class="tk" x="305.7" y="202.5" text-anchor="end">60</text>
<text class="tk" x="305.7" y="222.3" text-anchor="end">50</text>
<path d="M308.3 219.3h1.8" stroke="#000" stroke-width="0.8"/>
<text class="tk" x="305.7" y="242.09" text-anchor="end">40</text>
<path d="M308.3 239.09h1.8" stroke="#000" stroke-width="0.8"/>
<text class="tk" x="305.7" y="261.89" text-anchor="end">30</text>
<path d="M308.3 258.89h1.8" stroke="#000" stroke-width="0.8"/>
<text class="tk" x="305.7" y="281.69" text-anchor="end">20</text>
<path d="M308.3 278.69h1.8" stroke="#000" stroke-width="0.8"/>
<text class="tk" x="305.7" y="301.48" text-anchor="end">10</text>
<path d="M308.3 298.48h1.8" stroke="#000" stroke-width="0.8"/>
<text class="tk" x="305.7" y="319.3" text-anchor="end">1</text>
<text class="tk" x="308.3" y="327.9" text-anchor="middle">-1</text>
<text class="tk" x="356.55" y="327.9" text-anchor="middle">2</text>
<path d="M356.55 199.5v1.6" stroke="#000" stroke-width="0.8"/>
<text class="tk" x="404.79" y="327.9" text-anchor="middle">5</text>
<path d="M404.79 199.5v1.6" stroke="#000" stroke-width="0.8"/>
<text class="tk" x="453.04" y="327.9" text-anchor="middle">8</text>
<path d="M453.04 199.5v1.6" stroke="#000" stroke-width="0.8"/>
<text class="tk" x="485.2" y="327.9" text-anchor="middle">10</text>
<text class="ax" x="396.75" y="337.9" text-anchor="middle" textLength="35.8" lengthAdjust="spacingAndGlyphs">p(GPa)</text>
<text class="ax" transform="translate(291.5 257.9) rotate(-90)" text-anchor="middle" textLength="40.5" lengthAdjust="spacingAndGlyphs">time(ps)</text>
<rect x="493.2" y="199.5" width="6" height="116.8" fill="url(#jet)"/>
<text class="tk" style="font-size:8.3px" x="501.9" y="202.8">0</text>
<text class="tk" style="font-size:8.3px" x="501.9" y="222.27">-1</text>
<text class="tk" style="font-size:8.3px" x="501.9" y="241.73">-2</text>
<text class="tk" style="font-size:8.3px" x="501.9" y="261.2">-3</text>
<text class="tk" style="font-size:8.3px" x="501.9" y="280.67">-4</text>
<text class="tk" style="font-size:8.3px" x="501.9" y="300.13">-5</text>
<text class="tk" style="font-size:8.3px" x="501.9" y="319.6">-6</text>
<text class="cbt" x="496.2" y="194.2" text-anchor="middle" textLength="42" lengthAdjust="spacingAndGlyphs">log<tspan font-size="5.2px" dy="1.2">10</tspan><tspan dy="-1.2">(P(p))</tspan></text>
<text class="pl" style="font-family:'Liberation Serif', 'Times New Roman', serif" x="277.2" y="187.8">(d)</text>
</g>
<g id="panel-e">
<rect x="56" y="371.7" width="173.8" height="114.6" fill="#00008f"/>
<g clip-path="url(#cpe)"><g filter="url(#bl)" shape-rendering="crispEdges">
<path fill="#00d4ff" d="M125.9 423.3h4v2h-4zM120.9 425.2h1v2h-1zM123.9 425.2h2v2h-2zM118.9 427.1h1v2h-1zM133.9 427.1h2v2h-2zM113.9 430.9h2v2h-2zM107.9 438.6h2v2h-2zM99.9 442.4h1v2h-1zM109.9 442.4h2v2h-2zM94 446.2h1v2h-1zM89 448.1h1v2h-1zM92 448.1h1v2h-1zM88 450h2v2h-2z"/>
<path fill="#00efff" d="M121.9 371.7h6v2h-6zM136.9 371.7h3v2h-3zM145.9 371.7h3v2h-3zM126.9 373.6h7v2h-7zM139.9 373.6h3v2h-3zM145.9 373.6h6v2h-6zM157.9 373.6h3v2h-3zM126.9 375.5h4v2h-4zM133.9 375.5h1v2h-1zM136.9 375.5h9v2h-9zM151.9 375.5h3v2h-3zM163.9 375.5h1v2h-1zM127.9 377.4h1v2h-1zM130.9 377.4h12v2h-12zM154.9 377.4h6v2h-6zM121.9 379.3h15v2h-15zM139.9 379.3h15v2h-15zM166.9 379.3h2v2h-2zM59 381.2h3v2h-3zM124.9 381.2h9v2h-9zM136.9 381.2h3v2h-3zM145.9 381.2h3v2h-3zM119.9 383.2h9v2h-9zM130.9 383.2h9v2h-9zM142.9 383.2h15v2h-15zM160.9 383.2h3v2h-3zM169.9 383.2h3v2h-3zM127.9 385.1h3v2h-3zM133.9 385.1h12v2h-12zM148.9 385.1h1v2h-1zM151.9 385.1h3v2h-3zM121.9 387h12v2h-12zM142.9 387h3v2h-3zM154.9 387h3v2h-3zM163.9 387h6v2h-6zM124.9 388.9h6v2h-6zM133.9 388.9h9v2h-9zM145.9 388.9h6v2h-6zM154.9 388.9h3v2h-3zM163.9 388.9h3v2h-3zM169.9 388.9h3v2h-3zM175.9 388.9h3v2h-3zM57 390.8h2v2h-2zM128.9 390.8h2v2h-2zM133.9 390.8h6v2h-6zM142.9 390.8h5v2h-5zM160.9 390.8h6v2h-6zM178.9 390.8h2v2h-2zM57 392.7h2v2h-2zM125.9 392.7h5v2h-5zM139.9 392.7h9v2h-9zM151.9 392.7h3v2h-3zM124.9 394.6h6v2h-6zM136.9 394.6h3v2h-3zM148.9 394.6h9v2h-9zM160.9 394.6h3v2h-3zM169.9 394.6h6v2h-6zM184.9 394.6h1v2h-1zM59 396.5h3v2h-3zM119.9 396.5h17v2h-17zM139.9 396.5h3v2h-3zM148.9 396.5h2v2h-2zM151.9 396.5h9v2h-9zM169.9 396.5h3v2h-3zM184.9 396.5h3v2h-3zM59 398.4h3v2h-3zM125.9 398.4h4v2h-4zM133.9 398.4h3v2h-3zM163.9 398.4h1v2h-1zM169.9 398.4h2v2h-2zM172.9 398.4h1v2h-1zM59 400.4h3v2h-3zM127.9 400.4h9v2h-9zM139.9 400.4h9v2h-9zM154.9 400.4h9v2h-9zM166.9 400.4h3v2h-3zM119.9 402.3h14v2h-14zM136.9 402.3h3v2h-3zM142.9 402.3h6v2h-6zM151.9 402.3h3v2h-3zM121.9 404.2h9v2h-9zM133.9 404.2h6v2h-6zM148.9 404.2h3v2h-3zM154.9 404.2h6v2h-6zM172.9 404.2h8v2h-8zM127.9 406.1h9v2h-9zM139.9 406.1h3v2h-3zM148.9 406.1h3v2h-3zM154.9 406.1h3v2h-3zM160.9 406.1h6v2h-6zM119.9 408h10v2h-10zM136.9 408h3v2h-3zM154.9 408h3v2h-3zM166.9 408h2v2h-2zM57 409.9h2v2h-2zM124.9 409.9h9v2h-9zM142.9 409.9h6v2h-6zM151.9 409.9h3v2h-3zM157.9 409.9h3v2h-3zM119.9 411.8h17v2h-17zM151.9 411.8h3v2h-3zM128.9 413.7h11v2h-11zM145.9 413.7h3v2h-3zM127.9 415.6h2v2h-2zM133.9 415.6h6v2h-6zM142.9 415.6h2v2h-2zM121.9 417.5h9v2h-9zM136.9 417.5h2v2h-2zM126.9 419.4h2v2h-2zM130.9 419.4h2v2h-2zM124.9 421.4h2v2h-2zM122.9 423.3h1v2h-1zM57 425.2h2v2h-2zM116.9 427.1h1v2h-1zM57 429h2v2h-2zM114.9 429h1v2h-1zM111.9 430.9h1v2h-1zM59 432.8h3v2h-3zM108.9 432.8h1v2h-1zM103.9 436.6h1v2h-1zM57 440.5h2v2h-2zM96 442.4h1v2h-1zM59 457.6h3v2h-3zM59 465.3h3v2h-3zM57 467.2h2v2h-2zM59 469.1h3v2h-3zM57 472.9h2v2h-2zM57 474.8h5v2h-5zM57 476.8h5v2h-5zM59 482.5h3v2h-3z"/>
<path fill="#0afff5" d="M120.9 371.7h1v2h-1zM121.9 373.6h5v2h-5zM121.9 375.5h5v2h-5zM121.9 377.4h6v2h-6zM124.9 379.3h3v2h-3zM121.9 381.2h3v2h-3zM121.9 383.2h6v2h-6zM121.9 385.1h6v2h-6zM124.9 387h3v2h-3zM121.9 388.9h3v2h-3zM121.9 390.8h7v2h-7zM122.9 392.7h3v2h-3zM127.9 392.7h1v2h-1zM122.9 394.6h2v2h-2zM127.9 394.6h1v2h-1zM122.9 396.5h6v2h-6zM122.9 398.4h3v2h-3zM127.9 398.4h1v2h-1zM122.9 400.4h5v2h-5zM121.9 402.3h6v2h-6zM124.9 404.2h2v2h-2zM127.9 404.2h1v2h-1zM121.9 406.1h6v2h-6zM121.9 408h3v2h-3zM127.9 408h1v2h-1zM121.9 409.9h3v2h-3zM121.9 411.8h7v2h-7zM121.9 413.7h7v2h-7zM120.9 415.6h7v2h-7zM120.9 417.5h1v2h-1zM119.9 419.4h7v2h-7zM117.9 421.4h7v2h-7zM115.9 423.3h7v2h-7zM113.9 425.2h6v2h-6zM110.9 427.1h6v2h-6zM108.9 429h6v2h-6zM106.9 430.9h5v2h-5zM104.9 432.8h4v2h-4zM102.9 434.7h3v2h-3zM100.9 436.6h3v2h-3zM99 438.6h1v2h-1zM97 440.5h2v2h-2zM95 442.4h1v2h-1zM92 444.3h2v2h-2zM90 446.2h1v2h-1zM85 450h1v2h-1zM80 453.8h1v2h-1z"/>
<path fill="#24ffdb" d="M115.9 371.7h5v2h-5zM115.9 373.6h6v2h-6zM115.9 375.5h6v2h-6zM115.9 377.4h2v2h-2zM118.9 377.4h3v2h-3zM115.9 379.3h6v2h-6zM115.9 381.2h6v2h-6zM115.9 383.2h3v2h-3zM115.9 385.1h6v2h-6zM115.9 387h6v2h-6zM115.9 388.9h6v2h-6zM115.9 390.8h6v2h-6zM115.9 392.7h7v2h-7zM118.9 394.6h4v2h-4zM115.9 396.5h3v2h-3zM121.9 396.5h1v2h-1zM115.9 398.4h7v2h-7zM115.9 400.4h7v2h-7zM115.9 402.3h3v2h-3zM115.9 404.2h6v2h-6zM115.9 406.1h6v2h-6zM115.9 408h3v2h-3zM115.9 409.9h6v2h-6zM115.9 411.8h3v2h-3zM114.9 413.7h1v2h-1zM118.9 413.7h3v2h-3zM113.9 415.6h7v2h-7zM113.9 417.5h7v2h-7zM112.9 419.4h7v2h-7zM110.9 421.4h7v2h-7zM108.9 423.3h7v2h-7zM107.9 425.2h6v2h-6zM105.9 427.1h5v2h-5zM104.9 429h4v2h-4zM102.9 430.9h4v2h-4zM100.9 432.8h4v2h-4zM99.9 434.7h3v2h-3zM98 436.6h3v2h-3zM97 438.6h2v2h-2zM95 440.5h2v2h-2zM93 442.4h2v2h-2zM91 444.3h1v2h-1zM89 446.2h1v2h-1zM86 448.1h2v2h-2zM84 450h1v2h-1zM82 451.9h1v2h-1z"/>
<path fill="#3effc1" d="M109.9 371.7h6v2h-6zM109.9 373.6h6v2h-6zM109.9 375.5h6v2h-6zM109.9 377.4h6v2h-6zM109.9 379.3h6v2h-6zM109.9 381.2h6v2h-6zM109.9 383.2h6v2h-6zM109.9 385.1h6v2h-6zM109.9 387h6v2h-6zM109.9 388.9h6v2h-6zM109.9 390.8h6v2h-6zM109.9 392.7h6v2h-6zM109.9 394.6h7v2h-7zM109.9 396.5h6v2h-6zM109.9 398.4h6v2h-6zM109.9 400.4h6v2h-6zM109.9 402.3h6v2h-6zM109.9 404.2h6v2h-6zM109.9 406.1h6v2h-6zM109.9 408h6v2h-6zM109.9 409.9h6v2h-6zM108.9 411.8h7v2h-7zM108.9 413.7h6v2h-6zM107.9 415.6h6v2h-6zM107.9 417.5h6v2h-6zM106.9 419.4h6v2h-6zM105.9 421.4h5v2h-5zM103.9 423.3h5v2h-5zM102.9 425.2h5v2h-5zM101.9 427.1h4v2h-4zM99.9 429h5v2h-5zM99 430.9h4v2h-4zM98 432.8h3v2h-3zM97 434.7h3v2h-3zM95 436.6h3v2h-3zM94 438.6h3v2h-3zM92 440.5h3v2h-3zM90 442.4h3v2h-3zM89 444.3h2v2h-2zM87 446.2h2v2h-2zM85 448.1h1v2h-1zM83 450h1v2h-1zM81 451.9h1v2h-1zM79 453.8h1v2h-1z"/>
<path fill="#58ffa7" d="M103.9 371.7h6v2h-6zM103.9 373.6h6v2h-6zM103.9 375.5h6v2h-6zM103.9 377.4h6v2h-6zM103.9 379.3h6v2h-6zM103.9 381.2h6v2h-6zM103.9 383.2h6v2h-6zM103.9 385.1h6v2h-6zM103.9 387h6v2h-6zM103.9 388.9h6v2h-6zM103.9 390.8h6v2h-6zM103.9 392.7h6v2h-6zM103.9 394.6h6v2h-6zM103.9 396.5h6v2h-6zM103.9 398.4h6v2h-6zM103.9 400.4h6v2h-6zM103.9 402.3h6v2h-6zM103.9 404.2h6v2h-6zM103.9 406.1h6v2h-6zM102.9 408h7v2h-7zM102.9 409.9h7v2h-7zM102.9 411.8h6v2h-6zM102.9 413.7h6v2h-6zM101.9 415.6h6v2h-6zM101.9 417.5h6v2h-6zM100.9 419.4h6v2h-6zM99.9 421.4h6v2h-6zM99 423.3h5v2h-5zM98 425.2h5v2h-5zM97 427.1h5v2h-5zM96 429h4v2h-4zM95 430.9h4v2h-4zM94 432.8h4v2h-4zM93 434.7h4v2h-4zM92 436.6h3v2h-3zM91 438.6h3v2h-3zM90 440.5h2v2h-2zM88 442.4h2v2h-2zM87 444.3h2v2h-2zM85 446.2h2v2h-2zM84 448.1h1v2h-1zM82 450h1v2h-1zM77 455.7h1v2h-1z"/>
<path fill="#72ff8d" d="M99.9 371.7h4v2h-4zM99.9 373.6h4v2h-4zM99.9 375.5h4v2h-4zM99.9 377.4h4v2h-4zM99.9 379.3h4v2h-4zM99.9 381.2h4v2h-4zM99.9 383.2h4v2h-4zM99.9 385.1h4v2h-4zM99.9 387h4v2h-4zM99.9 388.9h4v2h-4zM99.9 390.8h4v2h-4zM99.9 392.7h4v2h-4zM99.9 394.6h4v2h-4zM99.9 396.5h4v2h-4zM99.9 398.4h4v2h-4zM99.9 400.4h4v2h-4zM99.9 402.3h4v2h-4zM99 404.2h5v2h-5zM99 406.1h5v2h-5zM99 408h4v2h-4zM99 409.9h4v2h-4zM99 411.8h4v2h-4zM99 413.7h4v2h-4zM98 415.6h4v2h-4zM98 417.5h4v2h-4zM97 419.4h4v2h-4zM97 421.4h3v2h-3zM96 423.3h3v2h-3zM95 425.2h3v2h-3zM94 427.1h3v2h-3zM93 429h3v2h-3zM92 430.9h3v2h-3zM92 432.8h2v2h-2zM91 434.7h2v2h-2zM90 436.6h2v2h-2zM89 438.6h2v2h-2zM88 440.5h2v2h-2zM86 442.4h2v2h-2zM85 444.3h2v2h-2zM84 446.2h1v2h-1zM83 448.1h1v2h-1zM81 450h1v2h-1zM80 451.9h1v2h-1zM75 457.6h1v2h-1z"/>
<path fill="#8dff72" d="M97 371.7h3v2h-3zM97 373.6h3v2h-3zM97 375.5h3v2h-3zM97 377.4h3v2h-3zM97 379.3h3v2h-3zM97 381.2h3v2h-3zM96 383.2h4v2h-4zM96 385.1h4v2h-4zM96 387h4v2h-4zM96 388.9h4v2h-4zM96 390.8h4v2h-4zM96 392.7h4v2h-4zM96 394.6h4v2h-4zM96 396.5h4v2h-4zM96 398.4h4v2h-4zM96 400.4h4v2h-4zM96 402.3h4v2h-4zM96 404.2h3v2h-3zM96 406.1h3v2h-3zM96 408h3v2h-3zM96 409.9h3v2h-3zM96 411.8h3v2h-3zM96 413.7h3v2h-3zM95 415.6h3v2h-3zM95 417.5h3v2h-3zM94 419.4h3v2h-3zM94 421.4h3v2h-3zM93 423.3h3v2h-3zM92 425.2h3v2h-3zM92 427.1h2v2h-2zM91 429h2v2h-2zM90 430.9h2v2h-2zM90 432.8h2v2h-2zM89 434.7h2v2h-2zM88 436.6h2v2h-2zM87 438.6h2v2h-2zM86 440.5h2v2h-2zM85 442.4h1v2h-1zM84 444.3h1v2h-1zM83 446.2h1v2h-1zM82 448.1h1v2h-1zM79 451.9h1v2h-1zM78 453.8h1v2h-1z"/>
<path fill="#a7ff58" d="M93 371.7h4v2h-4zM93 373.6h4v2h-4zM93 375.5h4v2h-4zM93 377.4h4v2h-4zM93 379.3h4v2h-4zM93 381.2h4v2h-4zM93 383.2h3v2h-3zM93 385.1h3v2h-3zM93 387h3v2h-3zM93 388.9h3v2h-3zM93 390.8h3v2h-3zM93 392.7h3v2h-3zM93 394.6h3v2h-3zM93 396.5h3v2h-3zM93 398.4h3v2h-3zM93 400.4h3v2h-3zM93 402.3h3v2h-3zM93 404.2h3v2h-3zM93 406.1h3v2h-3zM93 408h3v2h-3zM93 409.9h3v2h-3zM93 411.8h3v2h-3zM93 413.7h3v2h-3zM92 415.6h3v2h-3zM92 417.5h3v2h-3zM92 419.4h2v2h-2zM91 421.4h3v2h-3zM91 423.3h2v2h-2zM90 425.2h2v2h-2zM89 427.1h3v2h-3zM89 429h2v2h-2zM88 430.9h2v2h-2zM88 432.8h2v2h-2zM87 434.7h2v2h-2zM87 436.6h1v2h-1zM86 438.6h1v2h-1zM85 440.5h1v2h-1zM84 442.4h1v2h-1zM83 444.3h1v2h-1zM82 446.2h1v2h-1zM81 448.1h1v2h-1zM80 450h1v2h-1z"/>
<path fill="#c1ff3e" d="M90 371.7h3v2h-3zM90 373.6h3v2h-3zM89 375.5h4v2h-4zM89 377.4h4v2h-4zM89 379.3h4v2h-4zM89 381.2h4v2h-4zM89 383.2h4v2h-4zM89 385.1h4v2h-4zM89 387h4v2h-4zM89 388.9h4v2h-4zM89 390.8h4v2h-4zM89 392.7h4v2h-4zM89 394.6h4v2h-4zM89 396.5h4v2h-4zM89 398.4h4v2h-4zM90 400.4h3v2h-3zM90 402.3h3v2h-3zM90 404.2h3v2h-3zM90 406.1h3v2h-3zM90 408h3v2h-3zM90 409.9h3v2h-3zM90 411.8h3v2h-3zM90 413.7h3v2h-3zM89 415.6h3v2h-3zM89 417.5h3v2h-3zM89 419.4h3v2h-3zM88 421.4h3v2h-3zM88 423.3h3v2h-3zM88 425.2h2v2h-2zM87 427.1h2v2h-2zM87 429h2v2h-2zM86 430.9h2v2h-2zM86 432.8h2v2h-2zM85 434.7h2v2h-2zM85 436.6h2v2h-2zM84 438.6h2v2h-2zM84 440.5h1v2h-1zM83 442.4h1v2h-1zM82 444.3h1v2h-1zM81 446.2h1v2h-1zM80 448.1h1v2h-1zM76 455.7h1v2h-1z"/>
<path fill="#dbff24" d="M86 371.7h4v2h-4zM86 373.6h4v2h-4zM86 375.5h3v2h-3zM86 377.4h3v2h-3zM86 379.3h3v2h-3zM86 381.2h3v2h-3zM86 383.2h3v2h-3zM86 385.1h3v2h-3zM86 387h3v2h-3zM86 388.9h3v2h-3zM86 390.8h3v2h-3zM86 392.7h3v2h-3zM86 394.6h3v2h-3zM86 396.5h3v2h-3zM86 398.4h3v2h-3zM86 400.4h4v2h-4zM86 402.3h4v2h-4zM86 404.2h4v2h-4zM87 406.1h3v2h-3zM87 408h3v2h-3zM87 409.9h3v2h-3zM87 411.8h3v2h-3zM87 413.7h3v2h-3zM86 415.6h3v2h-3zM86 417.5h3v2h-3zM86 419.4h3v2h-3zM86 421.4h2v2h-2zM85 423.3h3v2h-3zM85 425.2h3v2h-3zM85 427.1h2v2h-2zM84 429h3v2h-3zM84 430.9h2v2h-2zM84 432.8h2v2h-2zM83 434.7h2v2h-2zM83 436.6h2v2h-2zM83 438.6h1v2h-1zM82 440.5h2v2h-2zM81 442.4h2v2h-2zM81 444.3h1v2h-1zM80 446.2h1v2h-1zM79 450h1v2h-1zM78 451.9h1v2h-1zM77 453.8h1v2h-1z"/>
<path fill="#f5ff0a" d="M82 371.7h4v2h-4zM82 373.6h4v2h-4zM83 375.5h3v2h-3zM83 377.4h3v2h-3zM83 379.3h3v2h-3zM83 381.2h3v2h-3zM83 383.2h3v2h-3zM83 385.1h3v2h-3zM83 387h3v2h-3zM83 388.9h3v2h-3zM83 390.8h3v2h-3zM83 392.7h3v2h-3zM83 394.6h3v2h-3zM83 396.5h3v2h-3zM83 398.4h3v2h-3zM83 400.4h3v2h-3zM83 402.3h3v2h-3zM83 404.2h3v2h-3zM84 406.1h3v2h-3zM84 408h3v2h-3zM84 409.9h3v2h-3zM84 411.8h3v2h-3zM84 413.7h3v2h-3zM84 415.6h2v2h-2zM83 417.5h3v2h-3zM83 419.4h3v2h-3zM83 421.4h3v2h-3zM83 423.3h2v2h-2zM83 425.2h2v2h-2zM82 427.1h3v2h-3zM82 429h2v2h-2zM82 430.9h2v2h-2zM82 432.8h2v2h-2zM81 434.7h2v2h-2zM81 436.6h2v2h-2zM81 438.6h2v2h-2zM80 440.5h2v2h-2zM80 442.4h1v2h-1zM79 444.3h2v2h-2zM79 446.2h1v2h-1zM78 448.1h2v2h-2zM78 450h1v2h-1zM77 451.9h1v2h-1z"/>
<path fill="#ffef00" d="M79 371.7h3v2h-3zM79 373.6h3v2h-3zM80 375.5h3v2h-3zM80 377.4h3v2h-3zM80 379.3h3v2h-3zM80 381.2h3v2h-3zM80 383.2h3v2h-3zM80 385.1h3v2h-3zM80 387h3v2h-3zM80 388.9h3v2h-3zM80 390.8h3v2h-3zM80 392.7h3v2h-3zM80 394.6h3v2h-3zM80 396.5h3v2h-3zM80 398.4h3v2h-3zM81 400.4h2v2h-2zM81 402.3h2v2h-2zM81 404.2h2v2h-2zM81 406.1h3v2h-3zM81 408h3v2h-3zM81 409.9h3v2h-3zM81 411.8h3v2h-3zM81 413.7h3v2h-3zM81 415.6h3v2h-3zM81 417.5h2v2h-2zM81 419.4h2v2h-2zM81 421.4h2v2h-2zM80 423.3h3v2h-3zM80 425.2h3v2h-3zM80 427.1h2v2h-2zM80 429h2v2h-2zM80 430.9h2v2h-2zM80 432.8h2v2h-2zM79 434.7h2v2h-2zM79 436.6h2v2h-2zM79 438.6h2v2h-2zM79 440.5h1v2h-1zM78 442.4h2v2h-2zM78 444.3h1v2h-1zM78 446.2h1v2h-1zM77 448.1h1v2h-1zM77 450h1v2h-1zM69 453.8h8v2h-8zM67 455.7h9v2h-9zM65 457.6h6v2h-6zM65 459.6h6v2h-6zM65 461.5h6v2h-6z"/>
<path fill="#ffd500" d="M79 375.5h1v2h-1zM79 377.4h1v2h-1zM79 379.3h1v2h-1zM79 381.2h1v2h-1zM80 400.4h1v2h-1zM80 402.3h1v2h-1zM80 404.2h1v2h-1zM80 421.4h1v2h-1zM79 432.8h1v2h-1zM78 440.5h1v2h-1zM67 446.2h11v2h-11zM66 448.1h3v2h-3zM65 450h5v2h-5zM65 451.9h12v2h-12zM65 453.8h4v2h-4zM65 455.7h2v2h-2z"/>
<path fill="#ffba00" d="M79 383.2h1v2h-1zM79 385.1h1v2h-1zM79 387h1v2h-1zM79 388.9h1v2h-1zM80 406.1h1v2h-1zM80 408h1v2h-1zM80 415.6h1v2h-1zM80 417.5h1v2h-1zM80 419.4h1v2h-1zM79 429h1v2h-1zM79 430.9h1v2h-1zM67 436.6h1v2h-1zM66 438.6h13v2h-13zM65 440.5h4v2h-4zM65 442.4h4v2h-4zM65 444.3h13v2h-13zM65 446.2h2v2h-2zM65 448.1h1v2h-1zM69 448.1h1v2h-1zM76 450h1v2h-1zM70 455.7h1v2h-1z"/>
<path fill="#ffa000" d="M78 371.7h1v2h-1zM79 390.8h1v2h-1zM79 392.7h1v2h-1zM79 394.6h1v2h-1zM79 396.5h1v2h-1zM63 409.9h18v2h-18zM63 411.8h18v2h-18zM63 413.7h18v2h-18zM63 415.6h4v2h-4zM63 417.5h4v2h-4zM63 419.4h4v2h-4zM63 421.4h4v2h-4zM63 423.3h5v2h-5zM63 425.2h17v2h-17zM63 427.1h17v2h-17zM63 429h5v2h-5zM63 430.9h5v2h-5zM63 432.8h5v2h-5zM63 434.7h5v2h-5zM63 436.6h4v2h-4zM78 436.6h1v2h-1zM63 438.6h3v2h-3zM68 438.6h1v2h-1zM63 440.5h1v2h-1zM63 442.4h1v2h-1zM63 444.3h1v2h-1zM63 446.2h1v2h-1zM69 446.2h1v2h-1zM63 448.1h1v2h-1zM63 450h2v2h-2zM63 451.9h2v2h-2zM63 453.8h2v2h-2zM70 453.8h1v2h-1zM63 455.7h2v2h-2zM63 457.6h2v2h-2zM63 459.6h2v2h-2zM63 461.5h2v2h-2z"/>
<path fill="#ff8600" d="M78 373.6h1v2h-1zM78 375.5h1v2h-1zM78 377.4h1v2h-1zM78 379.3h1v2h-1zM79 398.4h1v2h-1zM79 400.4h1v2h-1zM79 402.3h1v2h-1zM63 404.2h1v2h-1zM63 406.1h1v2h-1zM63 408h1v2h-1zM65 409.9h2v2h-2zM65 411.8h2v2h-2zM65 413.7h2v2h-2zM67 417.5h1v2h-1zM67 419.4h1v2h-1zM67 421.4h13v2h-13zM64 423.3h1v2h-1zM79 423.3h1v2h-1zM64 425.2h1v2h-1zM64 427.1h1v2h-1zM64 429h1v2h-1zM64 430.9h1v2h-1zM64 432.8h1v2h-1zM64 434.7h1v2h-1zM68 434.7h11v2h-11zM64 436.6h1v2h-1zM68 436.6h1v2h-1zM64 438.6h1v2h-1zM64 440.5h1v2h-1zM64 442.4h1v2h-1zM77 442.4h1v2h-1zM64 444.3h1v2h-1zM69 444.3h1v2h-1zM64 446.2h1v2h-1zM64 448.1h1v2h-1zM76 448.1h1v2h-1zM70 451.9h1v2h-1zM75 453.8h1v2h-1z"/>
<path fill="#ff6c00" d="M78 381.2h1v2h-1zM78 383.2h1v2h-1zM78 385.1h1v2h-1zM78 387h1v2h-1zM63 398.4h1v2h-1zM63 400.4h1v2h-1zM63 402.3h1v2h-1zM79 404.2h1v2h-1zM65 406.1h15v2h-15zM64 408h3v2h-3zM64 409.9h1v2h-1zM64 411.8h1v2h-1zM67 411.8h1v2h-1zM64 413.7h1v2h-1zM67 413.7h1v2h-1zM64 415.6h1v2h-1zM67 415.6h1v2h-1zM64 417.5h1v2h-1zM79 417.5h1v2h-1zM64 419.4h1v2h-1zM79 419.4h1v2h-1zM64 421.4h1v2h-1zM68 430.9h11v2h-11zM68 432.8h11v2h-11zM77 440.5h1v2h-1zM69 442.4h1v2h-1zM76 446.2h1v2h-1zM70 450h1v2h-1zM74 459.6h1v2h-1zM74 461.5h1v2h-1z"/>
<path fill="#ff5200" d="M63 388.9h16v2h-16zM63 390.8h16v2h-16zM63 392.7h16v2h-16zM63 394.6h16v2h-16zM63 396.5h1v2h-1zM64 402.3h2v2h-2zM64 404.2h3v2h-3zM64 406.1h1v2h-1zM67 408h13v2h-13zM67 409.9h13v2h-13zM79 411.8h1v2h-1zM79 413.7h1v2h-1zM79 415.6h1v2h-1zM68 425.2h1v2h-1zM68 427.1h11v2h-11zM68 429h11v2h-11zM77 438.6h1v2h-1zM69 440.5h1v2h-1zM76 444.3h1v2h-1zM70 448.1h1v2h-1zM75 451.9h1v2h-1zM71 457.6h4v2h-4zM71 459.6h1v2h-1zM71 461.5h1v2h-1z"/>
<path fill="#ff3800" d="M63 371.7h15v2h-15zM63 373.6h15v2h-15zM63 375.5h15v2h-15zM63 377.4h1v2h-1zM63 379.3h1v2h-1zM63 381.2h1v2h-1zM63 383.2h1v2h-1zM63 385.1h1v2h-1zM63 387h1v2h-1zM78 396.5h1v2h-1zM64 398.4h15v2h-15zM64 400.4h3v2h-3zM66 402.3h1v2h-1zM67 404.2h1v2h-1zM67 406.1h1v2h-1zM68 417.5h1v2h-1zM68 419.4h1v2h-1zM68 421.4h1v2h-1zM68 423.3h11v2h-11zM78 425.2h1v2h-1zM77 436.6h1v2h-1zM69 438.6h1v2h-1zM70 446.2h1v2h-1zM75 450h1v2h-1zM71 455.7h4v2h-4z"/>
<path fill="#ff1d00" d="M64 371.7h13v2h-13zM64 373.6h13v2h-13zM64 375.5h13v2h-13zM64 377.4h14v2h-14zM64 379.3h14v2h-14zM64 381.2h14v2h-14zM64 383.2h14v2h-14zM64 385.1h14v2h-14zM64 387h14v2h-14zM64 388.9h14v2h-14zM64 390.8h14v2h-14zM64 392.7h14v2h-14zM64 394.6h14v2h-14zM64 396.5h14v2h-14zM65 398.4h13v2h-13zM67 400.4h12v2h-12zM67 402.3h12v2h-12zM77 404.2h2v2h-2zM68 406.1h11v2h-11zM68 408h11v2h-11zM68 409.9h11v2h-11zM68 411.8h11v2h-11zM68 413.7h11v2h-11zM68 415.6h11v2h-11zM69 417.5h10v2h-10zM69 419.4h10v2h-10zM69 421.4h10v2h-10zM69 423.3h9v2h-9zM69 425.2h9v2h-9zM69 427.1h9v2h-9zM69 429h9v2h-9zM69 430.9h9v2h-9zM69 432.8h9v2h-9zM69 434.7h9v2h-9zM69 436.6h8v2h-8zM70 438.6h7v2h-7zM70 440.5h7v2h-7zM70 442.4h7v2h-7zM70 444.3h6v2h-6zM71 446.2h5v2h-5zM71 448.1h5v2h-5zM71 450h4v2h-4zM71 451.9h4v2h-4zM71 453.8h4v2h-4zM72 455.7h1v2h-1zM72 457.6h2v2h-2zM72 459.6h2v2h-2zM72 461.5h2v2h-2z"/>
<path fill="#ff0300" d="M66 371.7h10v2h-10zM66 373.6h10v2h-10zM66 375.5h10v2h-10zM66 377.4h10v2h-10zM66 379.3h10v2h-10zM66 381.2h10v2h-10zM66 383.2h10v2h-10zM66 385.1h10v2h-10zM66 387h10v2h-10zM66 388.9h10v2h-10zM66 390.8h10v2h-10zM66 392.7h10v2h-10zM66 394.6h10v2h-10zM67 396.5h9v2h-9zM68 398.4h9v2h-9zM68 400.4h9v2h-9zM68 402.3h9v2h-9zM68 404.2h9v2h-9zM69 406.1h8v2h-8zM69 408h8v2h-8zM69 409.9h8v2h-8zM70 411.8h7v2h-7zM70 413.7h7v2h-7zM70 415.6h7v2h-7zM70 417.5h7v2h-7zM70 419.4h7v2h-7zM70 421.4h7v2h-7zM70 423.3h7v2h-7zM70 425.2h7v2h-7zM70 427.1h7v2h-7zM70 429h7v2h-7zM70 430.9h7v2h-7zM71 432.8h5v2h-5zM71 434.7h5v2h-5zM71 436.6h5v2h-5zM71 438.6h5v2h-5zM71 440.5h5v2h-5zM71 442.4h4v2h-4zM72 444.3h3v2h-3zM72 446.2h3v2h-3zM72 448.1h3v2h-3zM72 450h2v2h-2zM72 451.9h2v2h-2zM72 453.8h2v2h-2zM73 455.7h1v2h-1z"/>
</g></g>
<g filter="url(#bl2)" clip-path="url(#cpe)"><rect x="62.7" y="372" width="1" height="92" fill="#fff" opacity="0.55"/></g>
<g filter="url(#bl2)"><rect x="62.5" y="464.3" width="3.4" height="22" fill="#b4b4b4"/><rect x="72" y="464.3" width="2.8" height="22" fill="#b4b4b4"/><rect x="72.4" y="467" width="2" height="2.4" fill="#e8401c"/><rect x="72.4" y="477.5" width="2" height="2.4" fill="#f07020"/><rect x="63.6" y="466.5" width="1.8" height="2.2" fill="#f08020"/></g>
<rect x="56" y="371.7" width="173.8" height="114.6" fill="none" stroke="#000" stroke-width="0.9"/>
<text class="tk" x="53.4" y="374.7" text-anchor="end">60</text>
<text class="tk" x="53.4" y="394.12" text-anchor="end">50</text>
<path d="M56 391.12h1.8" stroke="#000" stroke-width="0.8"/>
<text class="tk" x="53.4" y="413.55" text-anchor="end">40</text>
<path d="M56 410.55h1.8" stroke="#000" stroke-width="0.8"/>
<text class="tk" x="53.4" y="432.97" text-anchor="end">30</text>
<path d="M56 429.97h1.8" stroke="#000" stroke-width="0.8"/>
<text class="tk" x="53.4" y="452.39" text-anchor="end">20</text>
<path d="M56 449.39h1.8" stroke="#000" stroke-width="0.8"/>
<text class="tk" x="53.4" y="471.82" text-anchor="end">10</text>
<path d="M56 468.82h1.8" stroke="#000" stroke-width="0.8"/>
<text class="tk" x="53.4" y="489.3" text-anchor="end">1</text>
<text class="tk" x="56" y="497.9" text-anchor="middle">200</text>
<text class="tk" x="84.97" y="497.9" text-anchor="middle">500</text>
<path d="M84.97 371.7v1.6" stroke="#000" stroke-width="0.8"/>
<text class="tk" x="133.24" y="497.9" text-anchor="middle">1000</text>
<path d="M133.24 371.7v1.6" stroke="#000" stroke-width="0.8"/>
<text class="tk" x="181.52" y="497.9" text-anchor="middle">1500</text>
<path d="M181.52 371.7v1.6" stroke="#000" stroke-width="0.8"/>
<text class="tk" x="229.8" y="497.9" text-anchor="middle">2000</text>
<text class="ax" x="142.9" y="507.9" text-anchor="middle" textLength="24.2" lengthAdjust="spacingAndGlyphs">T(K)</text>
<text class="ax" transform="translate(39.2 429) rotate(-90)" text-anchor="middle" textLength="40.5" lengthAdjust="spacingAndGlyphs">time(ps)</text>
<rect x="242.1" y="371.7" width="6.4" height="114.6" fill="url(#jet)"/>
<text class="tk" style="font-size:8.3px" x="251.2" y="375">0</text>
<text class="tk" style="font-size:8.3px" x="251.2" y="394.1">-1</text>
<text class="tk" style="font-size:8.3px" x="251.2" y="413.2">-2</text>
<text class="tk" style="font-size:8.3px" x="251.2" y="432.3">-3</text>
<text class="tk" style="font-size:8.3px" x="251.2" y="451.4">-4</text>
<text class="tk" style="font-size:8.3px" x="251.2" y="470.5">-5</text>
<text class="tk" style="font-size:8.3px" x="251.2" y="489.6">-6</text>
<text class="cbt" x="245.3" y="366.4" text-anchor="middle" textLength="44.4" lengthAdjust="spacingAndGlyphs">log<tspan font-size="5.2px" dy="1.2">10</tspan><tspan dy="-1.2">(P(T))</tspan></text>
<text class="pl" style="font-family:'Liberation Sans', Arial, sans-serif;font-size:15px;letter-spacing:0.6px" x="29.4" y="359.8">(e)</text>
</g>
<g id="panel-f">
<rect x="310.2" y="373.7" width="176.9" height="116.9" fill="#00008f"/>
<g clip-path="url(#cpf)"><g filter="url(#bl)" shape-rendering="crispEdges">
<path fill="#00d4ff" d="M405.1 373.7h1v2h-1zM400.1 379.5h2v2h-2zM394.2 383.4h2v2h-2zM404.1 393.2h1v2h-1zM408.1 395.1h3v2h-3zM406.1 404.9h2v2h-2zM400.1 418.5h1v2h-1zM399.1 422.4h1v2h-1zM383.2 439.9h1v2h-1zM381.2 441.9h2v2h-2zM380.2 443.8h2v2h-2zM328.2 467.2h2v2h-2zM340.2 467.2h2v2h-2zM328.2 482.8h2v2h-2z"/>
<path fill="#00efff" d="M408.1 401h1v2h-1zM332.2 441.9h2v2h-2zM328.2 443.8h2v2h-2zM327.2 445.8h3v2h-3zM332.2 445.8h1v2h-1zM327.2 449.7h3v2h-3zM327.2 451.6h1v2h-1zM327.2 453.6h4v2h-4z"/>
<path fill="#0afff5" d="M406.1 399h4v2h-4zM406.1 401h2v2h-2zM406.1 402.9h1v2h-1zM328.2 465.3h8v2h-8zM338.2 465.3h4v2h-4zM344.2 465.3h8v2h-8zM354.2 465.3h6v2h-6zM364.2 465.3h6v2h-6zM371.2 465.3h1v2h-1z"/>
<path fill="#24ffdb" d="M408.1 397.1h2v2h-2zM404.1 399h2v2h-2zM403.1 401h3v2h-3zM403.1 402.9h1v2h-1zM329.2 404.9h77v2h-77zM329.2 406.8h3v2h-3zM329.2 408.8h6v2h-6zM329.2 410.7h7v2h-7zM329.2 412.7h8v2h-8zM329.2 414.6h9v2h-9zM329.2 416.6h9v2h-9zM329.2 418.5h9v2h-9zM329.2 420.5h8v2h-8zM329.2 422.4h8v2h-8zM329.2 424.4h8v2h-8zM329.2 426.3h7v2h-7zM329.2 428.3h7v2h-7zM329.2 430.2h6v2h-6zM329.2 432.1h6v2h-6zM329.2 434.1h5v2h-5zM329.2 436h5v2h-5zM332.2 438h1v2h-1z"/>
<path fill="#3effc1" d="M405.1 397.1h3v2h-3zM402.1 399h2v2h-2zM402.1 401h1v2h-1zM402.1 402.9h1v2h-1zM330.2 404.9h75v2h-75zM332.2 406.8h1v2h-1zM337.2 412.7h1v2h-1z"/>
<path fill="#58ffa7" d="M402.1 375.6h1v2h-1zM400.1 377.6h1v2h-1zM397.2 379.5h1v2h-1zM394.2 381.5h1v2h-1zM391.2 383.4h1v2h-1zM389.2 385.4h1v2h-1zM392.2 389.3h1v2h-1zM311.2 391.2h86v2h-86zM312.2 393.2h91.9v2h-91.9zM314.2 395.1h93.9v2h-93.9zM316.2 397.1h88.9v2h-88.9zM317.2 399h85v2h-85zM319.2 401h83v2h-83zM320.2 402.9h82v2h-82zM321.2 404.9h8v2h-8zM331.2 404.9h72v2h-72zM322.2 406.8h7v2h-7zM333.2 406.8h2v2h-2zM322.2 408.8h7v2h-7zM335.2 408.8h1v2h-1zM328.2 410.7h1v2h-1zM336.2 410.7h65v2h-65zM328.2 412.7h1v2h-1zM338.2 412.7h62v2h-62zM328.2 414.6h1v2h-1zM338.2 414.6h63v2h-63zM328.2 416.6h1v2h-1zM338.2 416.6h1v2h-1zM328.2 418.5h1v2h-1zM338.2 418.5h1v2h-1zM328.2 420.5h1v2h-1zM337.2 420.5h63v2h-63zM328.2 422.4h1v2h-1zM337.2 422.4h1v2h-1zM328.2 424.4h1v2h-1zM337.2 424.4h61v2h-61zM328.2 426.3h1v2h-1zM336.2 426.3h60v2h-60zM328.2 428.3h1v2h-1zM336.2 428.3h58v2h-58zM328.2 430.2h1v2h-1zM335.2 430.2h1v2h-1zM328.2 432.1h1v2h-1zM335.2 432.1h1v2h-1zM328.2 434.1h1v2h-1zM334.2 434.1h1v2h-1zM328.2 436h1v2h-1zM334.2 436h1v2h-1zM333.2 438h1v2h-1zM378.2 443.8h1v2h-1zM376.2 445.8h1v2h-1zM328.2 463.3h16v2h-16zM346.2 463.3h4v2h-4zM352.2 463.3h20v2h-20z"/>
<path fill="#72ff8d" d="M401.1 397.1h1v2h-1zM399.1 399h2v2h-2zM399.1 401h1v2h-1zM399.1 402.9h1v2h-1zM399.1 404.9h2v2h-2z"/>
<path fill="#8dff72" d="M399.1 397.1h2v2h-2zM398.2 399h1v2h-1zM398.2 401h1v2h-1zM398.2 402.9h1v2h-1zM398.2 404.9h1v2h-1zM400.1 406.8h3v2h-3zM361.2 463.3h2v2h-2zM363.2 471.1h2v2h-2zM361.2 482.8h2v2h-2z"/>
<path fill="#a7ff58" d="M402.1 395.1h5v2h-5zM397.2 397.1h2v2h-2zM323.2 399h75v2h-75zM323.2 401h75v2h-75zM323.2 402.9h5v2h-5zM330.2 402.9h68v2h-68zM323.2 404.9h5v2h-5zM332.2 404.9h66v2h-66zM323.2 406.8h5v2h-5zM335.2 406.8h65v2h-65zM323.2 408.8h5v2h-5zM336.2 408.8h1v2h-1zM323.2 410.7h5v2h-5zM337.2 410.7h1v2h-1zM323.2 412.7h5v2h-5zM339.2 412.7h1v2h-1zM327.2 414.6h1v2h-1zM339.2 414.6h1v2h-1zM327.2 416.6h1v2h-1zM339.2 416.6h1v2h-1zM323.2 418.5h5v2h-5zM339.2 418.5h1v2h-1zM323.2 420.5h5v2h-5zM338.2 420.5h1v2h-1zM323.2 422.4h5v2h-5zM338.2 422.4h1v2h-1zM323.2 424.4h5v2h-5zM338.2 424.4h1v2h-1zM323.2 426.3h5v2h-5zM337.2 426.3h1v2h-1zM323.2 428.3h5v2h-5zM337.2 428.3h1v2h-1zM323.2 430.2h5v2h-5zM336.2 430.2h1v2h-1zM323.2 432.1h5v2h-5zM336.2 432.1h1v2h-1zM323.2 434.1h5v2h-5zM335.2 434.1h1v2h-1zM323.2 436h5v2h-5zM335.2 436h1v2h-1zM323.2 438h5v2h-5zM334.2 438h1v2h-1zM323.2 439.9h1v2h-1zM334.2 439.9h1v2h-1zM323.2 441.9h1v2h-1zM323.2 443.8h1v2h-1zM323.2 445.8h1v2h-1zM374.2 445.8h2v2h-2zM323.2 447.7h1v2h-1zM374.2 447.7h2v2h-2zM323.2 449.7h1v2h-1zM374.2 449.7h2v2h-2zM323.2 451.6h1v2h-1zM374.2 451.6h2v2h-2zM323.2 453.6h1v2h-1zM374.2 453.6h2v2h-2zM323.2 455.5h1v2h-1zM374.2 455.5h2v2h-2zM323.2 457.5h53v2h-53zM323.2 459.4h53v2h-53zM323.2 461.4h53v2h-53zM323.2 463.3h1v2h-1zM374.2 463.3h2v2h-2zM323.2 465.3h1v2h-1zM374.2 465.3h2v2h-2zM323.2 467.2h1v2h-1zM374.2 467.2h2v2h-2zM323.2 469.2h1v2h-1zM374.2 469.2h2v2h-2zM323.2 471.1h1v2h-1zM374.2 471.1h2v2h-2zM323.2 473.1h1v2h-1zM374.2 473.1h2v2h-2zM323.2 475h1v2h-1zM374.2 475h2v2h-2zM323.2 477h1v2h-1zM374.2 477h2v2h-2zM323.2 478.9h1v2h-1zM374.2 478.9h2v2h-2zM323.2 480.9h1v2h-1zM374.2 480.9h2v2h-2zM323.2 482.8h1v2h-1zM374.2 482.8h2v2h-2zM323.2 484.8h1v2h-1zM374.2 484.8h2v2h-2zM323.2 486.7h1v2h-1zM374.2 486.7h2v2h-2zM323.2 488.7h1v2h-1zM374.2 488.7h2v2h-2z"/>
<path fill="#c1ff3e" d="M403.1 373.7h1v2h-1zM401.1 375.6h1v2h-1zM398.2 377.6h2v2h-2zM395.2 379.5h2v2h-2zM392.2 381.5h2v2h-2zM390.2 383.4h1v2h-1zM310.2 389.3h82v2h-82zM393.2 391.2h3v2h-3zM313.2 393.2h89.9v2h-89.9zM315.2 395.1h87v2h-87zM395.2 397.1h2v2h-2zM318.2 399h1v2h-1zM395.2 399h1v2h-1zM395.2 401h1v2h-1zM395.2 402.9h1v2h-1zM395.2 404.9h1v2h-1zM396.2 406.8h2v2h-2zM401.1 408.8h1v2h-1zM396.2 424.4h1v2h-1zM394.2 426.3h1v2h-1zM392.2 428.3h1v2h-1zM390.2 430.2h1v2h-1zM387.2 434.1h1v2h-1zM385.2 436h1v2h-1zM383.2 438h1v2h-1zM381.2 439.9h1v2h-1zM379.2 441.9h1v2h-1zM377.2 443.8h1v2h-1zM328.2 461.4h44v2h-44z"/>
<path fill="#dbff24" d="M402.1 373.7h1v2h-1zM400.1 375.6h1v2h-1zM397.2 377.6h1v2h-1zM394.2 379.5h1v2h-1zM391.2 381.5h1v2h-1zM389.2 383.4h1v2h-1zM388.2 385.4h1v2h-1zM389.2 387.3h1v2h-1zM311.2 389.3h80v2h-80zM312.2 391.2h81v2h-81zM314.2 393.2h83v2h-83zM316.2 395.1h82v2h-82zM317.2 397.1h78v2h-78zM319.2 399h1v2h-1zM394.2 399h1v2h-1zM320.2 401h1v2h-1zM394.2 401h1v2h-1zM321.2 402.9h1v2h-1zM394.2 402.9h1v2h-1zM322.2 404.9h1v2h-1zM394.2 404.9h1v2h-1zM394.2 406.8h2v2h-2zM396.2 408.8h5v2h-5zM399.1 410.7h1v2h-1zM398.2 412.7h1v2h-1zM399.1 414.6h1v2h-1zM399.1 416.6h1v2h-1zM398.2 418.5h1v2h-1zM398.2 420.5h1v2h-1zM397.2 422.4h1v2h-1zM395.2 424.4h1v2h-1zM393.2 426.3h1v2h-1zM391.2 428.3h1v2h-1zM389.2 430.2h1v2h-1zM388.2 432.1h1v2h-1zM386.2 434.1h1v2h-1zM384.2 436h1v2h-1zM382.2 438h1v2h-1zM380.2 439.9h1v2h-1zM378.2 441.9h1v2h-1zM376.2 443.8h1v2h-1z"/>
<path fill="#f5ff0a" d="M393.2 373.7h9v2h-9zM393.2 375.6h7v2h-7zM393.2 377.6h4v2h-4zM393.2 379.5h1v2h-1zM393.2 393.2h3v2h-3zM393.2 395.1h2v2h-2zM393.2 397.1h1v2h-1zM393.2 399h1v2h-1zM393.2 401h1v2h-1zM393.2 402.9h1v2h-1zM392.2 404.9h2v2h-2zM392.2 406.8h2v2h-2zM391.2 408.8h5v2h-5zM390.2 410.7h9v2h-9zM389.2 412.7h9v2h-9zM388.2 414.6h11v2h-11zM387.2 416.6h12v2h-12zM386.2 418.5h12v2h-12zM385.2 420.5h13v2h-13zM383.2 422.4h14v2h-14zM382.2 424.4h13v2h-13zM380.2 426.3h13v2h-13zM379.2 428.3h12v2h-12zM378.2 430.2h11v2h-11zM377.2 432.1h11v2h-11zM376.2 434.1h10v2h-10zM377.2 436h7v2h-7zM377.2 438h5v2h-5zM377.2 439.9h3v2h-3zM364.2 445.8h4v2h-4zM362.2 447.7h8v2h-8zM360.2 449.7h11v2h-11zM358.2 451.6h13v2h-13zM355.2 453.6h16v2h-16zM353.2 455.5h18v2h-18zM349.2 457.5h22v2h-22zM329.2 459.4h42v2h-42z"/>
<path fill="#ffef00" d="M390.2 393.2h3v2h-3zM389.2 395.1h4v2h-4zM388.2 397.1h5v2h-5zM388.2 399h5v2h-5zM387.2 401h6v2h-6zM387.2 402.9h6v2h-6zM387.2 404.9h5v2h-5zM386.2 406.8h6v2h-6zM385.2 408.8h6v2h-6zM385.2 410.7h5v2h-5zM384.2 412.7h5v2h-5zM383.2 414.6h5v2h-5zM381.2 416.6h6v2h-6zM380.2 418.5h6v2h-6zM379.2 420.5h6v2h-6zM378.2 422.4h5v2h-5zM376.2 424.4h6v2h-6zM376.2 426.3h4v2h-4zM375.2 428.3h4v2h-4zM375.2 430.2h3v2h-3zM375.2 432.1h2v2h-2zM375.2 434.1h1v2h-1zM376.2 436h1v2h-1zM376.2 438h1v2h-1zM364.2 439.9h13v2h-13zM362.2 441.9h16v2h-16zM360.2 443.8h8v2h-8zM357.2 445.8h7v2h-7zM368.2 445.8h2v2h-2zM355.2 447.7h7v2h-7zM370.2 447.7h1v2h-1zM352.2 449.7h8v2h-8zM347.2 451.6h11v2h-11zM341.2 453.6h14v2h-14zM331.2 455.5h22v2h-22zM328.2 457.5h21v2h-21zM328.2 459.4h1v2h-1zM333.2 459.4h11v2h-11zM371.2 459.4h1v2h-1z"/>
<path fill="#ffd500" d="M310.2 373.7h2v2h-2zM310.2 375.6h1v2h-1zM390.2 381.5h1v2h-1zM388.2 383.4h1v2h-1zM388.2 387.3h1v2h-1zM312.2 389.3h78v2h-78zM313.2 391.2h79v2h-79zM315.2 393.2h75v2h-75zM317.2 395.1h72v2h-72zM318.2 397.1h70v2h-70zM320.2 399h1v2h-1zM383.2 399h5v2h-5zM321.2 401h1v2h-1zM383.2 401h4v2h-4zM322.2 402.9h1v2h-1zM383.2 402.9h4v2h-4zM383.2 404.9h4v2h-4zM382.2 406.8h4v2h-4zM381.2 408.8h4v2h-4zM381.2 410.7h4v2h-4zM380.2 412.7h4v2h-4zM379.2 414.6h4v2h-4zM378.2 416.6h3v2h-3zM376.2 418.5h4v2h-4zM375.2 420.5h4v2h-4zM375.2 422.4h3v2h-3zM375.2 424.4h1v2h-1zM375.2 426.3h1v2h-1zM363.2 436h13v2h-13zM361.2 438h15v2h-15zM359.2 439.9h5v2h-5zM367.2 439.9h1v2h-1zM356.2 441.9h6v2h-6zM376.2 441.9h1v2h-1zM354.2 443.8h6v2h-6zM368.2 443.8h1v2h-1zM350.2 445.8h7v2h-7zM346.2 447.7h9v2h-9zM342.2 449.7h10v2h-10zM340.2 451.6h7v2h-7zM331.2 453.6h10v2h-10z"/>
<path fill="#ffba00" d="M312.2 373.7h81v2h-81zM311.2 375.6h82v2h-82zM310.2 377.6h83v2h-83zM310.2 379.5h83v2h-83zM310.2 381.5h2v2h-2zM310.2 383.4h2v2h-2zM310.2 385.4h78v2h-78zM310.2 387.3h78v2h-78zM383.2 389.3h5v2h-5zM345.2 391.2h40v2h-40zM343.2 393.2h41v2h-41zM341.2 395.1h42v2h-42zM340.2 397.1h43v2h-43zM339.2 399h44v2h-44zM336.2 401h47v2h-47zM332.2 402.9h51v2h-51zM333.2 404.9h50v2h-50zM336.2 406.8h46v2h-46zM337.2 408.8h44v2h-44zM377.2 410.7h4v2h-4zM376.2 412.7h4v2h-4zM375.2 414.6h4v2h-4zM374.2 416.6h4v2h-4zM373.2 418.5h3v2h-3zM373.2 420.5h2v2h-2zM374.2 422.4h1v2h-1zM374.2 424.4h1v2h-1zM362.2 432.1h4v2h-4zM360.2 434.1h7v2h-7zM358.2 436h5v2h-5zM356.2 438h5v2h-5zM367.2 438h1v2h-1zM353.2 439.9h6v2h-6zM368.2 439.9h8v2h-8zM350.2 441.9h6v2h-6zM368.2 441.9h1v2h-1zM347.2 443.8h7v2h-7zM369.2 443.8h7v2h-7zM344.2 445.8h6v2h-6zM370.2 445.8h1v2h-1zM342.2 447.7h4v2h-4zM340.2 449.7h2v2h-2zM332.2 451.6h8v2h-8zM334.2 453.6h3v2h-3z"/>
<path fill="#ffa000" d="M316.2 373.7h71v2h-71zM314.2 375.6h75v2h-75zM313.2 377.6h77v2h-77zM313.2 379.5h78v2h-78zM312.2 381.5h78v2h-78zM312.2 383.4h76v2h-76zM312.2 385.4h75v2h-75zM312.2 387.3h73v2h-73zM313.2 389.3h70v2h-70zM314.2 391.2h31v2h-31zM350.2 391.2h31v2h-31zM316.2 393.2h27v2h-27zM351.2 393.2h28v2h-28zM318.2 395.1h23v2h-23zM351.2 395.1h27v2h-27zM319.2 397.1h21v2h-21zM349.2 397.1h28v2h-28zM330.2 399h9v2h-9zM347.2 399h31v2h-31zM330.2 401h6v2h-6zM344.2 401h34v2h-34zM331.2 402.9h1v2h-1zM343.2 402.9h35v2h-35zM341.2 404.9h37v2h-37zM340.2 406.8h38v2h-38zM339.2 408.8h38v2h-38zM338.2 410.7h39v2h-39zM340.2 412.7h36v2h-36zM340.2 414.6h35v2h-35zM371.2 416.6h3v2h-3zM371.2 418.5h2v2h-2zM371.2 420.5h2v2h-2zM371.2 422.4h3v2h-3zM362.2 426.3h13v2h-13zM361.2 428.3h4v2h-4zM359.2 430.2h7v2h-7zM357.2 432.1h5v2h-5zM366.2 432.1h1v2h-1zM355.2 434.1h5v2h-5zM367.2 434.1h1v2h-1zM353.2 436h5v2h-5zM367.2 436h1v2h-1zM335.2 438h21v2h-21zM368.2 438h1v2h-1zM335.2 439.9h18v2h-18zM334.2 441.9h16v2h-16zM369.2 441.9h7v2h-7zM334.2 443.8h13v2h-13zM333.2 445.8h11v2h-11zM340.2 447.7h2v2h-2zM339.2 449.7h1v2h-1zM333.2 451.6h5v2h-5zM327.2 457.5h1v2h-1zM327.2 459.4h1v2h-1zM327.2 461.4h1v2h-1zM327.2 463.3h1v2h-1zM327.2 465.3h1v2h-1zM327.2 467.2h1v2h-1zM327.2 469.2h1v2h-1zM327.2 471.1h1v2h-1zM327.2 473.1h1v2h-1zM327.2 475h1v2h-1zM327.2 477h1v2h-1zM327.2 478.9h1v2h-1zM327.2 480.9h1v2h-1zM327.2 482.8h1v2h-1zM327.2 484.8h1v2h-1zM327.2 486.7h1v2h-1zM327.2 488.7h1v2h-1z"/>
<path fill="#ff8600" d="M318.2 373.7h59v2h-59zM317.2 375.6h67v2h-67zM317.2 377.6h70v2h-70zM316.2 379.5h71v2h-71zM316.2 381.5h71v2h-71zM316.2 383.4h70v2h-70zM316.2 385.4h68v2h-68zM316.2 387.3h29v2h-29zM353.2 387.3h29v2h-29zM316.2 389.3h25v2h-25zM358.2 389.3h22v2h-22zM317.2 391.2h22v2h-22zM363.2 391.2h16v2h-16zM318.2 393.2h19v2h-19zM363.2 393.2h14v2h-14zM319.2 395.1h16v2h-16zM360.2 395.1h16v2h-16zM320.2 397.1h12v2h-12zM357.2 397.1h17v2h-17zM321.2 399h1v2h-1zM329.2 399h1v2h-1zM354.2 399h19v2h-19zM322.2 401h1v2h-1zM329.2 401h1v2h-1zM352.2 401h21v2h-21zM350.2 402.9h23v2h-23zM348.2 404.9h25v2h-25zM346.2 406.8h27v2h-27zM345.2 408.8h28v2h-28zM343.2 410.7h30v2h-30zM342.2 412.7h30v2h-30zM341.2 414.6h30v2h-30zM340.2 416.6h31v2h-31zM340.2 418.5h31v2h-31zM339.2 420.5h32v2h-32zM339.2 422.4h25v2h-25zM339.2 424.4h33v2h-33zM358.2 426.3h4v2h-4zM364.2 426.3h2v2h-2zM357.2 428.3h4v2h-4zM365.2 428.3h10v2h-10zM355.2 430.2h4v2h-4zM366.2 430.2h9v2h-9zM353.2 432.1h4v2h-4zM367.2 432.1h8v2h-8zM352.2 434.1h3v2h-3zM336.2 436h17v2h-17zM368.2 436h1v2h-1zM337.2 438h13v2h-13zM337.2 439.9h11v2h-11zM369.2 439.9h1v2h-1zM336.2 441.9h10v2h-10zM335.2 443.8h9v2h-9zM370.2 443.8h1v2h-1zM334.2 445.8h8v2h-8zM333.2 447.7h7v2h-7zM371.2 447.7h1v2h-1zM333.2 449.7h6v2h-6zM371.2 449.7h1v2h-1zM371.2 451.6h1v2h-1zM371.2 453.6h1v2h-1zM371.2 455.5h1v2h-1zM371.2 457.5h1v2h-1z"/>
<path fill="#ff6c00" d="M319.2 373.7h6v2h-6zM319.2 375.6h8v2h-8zM332.2 375.6h2v2h-2zM319.2 377.6h22v2h-22zM360.2 377.6h8v2h-8zM380.2 377.6h4v2h-4zM319.2 379.5h24v2h-24zM356.2 379.5h15v2h-15zM377.2 379.5h8v2h-8zM319.2 381.5h24v2h-24zM356.2 381.5h15v2h-15zM375.2 381.5h10v2h-10zM319.2 383.4h22v2h-22zM361.2 383.4h7v2h-7zM373.2 383.4h11v2h-11zM319.2 385.4h20v2h-20zM372.2 385.4h11v2h-11zM319.2 387.3h17v2h-17zM371.2 387.3h10v2h-10zM320.2 389.3h13v2h-13zM370.2 389.3h9v2h-9zM320.2 391.2h10v2h-10zM369.2 391.2h8v2h-8zM321.2 393.2h8v2h-8zM367.2 393.2h9v2h-9zM321.2 395.1h8v2h-8zM365.2 395.1h9v2h-9zM322.2 397.1h7v2h-7zM363.2 397.1h10v2h-10zM322.2 399h1v2h-1zM328.2 399h1v2h-1zM361.2 399h10v2h-10zM328.2 401h1v2h-1zM359.2 401h11v2h-11zM357.2 402.9h12v2h-12zM355.2 404.9h14v2h-14zM353.2 406.8h17v2h-17zM352.2 408.8h18v2h-18zM350.2 410.7h20v2h-20zM348.2 412.7h22v2h-22zM347.2 414.6h23v2h-23zM345.2 416.6h25v2h-25zM344.2 418.5h26v2h-26zM342.2 420.5h23v2h-23zM341.2 422.4h21v2h-21zM364.2 422.4h7v2h-7zM340.2 424.4h20v2h-20zM365.2 424.4h6v2h-6zM372.2 424.4h2v2h-2zM338.2 426.3h20v2h-20zM366.2 426.3h6v2h-6zM338.2 428.3h19v2h-19zM366.2 428.3h6v2h-6zM337.2 430.2h18v2h-18zM367.2 430.2h1v2h-1zM342.2 432.1h11v2h-11zM368.2 432.1h1v2h-1zM336.2 434.1h16v2h-16zM368.2 434.1h7v2h-7zM340.2 436h10v2h-10zM369.2 436h6v2h-6zM340.2 438h8v2h-8zM369.2 438h1v2h-1zM339.2 439.9h7v2h-7zM370.2 439.9h1v2h-1zM338.2 441.9h6v2h-6zM370.2 441.9h1v2h-1zM337.2 443.8h5v2h-5zM336.2 445.8h4v2h-4zM371.2 445.8h1v2h-1zM335.2 447.7h3v2h-3z"/>
<path fill="#ff5200" d="M320.2 373.7h3v2h-3zM320.2 375.6h4v2h-4zM320.2 377.6h5v2h-5zM320.2 379.5h6v2h-6zM380.2 379.5h3v2h-3zM320.2 381.5h6v2h-6zM378.2 381.5h6v2h-6zM321.2 383.4h6v2h-6zM377.2 383.4h6v2h-6zM321.2 385.4h6v2h-6zM375.2 385.4h6v2h-6zM321.2 387.3h6v2h-6zM374.2 387.3h5v2h-5zM322.2 389.3h5v2h-5zM372.2 389.3h5v2h-5zM322.2 391.2h5v2h-5zM371.2 391.2h4v2h-4zM322.2 393.2h5v2h-5zM369.2 393.2h5v2h-5zM323.2 395.1h5v2h-5zM367.2 395.1h5v2h-5zM323.2 397.1h5v2h-5zM366.2 397.1h5v2h-5zM327.2 399h1v2h-1zM363.2 399h7v2h-7zM361.2 401h7v2h-7zM360.2 402.9h7v2h-7zM358.2 404.9h10v2h-10zM324.2 406.8h1v2h-1zM356.2 406.8h12v2h-12zM324.2 408.8h1v2h-1zM354.2 408.8h15v2h-15zM324.2 410.7h1v2h-1zM353.2 410.7h16v2h-16zM324.2 412.7h1v2h-1zM351.2 412.7h18v2h-18zM324.2 414.6h1v2h-1zM349.2 414.6h20v2h-20zM324.2 416.6h1v2h-1zM348.2 416.6h21v2h-21zM324.2 418.5h1v2h-1zM346.2 418.5h16v2h-16zM364.2 418.5h5v2h-5zM324.2 420.5h1v2h-1zM345.2 420.5h15v2h-15zM365.2 420.5h5v2h-5zM324.2 422.4h1v2h-1zM343.2 422.4h16v2h-16zM366.2 422.4h4v2h-4zM324.2 424.4h1v2h-1zM342.2 424.4h15v2h-15zM366.2 424.4h4v2h-4zM324.2 426.3h1v2h-1zM340.2 426.3h16v2h-16zM367.2 426.3h3v2h-3zM372.2 426.3h1v2h-1zM324.2 428.3h1v2h-1zM339.2 428.3h15v2h-15zM367.2 428.3h4v2h-4zM324.2 430.2h1v2h-1zM338.2 430.2h14v2h-14zM368.2 430.2h4v2h-4zM324.2 432.1h1v2h-1zM337.2 432.1h5v2h-5zM345.2 432.1h6v2h-6zM369.2 432.1h3v2h-3zM324.2 434.1h1v2h-1zM344.2 434.1h5v2h-5zM369.2 434.1h3v2h-3zM324.2 436h1v2h-1zM344.2 436h3v2h-3zM370.2 436h1v2h-1zM324.2 438h1v2h-1zM343.2 438h1v2h-1zM370.2 438h5v2h-5zM324.2 439.9h1v2h-1zM374.2 439.9h1v2h-1zM324.2 441.9h1v2h-1zM374.2 441.9h1v2h-1zM324.2 443.8h1v2h-1zM371.2 443.8h4v2h-4zM324.2 445.8h1v2h-1zM324.2 447.7h1v2h-1zM324.2 449.7h1v2h-1zM324.2 451.6h1v2h-1zM324.2 453.6h1v2h-1zM324.2 455.5h1v2h-1zM324.2 457.5h1v2h-1zM324.2 459.4h1v2h-1zM324.2 461.4h1v2h-1zM324.2 463.3h1v2h-1zM324.2 465.3h1v2h-1zM324.2 467.2h1v2h-1zM324.2 469.2h1v2h-1zM324.2 471.1h1v2h-1zM324.2 473.1h1v2h-1zM324.2 475h1v2h-1zM324.2 477h1v2h-1zM324.2 478.9h1v2h-1zM324.2 480.9h1v2h-1zM324.2 482.8h1v2h-1zM324.2 484.8h1v2h-1zM324.2 486.7h1v2h-1zM324.2 488.7h1v2h-1z"/>
<path fill="#ff3800" d="M322.2 381.5h2v2h-2zM322.2 383.4h2v2h-2zM323.2 385.4h1v2h-1zM323.2 387.3h2v2h-2zM325.2 395.1h1v2h-1zM324.2 397.1h3v2h-3zM324.2 399h3v2h-3zM324.2 401h4v2h-4zM363.2 401h3v2h-3zM324.2 402.9h1v2h-1zM361.2 402.9h5v2h-5zM324.2 404.9h1v2h-1zM360.2 404.9h6v2h-6zM325.2 406.8h2v2h-2zM359.2 406.8h8v2h-8zM325.2 408.8h2v2h-2zM357.2 408.8h11v2h-11zM325.2 410.7h2v2h-2zM355.2 410.7h4v2h-4zM361.2 410.7h7v2h-7zM325.2 412.7h2v2h-2zM354.2 412.7h4v2h-4zM362.2 412.7h6v2h-6zM325.2 414.6h2v2h-2zM352.2 414.6h4v2h-4zM363.2 414.6h5v2h-5zM325.2 416.6h2v2h-2zM350.2 416.6h4v2h-4zM364.2 416.6h4v2h-4zM325.2 418.5h2v2h-2zM349.2 418.5h3v2h-3zM365.2 418.5h3v2h-3zM325.2 420.5h2v2h-2zM347.2 420.5h3v2h-3zM366.2 420.5h2v2h-2zM326.2 422.4h1v2h-1zM346.2 422.4h3v2h-3zM367.2 422.4h2v2h-2zM326.2 424.4h1v2h-1zM344.2 424.4h3v2h-3zM368.2 424.4h1v2h-1zM343.2 426.3h1v2h-1zM368.2 426.3h1v2h-1zM373.2 426.3h1v2h-1zM372.2 428.3h2v2h-2zM372.2 430.2h1v2h-1zM371.2 436h1v2h-1zM371.2 438h1v2h-1zM371.2 439.9h1v2h-1zM371.2 441.9h1v2h-1z"/>
<path fill="#ff1d00" d="M325.2 399h1v2h-1zM325.2 401h2v2h-2zM325.2 402.9h2v2h-2zM325.2 404.9h2v2h-2zM362.2 404.9h3v2h-3zM362.2 406.8h4v2h-4zM363.2 408.8h3v2h-3zM364.2 410.7h2v2h-2zM364.2 412.7h2v2h-2zM325.2 422.4h1v2h-1zM325.2 424.4h1v2h-1zM325.2 426.3h2v2h-2zM325.2 428.3h2v2h-2zM326.2 430.2h1v2h-1zM373.2 430.2h1v2h-1zM326.2 432.1h1v2h-1zM372.2 432.1h2v2h-2zM326.2 434.1h1v2h-1zM372.2 434.1h2v2h-2z"/>
<path fill="#ff0300" d="M325.2 430.2h1v2h-1zM325.2 432.1h1v2h-1zM325.2 434.1h1v2h-1zM325.2 436h2v2h-2zM372.2 436h2v2h-2zM326.2 438h1v2h-1zM372.2 438h2v2h-2zM326.2 439.9h1v2h-1zM372.2 439.9h1v2h-1zM326.2 441.9h1v2h-1zM372.2 441.9h1v2h-1zM326.2 443.8h1v2h-1zM372.2 443.8h1v2h-1zM326.2 445.8h1v2h-1zM372.2 445.8h1v2h-1zM326.2 447.7h1v2h-1zM372.2 447.7h1v2h-1zM326.2 449.7h1v2h-1zM372.2 449.7h1v2h-1zM326.2 451.6h1v2h-1zM372.2 451.6h1v2h-1zM326.2 453.6h1v2h-1zM372.2 453.6h1v2h-1zM326.2 455.5h1v2h-1zM372.2 455.5h1v2h-1zM326.2 457.5h1v2h-1zM372.2 457.5h1v2h-1zM326.2 459.4h1v2h-1zM372.2 459.4h1v2h-1zM326.2 461.4h1v2h-1zM372.2 461.4h1v2h-1zM326.2 463.3h1v2h-1zM372.2 463.3h1v2h-1zM326.2 465.3h1v2h-1zM372.2 465.3h1v2h-1zM326.2 467.2h1v2h-1zM372.2 467.2h1v2h-1zM326.2 469.2h1v2h-1zM372.2 469.2h1v2h-1zM326.2 471.1h1v2h-1zM372.2 471.1h1v2h-1zM326.2 473.1h1v2h-1zM372.2 473.1h1v2h-1zM326.2 475h1v2h-1zM372.2 475h1v2h-1zM326.2 477h1v2h-1zM372.2 477h1v2h-1zM326.2 478.9h1v2h-1zM372.2 478.9h1v2h-1zM326.2 480.9h1v2h-1zM372.2 480.9h1v2h-1zM326.2 482.8h1v2h-1zM372.2 482.8h1v2h-1zM326.2 484.8h1v2h-1zM372.2 484.8h1v2h-1zM326.2 486.7h1v2h-1zM372.2 486.7h1v2h-1zM326.2 488.7h1v2h-1zM372.2 488.7h1v2h-1z"/>
<path fill="#e80000" d="M325.2 438h1v2h-1zM325.2 439.9h1v2h-1zM373.2 439.9h1v2h-1zM325.2 441.9h1v2h-1zM373.2 441.9h1v2h-1zM325.2 443.8h1v2h-1zM373.2 443.8h1v2h-1zM325.2 445.8h1v2h-1zM373.2 445.8h1v2h-1zM325.2 447.7h1v2h-1zM373.2 447.7h1v2h-1zM325.2 449.7h1v2h-1zM373.2 449.7h1v2h-1zM325.2 451.6h1v2h-1zM373.2 451.6h1v2h-1zM325.2 453.6h1v2h-1zM373.2 453.6h1v2h-1zM325.2 455.5h1v2h-1zM373.2 455.5h1v2h-1zM325.2 457.5h1v2h-1zM373.2 457.5h1v2h-1zM325.2 459.4h1v2h-1zM373.2 459.4h1v2h-1zM325.2 461.4h1v2h-1zM373.2 461.4h1v2h-1zM325.2 463.3h1v2h-1zM373.2 463.3h1v2h-1zM325.2 465.3h1v2h-1zM373.2 465.3h1v2h-1zM325.2 467.2h1v2h-1zM373.2 467.2h1v2h-1zM325.2 469.2h1v2h-1zM373.2 469.2h1v2h-1zM325.2 471.1h1v2h-1zM373.2 471.1h1v2h-1zM325.2 473.1h1v2h-1zM373.2 473.1h1v2h-1zM325.2 475h1v2h-1zM373.2 475h1v2h-1zM325.2 477h1v2h-1zM373.2 477h1v2h-1zM325.2 478.9h1v2h-1zM373.2 478.9h1v2h-1zM325.2 480.9h1v2h-1zM373.2 480.9h1v2h-1zM325.2 482.8h1v2h-1zM373.2 482.8h1v2h-1zM325.2 484.8h1v2h-1zM373.2 484.8h1v2h-1zM325.2 486.7h1v2h-1zM373.2 486.7h1v2h-1zM325.2 488.7h1v2h-1zM373.2 488.7h1v2h-1z"/>
</g></g>
<g filter="url(#bl2)" clip-path="url(#cpf)"><rect x="325.2" y="424" width="1.6" height="66.6" fill="#f51400"/><rect x="372.5" y="440" width="1.6" height="50.6" fill="#f51400"/></g>
<g filter="url(#bl2)" clip-path="url(#cpf)"><rect x="323.4" y="416" width="1" height="74.6" fill="#fff" opacity="0.55"/><rect x="374.9" y="447" width="1" height="43.6" fill="#fff" opacity="0.55"/></g>
<rect x="310.2" y="373.7" width="176.9" height="116.9" fill="none" stroke="#000" stroke-width="0.9"/>
<text class="tk" x="307.6" y="376.7" text-anchor="end">60</text>
<text class="tk" x="307.6" y="396.51" text-anchor="end">50</text>
<path d="M310.2 393.51h1.8" stroke="#000" stroke-width="0.8"/>
<text class="tk" x="307.6" y="416.33" text-anchor="end">40</text>
<path d="M310.2 413.33h1.8" stroke="#000" stroke-width="0.8"/>
<text class="tk" x="307.6" y="436.14" text-anchor="end">30</text>
<path d="M310.2 433.14h1.8" stroke="#000" stroke-width="0.8"/>
<text class="tk" x="307.6" y="455.95" text-anchor="end">20</text>
<path d="M310.2 452.95h1.8" stroke="#000" stroke-width="0.8"/>
<text class="tk" x="307.6" y="475.77" text-anchor="end">10</text>
<path d="M310.2 472.77h1.8" stroke="#000" stroke-width="0.8"/>
<text class="tk" x="307.6" y="493.6" text-anchor="end">1</text>
<text class="tk" x="310.2" y="502.2" text-anchor="middle">-1</text>
<text class="tk" x="358.45" y="502.2" text-anchor="middle">2</text>
<path d="M358.45 373.7v1.6" stroke="#000" stroke-width="0.8"/>
<text class="tk" x="406.69" y="502.2" text-anchor="middle">5</text>
<path d="M406.69 373.7v1.6" stroke="#000" stroke-width="0.8"/>
<text class="tk" x="454.94" y="502.2" text-anchor="middle">8</text>
<path d="M454.94 373.7v1.6" stroke="#000" stroke-width="0.8"/>
<text class="tk" x="487.1" y="502.2" text-anchor="middle">10</text>
<text class="ax" x="398.65" y="512.2" text-anchor="middle" textLength="35.8" lengthAdjust="spacingAndGlyphs">p(GPa)</text>
<text class="ax" transform="translate(293.4 432.15) rotate(-90)" text-anchor="middle" textLength="40.5" lengthAdjust="spacingAndGlyphs">time(ps)</text>
<rect x="494.6" y="373.7" width="6.4" height="116.9" fill="url(#jet)"/>
<text class="tk" style="font-size:8.3px" x="503.7" y="377">0</text>
<text class="tk" style="font-size:8.3px" x="503.7" y="396.48">-1</text>
<text class="tk" style="font-size:8.3px" x="503.7" y="415.97">-2</text>
<text class="tk" style="font-size:8.3px" x="503.7" y="435.45">-3</text>
<text class="tk" style="font-size:8.3px" x="503.7" y="454.93">-4</text>
<text class="tk" style="font-size:8.3px" x="503.7" y="474.42">-5</text>
<text class="tk" style="font-size:8.3px" x="503.7" y="493.9">-6</text>
<text class="cbt" x="497.8" y="368.4" text-anchor="middle" textLength="42" lengthAdjust="spacingAndGlyphs">log<tspan font-size="5.2px" dy="1.2">10</tspan><tspan dy="-1.2">(P(p))</tspan></text>
<text class="pl" style="font-family:'Liberation Serif', 'Times New Roman', serif" x="281.8" y="360.2">(f)</text>
</g>
</svg></body></html>
